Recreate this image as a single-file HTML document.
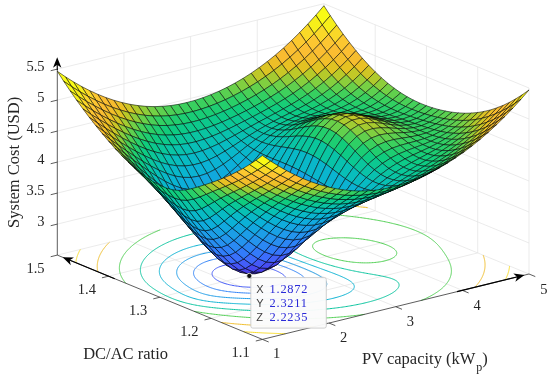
<!DOCTYPE html><html><head><meta charset="utf-8"><style>html,body{margin:0;padding:0;background:#fff}svg{display:block}</style></head><body><svg width="550" height="377" viewBox="0 0 550 377">
<rect width="550" height="377" fill="#fff"/>
<path d="M123.95,238.75L123.95,52.75M329.05,323.05L123.95,238.75M190.6,222.4L190.6,36.4M395.7,306.7L190.6,222.4M257.25,206.05L257.25,20.05M462.35,290.35L257.25,206.05M323.9,189.7L323.9,3.7M529,274L323.9,189.7M529,274L529,88M477.73,252.92L477.73,66.92M426.45,231.85L426.45,45.85M375.18,210.77L375.18,24.77M211.12,318.32L477.73,252.92M159.85,297.25L426.45,231.85M108.57,276.18L375.18,210.77M57.3,255.1L323.9,189.7M57.3,224.1L323.9,158.7L529,243M57.3,193.1L323.9,127.7L529,212M57.3,162.1L323.9,96.7L529,181M57.3,131.1L323.9,65.7L529,150M57.3,100.1L323.9,34.7L529,119M57.3,69.1L323.9,3.7L529,88" fill="none" stroke="#e4e4e4" stroke-width="0.75"/>
<path d="M230.22,264.28 230.37,264.26 231.77,264.11 233.22,263.98 233.97,263.92 234.74,263.87 236.32,263.79 236.86,263.77 237.97,263.74 239.34,263.73 239.7,263.73 241.52,263.74 241.56,263.74 243.44,263.8 243.59,263.81 245.46,263.91 245.47,263.91 247.24,264.03 247.62,264.06 248.92,264.18 249.93,264.28 250.53,264.35 252.06,264.53 252.42,264.58 253.54,264.73 254.96,264.94 255.15,264.97 256.34,265.17 257.67,265.4 258.22,265.5 258.96,265.65 260.21,265.9 261.44,266.16 261.77,266.23 262.62,266.43 263.78,266.71 264.91,266.99 266.02,267.28 266.24,267.34 267.09,267.58 268.13,267.88 269.16,268.19 270.16,268.51 271.13,268.83 272.09,269.16 273.01,269.49 273.92,269.83 274.8,270.17 275.66,270.52 276.49,270.88 277.3,271.24 278.08,271.61 278.84,271.99 279.57,272.37 280.28,272.76 280.96,273.15 281.61,273.55 282.04,273.84 282.23,273.96 282.8,274.38 283.35,274.81 283.86,275.24 284.01,275.37 284.33,275.69 284.75,276.15 285.07,276.54 285.13,276.61 285.44,277.1 285.66,277.51 285.7,277.6 285.87,278.11 285.93,278.35 285.97,278.65 285.99,279.1 285.98,279.21 285.87,279.78 285.86,279.8 285.6,280.4 285.59,280.43 285.22,280.97 285.1,281.11 284.73,281.5 284.33,281.86 284.16,282 283.51,282.46 283.05,282.73 282.78,282.89 281.99,283.29 281.15,283.68 280.59,283.9 280.24,284.03 279.28,284.37 278.28,284.68 277.22,284.98 276.12,285.26 274.98,285.51 273.79,285.76 272.56,285.98 271.29,286.19 271.2,286.2 269.98,286.38 268.63,286.55 267.23,286.71 266.6,286.77 265.8,286.84 264.32,286.97 263.19,287.04 262.8,287.07 261.23,287.16 260.28,287.2 259.62,287.22 257.96,287.27 257.67,287.28 256.25,287.3 255.28,287.3 254.49,287.3 253.05,287.29 252.67,287.28 250.94,287.24 250.79,287.24 248.95,287.17 248.84,287.17 247.05,287.08 246.81,287.06 245.24,286.96 244.69,286.92 243.5,286.83 242.47,286.73 241.83,286.67 240.22,286.51 240.12,286.5 238.68,286.33 237.58,286.18 237.19,286.13 235.75,285.92 234.81,285.77 234.37,285.7 233.03,285.47 231.74,285.22 231.65,285.2 230.51,284.97 229.31,284.7 228.16,284.42 227.63,284.28 227.05,284.13 225.99,283.83 224.96,283.52 223.97,283.2 223.02,282.87 222.11,282.54 221.24,282.19 220.4,281.84 219.6,281.47 218.83,281.1 218.1,280.72 217.41,280.33 216.75,279.93 216.26,279.61 216.13,279.52 215.54,279.1 215,278.67 214.49,278.24 214.33,278.08 214.03,277.79 213.6,277.33 213.26,276.92 213.22,276.87 212.89,276.39 212.62,275.92 212.61,275.9 212.38,275.39 212.26,275.05 212.21,274.87 212.1,274.34 212.09,274.25 212.06,273.78 212.07,273.51 212.1,273.21 212.17,272.82 212.23,272.62 212.38,272.18 212.46,272 212.68,271.57 212.81,271.36 213.06,271 213.32,270.67 213.5,270.46 214.01,269.94 214.02,269.94 214.59,269.44 214.99,269.14 215.22,268.97 215.9,268.52 216.39,268.24 216.63,268.1 217.42,267.69 218.24,267.3 218.68,267.11 219.12,266.93 220.04,266.58 221,266.25 222.01,265.93 223.06,265.64 224.16,265.36 225.31,265.1 226.5,264.86 227.74,264.64 229.03,264.44 230.22,264.28" fill="none" stroke="#445af7" stroke-width="1.0"/>
<path d="M221.08,258.11 222.17,257.98 223.57,257.82 225.01,257.69 225.14,257.68 226.5,257.57 228.03,257.47 228.34,257.45 229.61,257.39 231.09,257.34 231.25,257.33 232.94,257.3 233.54,257.3 234.7,257.3 235.79,257.31 236.53,257.32 237.89,257.35 238.43,257.37 239.86,257.43 240.42,257.46 241.73,257.53 242.5,257.58 243.5,257.66 244.69,257.75 245.21,257.8 246.85,257.96 247,257.97 248.43,258.13 249.45,258.25 249.96,258.32 251.45,258.51 252.07,258.6 252.89,258.72 254.29,258.94 254.9,259.03 255.66,259.16 257,259.39 257.98,259.57 258.32,259.63 259.6,259.88 260.86,260.13 261.38,260.24 262.09,260.39 263.3,260.65 264.49,260.92 265.23,261.1 265.66,261.2 266.81,261.48 267.95,261.76 269.07,262.04 269.75,262.22 270.17,262.33 271.25,262.63 272.33,262.93 273.38,263.23 274.43,263.53 275.46,263.84 275.48,263.85 276.47,264.15 277.48,264.47 278.47,264.79 279.45,265.11 280.42,265.43 281.37,265.76 282.32,266.09 283.25,266.42 284.17,266.75 285.08,267.09 285.82,267.37 285.98,267.43 286.87,267.77 287.74,268.12 288.6,268.47 289.46,268.82 290.3,269.18 291.12,269.53 291.59,269.74 291.94,269.9 292.74,270.26 293.53,270.63 294.3,271 295.06,271.37 295.8,271.75 296.53,272.13 297.25,272.52 297.95,272.91 298.63,273.3 298.95,273.5 299.29,273.7 299.93,274.1 300.55,274.51 301.15,274.93 301.73,275.35 301.79,275.39 302.28,275.77 302.81,276.2 303.31,276.64 303.5,276.82 303.77,277.09 304.2,277.54 304.61,278.01 304.61,278.01 304.96,278.48 305.28,278.96 305.32,279.03 305.55,279.46 305.75,279.94 305.76,279.96 305.92,280.49 305.97,280.76 306,281.03 306.02,281.51 306.02,281.59 305.94,282.17 305.93,282.2 305.75,282.77 305.72,282.84 305.43,283.41 305.41,283.44 305.01,284.01 304.94,284.09 304.54,284.54 304.24,284.83 303.99,285.05 303.39,285.53 303.24,285.63 302.72,285.98 302.01,286.42 301.75,286.56 301.24,286.83 300.44,287.23 299.58,287.61 299.33,287.71 298.69,287.97 297.77,288.32 296.8,288.65 295.8,288.97 294.77,289.28 293.71,289.57 292.62,289.85 291.5,290.12 290.35,290.38 289.17,290.62 287.97,290.85 286.74,291.08 285.48,291.29 284.2,291.49 283.54,291.59 282.89,291.68 281.55,291.86 280.19,292.03 278.8,292.19 278.79,292.19 277.39,292.34 275.95,292.48 275.01,292.56 274.48,292.6 272.99,292.72 271.7,292.81 271.48,292.82 269.93,292.92 268.7,292.98 268.36,293 266.76,293.07 265.91,293.11 265.14,293.13 263.48,293.18 263.29,293.19 261.8,293.22 260.81,293.24 260.09,293.25 258.43,293.26 258.34,293.26 256.57,293.26 256.15,293.26 254.77,293.25 253.94,293.24 252.93,293.22 251.81,293.2 251.07,293.18 249.73,293.15 249.16,293.13 247.72,293.08 247.23,293.06 245.75,293 245.25,292.98 243.83,292.91 243.24,292.88 241.96,292.81 241.18,292.77 240.13,292.7 239.07,292.63 238.34,292.58 236.91,292.47 236.6,292.45 234.89,292.3 234.68,292.28 233.23,292.15 232.37,292.06 231.61,291.99 230.03,291.81 229.97,291.8 228.5,291.63 227.42,291.49 227.01,291.43 225.56,291.23 224.69,291.09 224.16,291.01 222.8,290.78 221.66,290.58 221.48,290.54 220.21,290.29 218.98,290.04 218.06,289.83 217.8,289.77 216.65,289.49 215.54,289.2 214.47,288.9 213.44,288.59 212.77,288.38 212.44,288.28 211.47,287.95 210.54,287.62 209.64,287.28 208.76,286.93 207.91,286.58 207.09,286.22 206.29,285.86 205.52,285.49 204.77,285.11 204.6,285.02 204.04,284.73 203.33,284.34 202.65,283.95 201.98,283.55 201.34,283.15 200.72,282.74 200.56,282.63 200.11,282.32 199.53,281.91 198.97,281.48 198.44,281.05 198.38,281.01 197.92,280.62 197.43,280.18 196.96,279.73 196.89,279.67 196.52,279.28 196.1,278.82 195.82,278.5 195.7,278.36 195.34,277.89 195.02,277.44 195,277.41 194.7,276.92 194.45,276.47 194.42,276.43 194.18,275.93 194.04,275.58 193.98,275.42 193.81,274.9 193.76,274.74 193.68,274.37 193.61,273.94 193.59,273.83 193.55,273.28 193.55,273.19 193.56,272.72 193.57,272.47 193.61,272.14 193.67,271.78 193.73,271.55 193.84,271.12 193.9,270.95 194.07,270.49 194.14,270.33 194.36,269.88 194.46,269.69 194.7,269.29 194.87,269.03 195.08,268.72 195.37,268.34 195.51,268.16 195.98,267.63 195.98,267.63 196.5,267.11 196.73,266.89 197.05,266.61 197.63,266.12 197.65,266.1 198.25,265.64 198.79,265.26 198.9,265.18 199.59,264.73 200.22,264.35 200.3,264.3 201.05,263.88 201.83,263.47 202.11,263.33 202.63,263.07 203.47,262.68 204.33,262.31 204.88,262.09 205.22,261.95 206.14,261.6 207.09,261.26 208.07,260.93 209.07,260.61 210.11,260.31 211.17,260.02 212.26,259.74 213.39,259.47 214.54,259.22 215.73,258.97 216.95,258.75 218.2,258.53 219.48,258.33 220.81,258.15 221.08,258.11" fill="none" stroke="#2e81f8" stroke-width="1.0"/>
<path d="M211.98,251.93 212.57,251.84 213.89,251.66 215.25,251.49 216.64,251.33 216.75,251.32 218.07,251.19 219.53,251.06 220.36,251 221.03,250.95 222.57,250.85 223.41,250.81 224.15,250.77 225.79,250.71 226.12,250.71 227.47,250.68 228.57,250.67 229.21,250.66 230.83,250.67 231.01,250.67 232.87,250.71 232.95,250.71 234.81,250.78 234.94,250.79 236.83,250.88 236.84,250.88 238.63,251 238.96,251.03 240.36,251.14 241.19,251.21 242.02,251.29 243.54,251.45 243.62,251.46 245.17,251.64 246.05,251.75 246.67,251.83 248.13,252.04 248.72,252.12 249.55,252.25 250.94,252.47 251.61,252.58 252.29,252.7 253.62,252.93 254.76,253.15 254.92,253.18 256.19,253.42 257.44,253.68 258.24,253.85 258.67,253.94 259.88,254.2 261.07,254.47 262.14,254.72 262.24,254.74 263.4,255.02 264.54,255.3 265.67,255.59 266.62,255.83 266.78,255.87 267.88,256.17 268.97,256.46 270.05,256.76 271.12,257.05 271.93,257.28 272.18,257.36 273.22,257.66 274.26,257.97 275.29,258.27 276.32,258.58 277.33,258.89 278.34,259.21 278.51,259.26 279.34,259.52 280.34,259.84 281.32,260.16 282.31,260.48 283.28,260.8 284.25,261.12 285.22,261.45 286.18,261.77 287.13,262.1 287.52,262.24 288.08,262.43 289.02,262.76 289.96,263.09 290.89,263.42 291.82,263.75 292.74,264.09 293.66,264.42 294.57,264.76 295.48,265.1 296.39,265.44 297.29,265.78 298.18,266.12 299.07,266.46 299.95,266.81 300.83,267.15 301.71,267.5 302.57,267.85 303.44,268.2 304.29,268.55 305.14,268.9 305.99,269.25 306.82,269.61 307.65,269.97 308.48,270.33 309.29,270.69 310.1,271.05 310.9,271.41 311.69,271.78 312.48,272.15 313.25,272.52 314.01,272.89 314.77,273.27 315.51,273.65 316.24,274.03 316.31,274.07 316.95,274.42 317.66,274.8 318.35,275.2 319.02,275.59 319.68,275.99 320.33,276.39 320.56,276.55 320.95,276.8 321.55,277.21 322.14,277.63 322.7,278.05 322.96,278.26 323.23,278.48 323.74,278.92 324.23,279.36 324.49,279.62 324.68,279.81 325.1,280.27 325.48,280.74 325.5,280.76 325.82,281.21 326.12,281.7 326.15,281.76 326.37,282.2 326.55,282.65 326.57,282.71 326.7,283.24 326.74,283.46 326.77,283.79 326.78,284.2 326.77,284.35 326.68,284.89 326.67,284.93 326.48,285.54 326.48,285.54 326.18,286.15 326.16,286.18 325.8,286.72 325.69,286.86 325.35,287.26 325.04,287.58 324.83,287.78 324.26,288.27 324.15,288.36 323.63,288.74 322.96,289.2 322.93,289.22 322.24,289.63 321.49,290.05 321.18,290.21 320.69,290.45 319.86,290.84 319,291.21 318.47,291.43 318.11,291.58 317.19,291.93 316.23,292.27 315.26,292.59 314.25,292.91 313.23,293.22 312.17,293.51 311.1,293.8 310.95,293.84 310,294.08 308.88,294.35 308.75,294.38 307.74,294.61 306.58,294.86 305.4,295.1 304.2,295.34 302.98,295.57 301.74,295.78 300.48,296 299.2,296.2 298.77,296.26 297.9,296.4 296.59,296.58 295.25,296.76 293.9,296.94 293.58,296.98 292.53,297.1 291.14,297.26 289.73,297.41 289.37,297.45 288.31,297.55 286.86,297.69 285.67,297.79 285.4,297.82 283.92,297.94 282.42,298.05 282.32,298.06 280.9,298.15 279.36,298.25 279.21,298.26 277.8,298.34 276.28,298.42 276.22,298.42 274.62,298.49 273.51,298.54 273,298.56 271.36,298.61 270.85,298.63 269.7,298.66 268.3,298.69 268.02,298.7 266.32,298.73 265.84,298.73 264.6,298.75 263.45,298.76 262.86,298.76 261.13,298.77 261.1,298.77 259.32,298.76 258.87,298.76 257.51,298.75 256.66,298.74 255.69,298.73 254.49,298.71 253.85,298.7 252.37,298.67 251.98,298.67 250.27,298.63 250.1,298.62 248.21,298.57 248.2,298.57 246.29,298.51 246.18,298.51 244.35,298.44 244.18,298.44 242.4,298.37 242.2,298.36 240.43,298.29 240.24,298.28 238.44,298.2 238.31,298.19 236.43,298.1 236.4,298.1 234.51,298 234.4,298 232.65,297.9 232.34,297.88 230.82,297.79 230.25,297.75 229.01,297.67 228.13,297.61 227.24,297.55 225.96,297.45 225.5,297.41 223.79,297.27 223.74,297.27 222.13,297.12 221.45,297.05 220.5,296.95 219.06,296.8 218.92,296.78 217.39,296.6 216.52,296.48 215.9,296.4 214.45,296.19 213.8,296.09 213.06,295.98 211.71,295.75 210.75,295.57 210.4,295.51 209.15,295.25 207.93,294.99 207.09,294.79 206.76,294.72 205.63,294.43 204.54,294.14 203.49,293.84 202.47,293.53 201.49,293.21 201.25,293.12 200.54,292.88 199.62,292.54 198.73,292.2 197.87,291.85 197.03,291.49 196.21,291.13 195.42,290.77 194.85,290.49 194.65,290.4 193.9,290.02 193.16,289.64 192.44,289.25 191.74,288.87 191.05,288.47 190.38,288.08 189.72,287.68 189.59,287.6 189.07,287.28 188.43,286.87 187.81,286.47 187.2,286.05 186.61,285.65 186.6,285.64 186.01,285.22 185.43,284.8 184.87,284.38 184.38,284 184.32,283.96 183.78,283.53 183.26,283.09 182.75,282.66 182.64,282.56 182.26,282.22 181.78,281.78 181.31,281.33 181.24,281.25 180.87,280.88 180.44,280.42 180.12,280.06 180.03,279.96 179.63,279.5 179.26,279.03 179.21,278.96 178.91,278.55 178.58,278.07 178.49,277.94 178.27,277.59 177.99,277.1 177.93,276.97 177.73,276.6 177.5,276.09 177.48,276.06 177.29,275.58 177.15,275.2 177.11,275.07 176.96,274.54 176.92,274.37 176.84,274.01 176.76,273.58 176.75,273.47 176.69,272.93 176.69,272.82 176.67,272.37 176.67,272.09 176.69,271.81 176.72,271.38 176.74,271.23 176.83,270.69 176.83,270.65 176.97,270.05 176.98,270.02 177.15,269.45 177.18,269.38 177.39,268.83 177.42,268.75 177.67,268.2 177.7,268.13 178.02,267.55 178.03,267.54 178.38,266.96 178.42,266.89 178.77,266.39 178.9,266.22 179.19,265.83 179.45,265.52 179.65,265.29 180.08,264.8 180.13,264.76 180.64,264.24 180.82,264.06 181.17,263.73 181.66,263.3 181.73,263.23 182.32,262.74 182.63,262.49 182.93,262.26 183.57,261.8 183.76,261.66 184.22,261.34 184.9,260.89 185.09,260.77 185.61,260.45 186.33,260.02 186.68,259.82 187.08,259.59 187.84,259.18 188.61,258.78 188.63,258.77 189.44,258.38 190.27,257.99 191.12,257.61 191.12,257.61 191.99,257.24 192.88,256.87 193.79,256.52 194.72,256.17 194.79,256.15 195.67,255.83 196.64,255.5 197.63,255.18 198.64,254.87 199.68,254.56 200.73,254.27 201.81,253.98 202.91,253.71 204.03,253.44 205.17,253.18 206.34,252.93 207.53,252.69 208.75,252.46 210,252.24 211.27,252.04 211.98,251.93" fill="none" stroke="#1d9ce8" stroke-width="1.0"/>
<path d="M198.26,245.2 199.36,244.96 200.54,244.71 201.73,244.47 202.94,244.24 204.18,244.02 205.43,243.81 206.7,243.6 207.66,243.45 208,243.4 209.32,243.22 210.66,243.04 212.03,242.87 212.54,242.82 213.43,242.72 214.86,242.58 216.32,242.45 216.35,242.44 217.81,242.33 219.33,242.23 219.57,242.22 220.9,242.14 222.42,242.08 222.5,242.07 224.16,242.03 224.99,242.01 225.86,242 227.35,241.99 227.62,241.99 229.45,242.01 229.53,242.02 231.35,242.07 231.58,242.07 233.34,242.15 233.51,242.16 235.33,242.28 235.43,242.28 237.06,242.41 237.64,242.46 238.72,242.57 240,242.7 240.31,242.74 241.83,242.93 242.55,243.02 243.29,243.13 244.71,243.34 245.35,243.44 246.08,243.57 247.41,243.8 248.49,244.01 248.69,244.05 249.95,244.3 251.17,244.56 252.13,244.78 252.36,244.83 253.53,245.1 254.67,245.38 255.79,245.67 256.6,245.88 256.89,245.96 257.98,246.26 259.04,246.56 260.09,246.86 261.12,247.17 262.14,247.48 262.59,247.61 263.15,247.79 264.15,248.11 265.14,248.42 266.12,248.75 267.09,249.07 268.06,249.39 269.01,249.72 269.96,250.05 270.91,250.38 271.85,250.71 272.1,250.79 272.78,251.04 273.72,251.37 274.64,251.7 275.57,252.04 276.49,252.37 277.41,252.71 278.33,253.04 279.24,253.38 280.16,253.71 281.07,254.05 281.98,254.39 282.89,254.73 283.8,255.06 284.71,255.4 285.62,255.74 286.53,256.08 287.44,256.42 288.35,256.75 288.65,256.87 289.25,257.09 290.16,257.43 291.07,257.77 291.98,258.11 292.89,258.44 293.8,258.78 294.71,259.12 295.62,259.46 296.53,259.79 297.45,260.13 298.36,260.47 299.27,260.8 300.19,261.14 301.1,261.48 302.02,261.81 302.93,262.15 303.85,262.49 304.77,262.82 305.69,263.16 306,263.27 306.61,263.49 307.53,263.83 308.45,264.16 309.37,264.5 310.3,264.83 311.22,265.17 312.14,265.5 313.07,265.83 313.99,266.17 314.92,266.5 315.84,266.84 316.77,267.17 317.69,267.5 318.61,267.84 319.54,268.17 320.46,268.51 320.89,268.66 321.39,268.84 322.31,269.18 323.23,269.51 324.16,269.84 325.08,270.18 325.99,270.52 326.91,270.85 327.83,271.19 328.74,271.52 329.65,271.86 330.56,272.2 331.46,272.54 332.36,272.88 333.26,273.22 334.15,273.56 335.04,273.91 335.92,274.25 336.8,274.6 337.67,274.94 338.53,275.29 339.38,275.64 340.23,276 341.06,276.35 341.89,276.71 342.7,277.07 343.5,277.44 344.29,277.81 345.06,278.18 345.82,278.55 346.56,278.93 347.28,279.32 347.98,279.71 348.51,280.01 348.66,280.1 349.31,280.5 349.94,280.91 350.54,281.32 351.1,281.74 351.27,281.88 351.64,282.17 352.13,282.61 352.59,283.06 352.72,283.2 353,283.52 353.37,283.99 353.56,284.28 353.69,284.48 353.94,284.97 354.04,285.2 354.14,285.49 354.26,286.02 354.26,286.02 354.31,286.57 354.3,286.77 354.26,287.14 354.2,287.46 354.12,287.73 353.99,288.1 353.87,288.36 353.68,288.7 353.48,289.01 353.29,289.27 352.93,289.71 352.84,289.81 352.33,290.33 352.2,290.45 351.76,290.83 351.22,291.25 351.15,291.3 350.49,291.76 349.92,292.13 349.79,292.21 349.06,292.63 348.3,293.05 348.16,293.12 347.5,293.45 346.68,293.84 345.83,294.22 345.66,294.3 344.96,294.59 344.06,294.95 343.13,295.3 342.19,295.64 341.52,295.87 341.22,295.97 340.24,296.3 339.23,296.61 338.21,296.92 337.17,297.22 336.11,297.52 335.03,297.8 333.94,298.08 332.83,298.36 331.7,298.62 330.56,298.88 329.41,299.14 328.24,299.39 327.05,299.63 325.85,299.86 324.64,300.09 323.41,300.32 323.41,300.32 322.16,300.53 320.91,300.75 319.64,300.95 318.35,301.16 317.06,301.35 316.68,301.41 315.74,301.54 314.42,301.73 313.08,301.91 311.73,302.08 311.57,302.1 310.37,302.25 308.99,302.41 307.6,302.57 307.2,302.61 306.19,302.72 304.77,302.87 303.34,303.01 303.27,303.01 301.9,303.14 300.44,303.27 299.67,303.33 298.97,303.39 297.48,303.51 296.3,303.6 295.98,303.62 294.46,303.73 293.12,303.82 292.93,303.83 291.39,303.93 290.1,304 289.83,304.01 288.26,304.1 287.21,304.15 286.67,304.17 285.07,304.24 284.43,304.27 283.45,304.31 281.82,304.37 281.74,304.37 280.17,304.42 279.14,304.44 278.5,304.46 276.82,304.5 276.62,304.5 275.12,304.53 274.16,304.54 273.41,304.55 271.77,304.57 271.67,304.57 269.92,304.58 269.43,304.58 268.16,304.58 267.15,304.58 266.37,304.58 264.91,304.57 264.57,304.57 262.75,304.55 262.71,304.55 260.92,304.52 260.55,304.52 259.07,304.49 258.42,304.48 257.2,304.45 256.33,304.43 255.31,304.41 254.26,304.38 253.41,304.35 252.22,304.32 251.49,304.3 250.2,304.25 249.56,304.23 248.2,304.18 247.62,304.16 246.22,304.11 245.66,304.09 244.26,304.03 243.69,304 242.31,303.94 241.71,303.92 240.37,303.86 239.71,303.83 238.45,303.77 237.71,303.73 236.55,303.67 235.69,303.63 234.66,303.58 233.65,303.53 232.78,303.48 231.61,303.41 230.92,303.37 229.54,303.29 229.08,303.26 227.45,303.16 227.25,303.15 225.45,303.03 225.34,303.03 223.67,302.91 223.2,302.88 221.91,302.78 221.03,302.71 220.18,302.64 218.81,302.53 218.48,302.5 216.82,302.35 216.53,302.32 215.18,302.19 214.17,302.08 213.58,302.02 212.02,301.84 211.73,301.81 210.49,301.65 209.17,301.48 209,301.46 207.55,301.25 206.43,301.09 206.14,301.04 204.76,300.82 203.46,300.59 203.42,300.59 202.11,300.34 200.84,300.09 200.1,299.94 199.61,299.84 198.41,299.57 197.24,299.3 196.1,299.01 196.01,298.99 195,298.72 193.93,298.43 192.88,298.12 191.87,297.81 190.88,297.49 189.91,297.17 189.15,296.9 188.97,296.84 188.06,296.5 187.17,296.16 186.3,295.81 185.45,295.46 184.62,295.1 183.8,294.74 183.04,294.39 183.01,294.37 182.23,294 181.47,293.63 180.72,293.25 179.99,292.87 179.27,292.49 178.56,292.1 177.86,291.71 177.17,291.32 176.77,291.08 176.5,290.92 175.83,290.52 175.18,290.12 174.53,289.72 173.89,289.32 173.26,288.91 173.26,288.91 172.64,288.5 172.03,288.09 171.43,287.68 170.84,287.26 170.59,287.08 170.26,286.84 169.69,286.42 169.12,286 168.57,285.58 168.44,285.47 168.03,285.15 167.5,284.72 166.98,284.28 166.67,284.01 166.48,283.85 165.98,283.41 165.5,282.96 165.22,282.69 165.04,282.52 164.59,282.07 164.15,281.61 164.01,281.46 163.73,281.16 163.32,280.69 163.01,280.32 162.93,280.23 162.56,279.76 162.2,279.29 162.18,279.25 161.86,278.81 161.55,278.32 161.49,278.24 161.24,277.84 160.96,277.35 160.93,277.28 160.7,276.85 160.47,276.36 160.46,276.35 160.24,275.84 160.1,275.48 160.05,275.33 159.87,274.81 159.82,274.64 159.72,274.29 159.6,273.82 159.59,273.76 159.49,273.22 159.46,273.03 159.41,272.68 159.37,272.26 159.36,272.13 159.33,271.58 159.33,271.52 159.33,271.01 159.34,270.79 159.36,270.45 159.4,270.09 159.43,269.87 159.5,269.4 159.52,269.29 159.64,268.73 159.64,268.7 159.8,268.1 159.81,268.07 160,267.49 160.02,267.43 160.23,266.87 160.26,266.8 160.5,266.24 160.53,266.18 160.81,265.6 160.83,265.57 161.15,264.98 161.17,264.96 161.51,264.39 161.57,264.3 161.88,263.82 162.02,263.62 162.29,263.26 162.53,262.94 162.71,262.7 163.09,262.24 163.16,262.16 163.63,261.62 163.71,261.53 164.12,261.09 164.4,260.8 164.63,260.57 165.16,260.06 165.17,260.05 165.7,259.56 166.02,259.28 166.27,259.06 166.85,258.57 166.96,258.49 167.46,258.09 168.01,257.67 168.08,257.62 168.71,257.15 169.17,256.82 169.36,256.69 170.03,256.23 170.48,255.94 170.72,255.79 171.42,255.34 171.96,255.02 172.14,254.91 172.87,254.48 173.62,254.06 173.65,254.04 174.38,253.64 175.15,253.23 175.62,253 175.95,252.83 176.75,252.43 177.57,252.04 177.96,251.86 178.41,251.66 179.26,251.28 180.12,250.9 180.87,250.59 181,250.53 181.89,250.17 182.8,249.81 183.72,249.46 184.66,249.12 184.87,249.05 185.61,248.78 186.57,248.45 187.55,248.12 188.55,247.8 189.56,247.49 190.58,247.18 191.63,246.88 192.68,246.59 193.43,246.39 193.75,246.3 194.84,246.02 195.95,245.74 197.07,245.47 198.21,245.21 198.26,245.2" fill="none" stroke="#0bb3d3" stroke-width="1.0"/>
<path d="M203.91,231.47 205.06,231.26 206.29,231.04 207.53,230.82 208.79,230.6 210.06,230.4 211.34,230.19 211.54,230.16 212.63,230 213.94,229.81 215.27,229.62 216.6,229.44 216.95,229.4 217.96,229.27 219.33,229.1 220.71,228.94 221.4,228.87 222.11,228.79 223.53,228.64 224.96,228.5 225.28,228.48 226.42,228.37 227.9,228.25 228.76,228.18 229.39,228.14 230.91,228.03 231.94,227.96 232.45,227.93 234.01,227.85 234.88,227.8 235.6,227.77 237.22,227.71 237.62,227.69 238.87,227.66 240.18,227.62 240.54,227.62 242.26,227.59 242.6,227.59 244.02,227.59 244.89,227.59 245.83,227.6 247.05,227.62 247.69,227.64 249.1,227.68 249.61,227.7 251.05,227.76 251.62,227.79 252.9,227.87 253.72,227.93 254.66,228 255.95,228.12 256.33,228.15 257.91,228.32 258.37,228.38 259.4,228.52 260.82,228.73 261.12,228.78 262.16,228.96 263.41,229.22 264.59,229.49 264.63,229.5 265.7,229.78 266.74,230.08 267.7,230.41 268.59,230.75 269.42,231.11 270.18,231.48 270.89,231.87 271.54,232.27 271.75,232.43 272.14,232.69 272.69,233.11 273.2,233.55 273.58,233.9 273.67,233.99 274.12,234.44 274.54,234.9 274.7,235.09 274.94,235.36 275.32,235.83 275.6,236.19 275.69,236.3 276.06,236.77 276.41,237.25 276.42,237.26 276.78,237.72 277.14,238.19 277.23,238.32 277.5,238.66 277.88,239.13 278.09,239.4 278.26,239.6 278.65,240.06 279.05,240.53 279.05,240.53 279.47,240.98 279.89,241.44 280.14,241.7 280.33,241.89 280.79,242.34 281.25,242.79 281.43,242.97 281.73,243.23 282.23,243.67 282.73,244.11 283.01,244.34 283.25,244.54 283.79,244.97 284.34,245.4 284.9,245.82 284.98,245.88 285.48,246.24 286.07,246.66 286.67,247.07 287.28,247.48 287.58,247.68 287.91,247.89 288.54,248.29 289.19,248.69 289.86,249.09 290.53,249.49 291.21,249.88 291.31,249.94 291.9,250.27 292.61,250.66 293.32,251.05 294.05,251.43 294.78,251.81 295.52,252.19 296.28,252.57 297.04,252.94 297.81,253.31 298.27,253.53 298.59,253.68 299.38,254.05 300.18,254.41 300.98,254.78 301.8,255.14 302.62,255.5 303.45,255.85 304.29,256.21 305.13,256.56 305.99,256.91 306.85,257.26 307.72,257.61 308.6,257.96 309.48,258.3 310.38,258.64 311.27,258.98 312.18,259.32 313.1,259.66 313.77,259.9 314.02,259.99 314.95,260.32 315.89,260.66 316.83,260.98 317.78,261.31 318.74,261.64 319.71,261.96 320.69,262.28 321.67,262.6 322.66,262.92 323.65,263.24 323.67,263.24 324.66,263.55 325.68,263.86 326.7,264.17 327.73,264.48 328.76,264.79 329.81,265.09 330.27,265.23 330.86,265.39 331.93,265.69 333,265.99 334.08,266.29 335.17,266.58 335.68,266.72 336.26,266.87 337.37,267.16 338.49,267.45 339.61,267.73 340.4,267.93 340.75,268.02 341.9,268.3 343.05,268.57 344.21,268.85 344.67,268.96 345.39,269.12 346.58,269.39 347.77,269.66 348.61,269.85 348.97,269.93 350.19,270.19 351.42,270.45 352.3,270.64 352.65,270.71 353.9,270.96 355.15,271.21 355.8,271.34 356.42,271.46 357.7,271.71 358.98,271.96 359.15,271.99 360.28,272.2 361.58,272.44 362.38,272.59 362.89,272.68 364.21,272.92 365.53,273.16 365.53,273.16 366.87,273.39 368.2,273.62 368.62,273.7 369.54,273.86 370.88,274.09 371.7,274.23 372.22,274.32 373.56,274.55 374.77,274.77 374.89,274.79 376.22,275.02 377.53,275.26 377.92,275.33 378.84,275.5 380.13,275.74 381.21,275.96 381.4,275.99 382.66,276.25 383.89,276.51 384.84,276.72 385.08,276.77 386.26,277.05 387.39,277.33 388.49,277.62 389.53,277.92 389.55,277.92 390.56,278.23 391.53,278.56 392.45,278.89 393.32,279.24 394.13,279.6 394.89,279.98 395.59,280.36 395.81,280.5 396.24,280.77 396.82,281.18 397.35,281.62 397.77,282.03 397.8,282.07 398.2,282.53 398.52,283.01 398.56,283.09 398.78,283.51 398.94,283.97 398.96,284.03 399.07,284.56 399.09,284.76 399.11,285.11 399.08,285.49 399.06,285.68 398.95,286.17 398.93,286.28 398.74,286.81 398.7,286.89 398.45,287.42 398.39,287.53 398.09,288 397.96,288.2 397.69,288.56 397.43,288.89 397.24,289.11 396.77,289.61 396.75,289.63 396.21,290.14 395.97,290.37 395.65,290.64 395.06,291.13 395.01,291.17 394.43,291.6 393.86,292.01 393.78,292.06 393.11,292.51 392.49,292.9 392.41,292.95 391.69,293.39 390.95,293.81 390.84,293.87 390.18,294.23 389.4,294.63 388.83,294.92 388.61,295.04 387.79,295.43 386.95,295.81 386.32,296.1 386.11,296.19 385.24,296.57 384.36,296.93 383.46,297.3 383,297.48 382.55,297.65 381.63,298 380.69,298.34 379.73,298.68 378.77,299.01 378.06,299.25 377.79,299.34 376.8,299.66 375.79,299.98 374.78,300.29 373.75,300.59 372.71,300.9 371.66,301.19 370.59,301.48 369.52,301.77 368.43,302.05 367.34,302.33 366.23,302.61 365.11,302.87 363.98,303.14 362.84,303.4 361.69,303.66 360.52,303.91 359.35,304.15 358.17,304.4 356.98,304.64 355.77,304.87 354.56,305.1 353.33,305.33 353.14,305.36 352.1,305.55 350.86,305.77 349.6,305.98 348.34,306.19 347.07,306.4 345.88,306.58 345.78,306.6 344.49,306.79 343.19,306.99 341.87,307.18 340.55,307.36 340.24,307.4 339.22,307.54 337.87,307.72 336.52,307.89 335.38,308.04 335.16,308.06 333.79,308.23 332.4,308.39 331.02,308.55 331.01,308.55 329.61,308.7 328.2,308.85 327,308.97 326.78,308.99 325.34,309.13 323.9,309.27 323.25,309.33 322.45,309.4 320.99,309.53 319.71,309.64 319.51,309.65 318.03,309.77 316.54,309.89 316.34,309.9 315.04,310 313.52,310.11 313.11,310.13 312,310.21 310.46,310.31 310.01,310.33 308.92,310.4 307.36,310.49 307.01,310.51 305.79,310.57 304.21,310.65 304.11,310.66 302.62,310.73 301.3,310.79 301.02,310.8 299.4,310.87 298.57,310.9 297.78,310.93 296.14,310.98 295.9,310.99 294.49,311.03 293.3,311.07 292.83,311.08 291.16,311.12 290.76,311.13 289.47,311.16 288.27,311.18 287.77,311.19 286.06,311.21 285.84,311.21 284.33,311.23 283.45,311.24 282.59,311.25 281.11,311.25 280.84,311.25 279.07,311.26 278.81,311.26 277.29,311.25 276.55,311.25 275.49,311.24 274.33,311.23 273.68,311.23 272.14,311.21 271.85,311.21 270.01,311.18 269.99,311.18 268.15,311.14 267.87,311.14 266.28,311.1 265.77,311.09 264.38,311.05 263.71,311.03 262.48,311 261.68,310.97 260.55,310.94 259.67,310.9 258.61,310.87 257.68,310.83 256.65,310.79 255.72,310.75 254.67,310.71 253.78,310.67 252.68,310.62 251.85,310.58 250.67,310.52 249.95,310.48 248.64,310.42 248.07,310.38 246.6,310.3 246.2,310.28 244.54,310.19 244.35,310.18 242.51,310.06 242.46,310.06 240.69,309.95 240.37,309.93 238.88,309.83 238.26,309.79 237.08,309.71 236.13,309.65 235.3,309.59 233.99,309.5 233.53,309.46 231.83,309.34 231.77,309.33 230.03,309.2 229.66,309.17 228.29,309.07 227.46,309 226.57,308.93 225.24,308.82 224.87,308.78 223.17,308.64 223,308.62 221.5,308.49 220.73,308.42 219.84,308.34 218.42,308.2 218.19,308.18 216.56,308.02 216.08,307.97 214.96,307.85 213.69,307.71 213.37,307.68 211.8,307.5 211.25,307.44 210.25,307.32 208.74,307.14 208.73,307.13 207.22,306.94 206.14,306.8 205.74,306.74 204.29,306.54 203.44,306.42 202.85,306.33 201.45,306.12 200.61,305.98 200.06,305.9 198.7,305.67 197.6,305.48 197.36,305.43 196.05,305.2 194.76,304.95 194.35,304.87 193.5,304.7 192.26,304.44 191.04,304.18 190.74,304.11 189.85,303.91 188.67,303.64 187.52,303.36 186.53,303.11 186.39,303.08 185.29,302.79 184.2,302.49 183.13,302.2 182.08,301.89 181.06,301.58 180.96,301.55 180.05,301.27 179.06,300.95 178.08,300.63 177.12,300.3 176.18,299.97 175.26,299.64 174.35,299.3 173.46,298.96 172.58,298.62 171.71,298.27 170.86,297.91 170.02,297.56 169.19,297.2 168.38,296.84 167.57,296.48 166.78,296.11 166,295.74 165.23,295.37 164.47,295 163.71,294.62 162.97,294.24 162.24,293.86 162.24,293.86 161.52,293.48 160.8,293.09 160.1,292.7 159.4,292.31 158.72,291.92 158.04,291.52 157.39,291.14 157.38,291.13 156.72,290.73 156.07,290.33 155.43,289.92 154.8,289.51 154.18,289.11 154.11,289.06 153.57,288.69 152.97,288.28 152.38,287.86 151.81,287.44 151.62,287.31 151.24,287.02 150.69,286.6 150.14,286.17 149.64,285.76 149.61,285.74 149.09,285.31 148.59,284.87 148.09,284.43 148.03,284.37 147.61,283.99 147.14,283.54 146.69,283.09 146.69,283.09 146.25,282.64 145.82,282.18 145.57,281.9 145.41,281.72 145.01,281.26 144.62,280.79 144.61,280.78 144.25,280.32 143.9,279.85 143.81,279.72 143.56,279.37 143.24,278.89 143.12,278.71 142.93,278.4 142.64,277.92 142.54,277.74 142.36,277.42 142.1,276.92 142.05,276.81 141.86,276.42 141.64,275.92 141.63,275.91 141.43,275.41 141.29,275.04 141.24,274.89 141.06,274.37 141.01,274.2 140.91,273.85 140.79,273.38 140.78,273.32 140.66,272.79 140.62,272.58 140.56,272.25 140.5,271.8 140.48,271.71 140.43,271.17 140.42,271.04 140.39,270.61 140.38,270.29 140.37,270.06 140.38,269.56 140.38,269.49 140.41,268.93 140.41,268.85 140.46,268.35 140.48,268.15 140.53,267.77 140.58,267.46 140.63,267.19 140.71,266.78 140.75,266.6 140.87,266.12 140.9,266 141.05,265.46 141.07,265.4 141.26,264.82 141.27,264.79 141.49,264.19 141.5,264.17 141.75,263.56 141.75,263.55 142.03,262.95 142.04,262.92 142.32,262.34 142.36,262.28 142.64,261.74 142.71,261.63 142.98,261.15 143.09,260.98 143.34,260.57 143.5,260.31 143.71,260 143.96,259.64 144.11,259.43 144.45,258.96 144.52,258.87 144.94,258.31 144.98,258.27 145.38,257.77 145.55,257.57 145.84,257.23 146.17,256.86 146.32,256.69 146.8,256.16 146.83,256.13 147.31,255.64 147.55,255.4 147.82,255.12 148.32,254.65 148.35,254.61 148.9,254.11 149.15,253.88 149.45,253.61 150.02,253.11 150.03,253.1 150.61,252.62 150.99,252.31 151.2,252.14 151.81,251.66 152.03,251.49 152.43,251.18 153.06,250.72 153.14,250.66 153.7,250.25 154.34,249.8 154.36,249.79 155.02,249.34 155.65,248.92 155.7,248.88 156.39,248.44 157.06,248.01 157.09,248 157.8,247.56 158.52,247.13 158.62,247.07 159.25,246.7 160,246.27 160.32,246.09 160.75,245.86 161.51,245.44 162.21,245.07 162.29,245.03 163.07,244.62 163.86,244.22 164.33,243.99 164.67,243.82 165.48,243.43 166.31,243.04 166.73,242.84 167.14,242.65 167.98,242.27 168.84,241.89 169.52,241.59 169.7,241.51 170.57,241.14 171.46,240.78 172.35,240.42 172.88,240.21 173.25,240.06 174.17,239.7 175.09,239.36 176.02,239.01 176.96,238.67 177.17,238.6 177.92,238.33 178.88,238 179.85,237.67 180.83,237.34 181.82,237.02 182.82,236.7 183.68,236.44 183.84,236.39 184.86,236.08 185.89,235.77 186.93,235.47 187.98,235.18 189.05,234.88 190.12,234.6 191.2,234.31 192.3,234.03 193.4,233.76 194.52,233.49 195.64,233.22 196.78,232.96 197.93,232.7 199.09,232.45 200.26,232.2 201.44,231.96 202.64,231.72 203.84,231.49 203.91,231.47" fill="none" stroke="#0ac59f" stroke-width="1.0"/>
<path d="M364.54,314.34 363.28,314.52 361.93,314.69 360.58,314.87 359.63,314.99 359.23,315.04 357.86,315.21 356.48,315.37 355.16,315.52 355.1,315.53 353.71,315.69 352.31,315.84 351.03,315.98 350.9,315.99 349.48,316.14 348.05,316.28 347.16,316.36 346.61,316.42 345.17,316.55 343.72,316.68 343.48,316.7 342.26,316.81 340.78,316.94 339.98,317 339.31,317.06 337.82,317.18 336.62,317.27 336.32,317.29 334.81,317.4 333.39,317.5 333.3,317.51 331.77,317.61 330.26,317.71 330.24,317.71 328.7,317.8 327.23,317.89 327.15,317.89 325.59,317.98 324.28,318.05 324.02,318.06 322.44,318.14 321.41,318.19 320.85,318.22 319.25,318.29 318.61,318.32 317.64,318.36 316.02,318.42 315.87,318.43 314.39,318.48 313.2,318.53 312.76,318.54 311.11,318.59 310.58,318.61 309.45,318.64 308,318.68 307.78,318.68 306.11,318.72 305.48,318.74 304.42,318.76 303,318.78 302.72,318.79 301.01,318.82 300.56,318.82 299.29,318.84 298.16,318.85 297.56,318.86 295.82,318.87 295.79,318.87 294.06,318.88 293.47,318.88 292.3,318.88 291.18,318.88 290.52,318.88 288.91,318.87 288.73,318.87 286.93,318.86 286.68,318.86 285.12,318.85 284.48,318.84 283.29,318.82 282.31,318.81 281.46,318.8 280.16,318.78 279.6,318.77 278.04,318.74 277.74,318.73 275.95,318.69 275.86,318.69 273.97,318.64 273.88,318.64 272.06,318.58 271.83,318.58 270.14,318.52 269.81,318.51 268.21,318.46 267.81,318.44 266.26,318.38 265.83,318.37 264.29,318.3 263.87,318.29 262.31,318.22 261.93,318.2 260.31,318.13 260.01,318.11 258.29,318.03 258.11,318.02 256.25,317.92 256.23,317.92 254.37,317.81 254.2,317.8 252.52,317.71 252.13,317.68 250.69,317.59 250.04,317.55 248.88,317.48 247.93,317.41 247.08,317.36 245.8,317.27 245.3,317.23 243.65,317.11 243.54,317.1 241.79,316.97 241.48,316.95 240.05,316.84 239.29,316.78 238.33,316.7 237.07,316.59 236.63,316.56 234.93,316.41 234.83,316.4 233.25,316.26 232.56,316.2 231.58,316.11 230.27,315.99 229.93,315.96 228.29,315.8 227.96,315.77 226.66,315.64 225.62,315.53 225.04,315.47 223.43,315.31 223.24,315.29 221.84,315.14 220.84,315.03 220.26,314.96 218.69,314.79 218.41,314.76 217.13,314.61 215.93,314.47 215.58,314.43 214.05,314.24 213.42,314.17 212.53,314.05 211.02,313.86 210.87,313.84 209.52,313.67 208.26,313.5 208.04,313.47 206.57,313.27 205.6,313.14 205.11,313.07 203.67,312.86 202.88,312.75 202.24,312.65 200.82,312.44 200.08,312.33 199.42,312.22 198.03,312 197.19,311.87 196.65,311.78 195.29,311.55 194.19,311.36M214.63,216.5 215.12,216.44 216.45,216.25 217.79,216.08 219.13,215.9 219.64,215.84 220.49,215.73 221.86,215.56 223.24,215.4 224.13,215.3 224.62,215.24 226.02,215.09 227.42,214.93 228.25,214.85 228.84,214.79 230.26,214.64 231.69,214.5 232.1,214.46 233.14,214.37 234.59,214.23 235.73,214.13 236.05,214.11 237.53,213.98 239.01,213.86 239.17,213.85 240.5,213.75 242,213.64 242.46,213.6 243.52,213.53 245.04,213.43 245.63,213.39 246.58,213.33 248.12,213.23 248.68,213.2 249.68,213.14 251.24,213.06 251.63,213.04 252.82,212.98 254.4,212.9 254.49,212.9 256,212.83 257.28,212.77 257.61,212.76 259.23,212.7 259.99,212.67 260.87,212.64 262.51,212.59 262.64,212.58 264.16,212.54 265.22,212.51 265.83,212.49 267.51,212.45 267.75,212.45 269.2,212.42 270.23,212.4 270.9,212.39 272.61,212.36 272.67,212.36 274.34,212.35 275.06,212.34 276.08,212.33 277.4,212.32 277.83,212.32 279.6,212.32 279.71,212.32 281.37,212.32 281.98,212.32 283.17,212.33 284.22,212.33 284.97,212.34 286.43,212.35 286.79,212.36 288.6,212.38 288.62,212.38 290.46,212.41 290.75,212.42 292.33,212.45 292.86,212.46 294.2,212.49 294.95,212.51 296.09,212.54 297.01,212.56 297.99,212.59 299.05,212.62 299.91,212.65 301.07,212.69 301.85,212.72 303.06,212.76 303.8,212.79 305.03,212.84 305.77,212.87 306.98,212.92 307.75,212.96 308.91,213.01 309.75,213.05 310.82,213.1 311.77,213.15 312.71,213.2 313.81,213.26 314.58,213.3 315.86,213.37 316.44,213.41 317.94,213.5 318.27,213.52 320.03,213.63 320.09,213.63 321.89,213.75 322.14,213.77 323.68,213.87 324.28,213.92 325.45,214 326.44,214.07 327.2,214.13 328.61,214.24 328.94,214.26 330.67,214.4 330.81,214.41 332.38,214.54 333.04,214.6 334.07,214.69 335.29,214.8 335.75,214.84 337.42,214.99 337.57,215 339.07,215.14 339.87,215.22 340.71,215.3 342.21,215.45 342.34,215.46 343.95,215.63 344.57,215.7 345.55,215.8 346.97,215.95 347.14,215.97 348.71,216.15 349.41,216.23 350.27,216.32 351.82,216.5 351.88,216.51 353.35,216.69 354.4,216.82 354.87,216.88 356.38,217.07 356.96,217.14 357.88,217.26 359.37,217.46 359.57,217.49 360.83,217.66 362.24,217.85 362.3,217.86 363.74,218.07 364.97,218.25 365.18,218.28 366.59,218.49 367.77,218.67 368.01,218.7 369.4,218.92 370.65,219.12 370.79,219.14 372.15,219.37 373.52,219.6 373.61,219.61 374.86,219.83 376.19,220.06 376.7,220.15 377.51,220.3 378.82,220.54 379.9,220.74 380.12,220.78 381.4,221.03 382.67,221.28 383.28,221.4 383.93,221.53 385.17,221.78 386.41,222.04 386.85,222.14 387.63,222.3 388.83,222.57 390.03,222.84 390.71,222.99 391.21,223.11 392.37,223.38 393.53,223.66 394.68,223.94 394.96,224.01 395.8,224.22 396.92,224.51 398.02,224.8 399.11,225.09 399.89,225.31 400.19,225.39 401.25,225.69 402.3,226 403.34,226.3 404.36,226.61 405.38,226.92 406.31,227.22 406.38,227.24 407.36,227.56 408.33,227.88 409.29,228.21 410.23,228.54 411.16,228.87 412.08,229.21 412.98,229.54 413.88,229.89 414.75,230.23 415.62,230.58 416.47,230.93 417.31,231.29 418.13,231.65 418.94,232.01 419.74,232.37 420.52,232.74 421.3,233.11 422.05,233.49 422.8,233.87 423.53,234.25 423.93,234.46 424.25,234.63 424.95,235.02 425.64,235.41 426.32,235.81 426.99,236.21 427.64,236.61 428.14,236.92 428.28,237.01 428.9,237.42 429.52,237.83 430.12,238.24 430.71,238.66 430.87,238.77 431.28,239.08 431.85,239.5 432.4,239.93 432.95,240.35 432.95,240.35 433.47,240.79 433.98,241.22 434.5,241.65 434.64,241.78 434.99,242.1 435.47,242.54 435.95,242.98 436.07,243.1 436.41,243.43 436.86,243.88 437.32,244.33 437.33,244.34 437.75,244.78 438.18,245.24 438.45,245.53 438.6,245.7 439,246.16 439.41,246.62 439.47,246.68 439.81,247.08 440.2,247.55 440.4,247.79 440.58,248.01 440.95,248.48 441.27,248.88 441.33,248.95 441.69,249.43 442.06,249.9 442.09,249.95 442.41,250.37 442.76,250.85 442.87,250.99 443.1,251.32 443.44,251.8 443.6,252.02 443.78,252.28 444.11,252.76 444.31,253.04 444.44,253.24 444.76,253.72 444.98,254.05 445.08,254.2 445.39,254.69 445.63,255.04 445.71,255.17 446.01,255.66 446.24,256.02 446.31,256.14 446.6,256.63 446.82,256.99 446.9,257.12 447.18,257.61 447.37,257.95 447.46,258.11 447.73,258.6 447.89,258.89 448,259.1 448.26,259.59 448.37,259.81 448.51,260.09 448.75,260.59 448.82,260.73 448.99,261.1 449.22,261.6 449.23,261.63 449.43,262.11 449.6,262.51 449.65,262.62 449.85,263.13 449.94,263.38 450.04,263.64 450.22,264.16 450.24,264.23 450.39,264.68 450.51,265.07 450.55,265.2 450.69,265.73 450.74,265.89 450.83,266.25 450.93,266.7 450.95,266.78 451.06,267.32 451.09,267.5 451.15,267.86 451.22,268.28 451.24,268.4 451.3,268.94 451.31,269.04 451.35,269.49 451.37,269.8 451.39,270.04 451.41,270.54 451.41,270.6 451.41,271.16 451.41,271.27 451.39,271.72 451.38,271.99 451.36,272.29 451.32,272.69 451.31,272.87 451.24,273.39 451.24,273.45 451.14,274.03 451.13,274.08 451.03,274.62 451,274.75 450.89,275.21 450.84,275.41 450.73,275.81 450.66,276.07 450.55,276.42 450.45,276.71 450.34,277.03 450.23,277.35 450.11,277.65 449.98,277.97 449.85,278.27 449.71,278.59 449.56,278.9 449.42,279.2 449.25,279.54 449.11,279.8 448.9,280.19 448.78,280.4 448.52,280.84 448.43,280.98 448.1,281.51 448.07,281.56 447.68,282.13 447.65,282.18 447.28,282.7 447.17,282.86 446.86,283.26 446.64,283.55 446.43,283.81 446.07,284.25 445.98,284.35 445.51,284.89 445.45,284.96 445.03,285.42 444.79,285.68 444.54,285.94 444.07,286.42 444.03,286.46 443.5,286.98 443.3,287.17 442.96,287.48 442.47,287.94 442.41,287.99 441.84,288.48 441.57,288.72 441.26,288.97 440.67,289.46 440.6,289.51 440.07,289.94 439.56,290.33 439.45,290.41 438.82,290.88 438.42,291.17 438.17,291.35 437.52,291.81 437.19,292.03 436.85,292.26 436.17,292.71 435.85,292.92 435.48,293.16 434.78,293.6 434.39,293.84 434.07,294.04 433.35,294.47 432.78,294.8 432.61,294.9 431.86,295.32 431.11,295.74 431,295.8 430.34,296.15 429.56,296.56 429.01,296.85 428.78,296.96 427.98,297.37 427.17,297.76 426.76,297.96 426.35,298.15 425.52,298.54 424.68,298.93 424.18,299.15 423.83,299.31 422.97,299.68 422.11,300.06 421.23,300.42 421.15,300.46M326.53,238.9 325.28,239.11 324.07,239.35 322.9,239.59 321.78,239.86 320.7,240.15 319.68,240.46 318.7,240.79 317.9,241.09 317.78,241.14 316.92,241.51 316.11,241.91 315.53,242.23 315.36,242.33 314.69,242.78 314.29,243.1 314.09,243.26 313.57,243.78 313.51,243.85 313.15,244.33 313.04,244.53 312.83,244.93 312.75,245.16 312.63,245.58 312.61,245.75 312.58,246.29 312.59,246.32 312.67,246.86 312.72,247.08 312.83,247.38 313.06,247.89 313.09,247.96 313.35,248.38 313.69,248.85 313.78,248.97 314.09,249.32 314.53,249.77 314.97,250.19 315,250.22 315.53,250.65 316.08,251.07 316.66,251.49 317.11,251.8 317.27,251.9 317.92,252.3 318.6,252.7 319.3,253.09 320.02,253.47 320.77,253.85 321.55,254.22 322.34,254.58 323.16,254.94 324,255.3 324.87,255.65 325.76,255.99 326.67,256.33 327.6,256.66 328.55,256.99 329.53,257.31 330.52,257.63 331.54,257.94 332.58,258.24 333.28,258.44 333.64,258.54 334.73,258.84 335.84,259.12 336.98,259.41 338,259.65 338.13,259.68 339.33,259.95 340.55,260.21 341.74,260.46 341.79,260.47 343.07,260.72 344.38,260.96 344.98,261.06 345.72,261.19 347.11,261.41 347.88,261.53 348.53,261.62 350,261.82 350.55,261.9 351.51,262.01 353.03,262.19 353.07,262.19 354.71,262.35 355.35,262.41 356.4,262.5 357.54,262.58 358.17,262.62 359.63,262.71 360.02,262.73 361.62,262.8 361.98,262.81 363.52,262.85 364.07,262.86 365.34,262.87 366.32,262.87 367.09,262.86 368.76,262.83 368.78,262.83 370.41,262.77 371.54,262.71 371.98,262.68 373.5,262.58 374.8,262.47 374.97,262.45 376.39,262.31 377.77,262.15 379.1,261.96 379.21,261.95 380.39,261.77 381.64,261.55 382.84,261.32 384.01,261.07 385.14,260.8 386.22,260.52 387.27,260.22 388.27,259.9 389.24,259.57 389.87,259.33 390.16,259.22 391.04,258.85 391.87,258.47 392.56,258.11 392.66,258.06 393.39,257.63 394.07,257.18 394.08,257.18 394.69,256.71 395.08,256.37 395.25,256.21 395.74,255.68 395.78,255.64 396.15,255.12 396.25,254.96 396.47,254.52 396.55,254.33 396.68,253.88 396.71,253.73 396.76,253.18 396.76,253.16 396.72,252.61 396.68,252.42 396.59,252.08 396.39,251.57 396.38,251.57 396.12,251.07 395.79,250.6 395.78,250.59 395.4,250.12 394.97,249.67 394.69,249.42 394.48,249.23 393.96,248.79 393.39,248.37 392.79,247.96 392.53,247.8 392.14,247.56 391.47,247.16 390.76,246.77 390.02,246.4 389.24,246.02 388.44,245.66 387.61,245.3 386.75,244.95 385.86,244.61 384.95,244.27 384.01,243.94 383.04,243.62 382.04,243.3 381.02,242.99 380.39,242.81 379.98,242.69 378.91,242.39 377.81,242.1 376.69,241.81 375.53,241.54 375.5,241.53 374.36,241.26 373.15,241 371.92,240.74 371.7,240.7 370.66,240.49 369.37,240.24 368.41,240.07 368.04,240.01 366.69,239.78 365.43,239.58 365.3,239.56 363.88,239.35 362.69,239.18 362.42,239.14 360.93,238.95 360.12,238.85 359.39,238.77 357.8,238.59 357.69,238.58 356.17,238.43 355.38,238.36 354.48,238.29 353.18,238.19 352.74,238.15 351.06,238.05 350.93,238.04 349.04,237.94 349.02,237.94 347.07,237.86 347.06,237.86 345.17,237.81 345,237.81 343.34,237.79 342.81,237.79 341.56,237.79 340.46,237.8 339.84,237.81 338.18,237.85 337.92,237.86 336.56,237.92 335.08,238 334.99,238 333.47,238.11 331.99,238.23 331.76,238.25 330.56,238.37 329.18,238.53 327.83,238.71 327.3,238.79 326.53,238.9M126.03,283.35 125.85,283.15 125.44,282.69 125.05,282.23 125.03,282.21 124.66,281.76 124.29,281.29 124.16,281.12 123.93,280.82 123.59,280.34 123.41,280.08 123.26,279.87 122.94,279.38 122.74,279.08 122.63,278.9 122.33,278.41 122.16,278.12 122.05,277.92 121.78,277.42 121.66,277.18 121.53,276.92 121.29,276.42 121.22,276.27 121.06,275.92 120.85,275.41 120.84,275.38 120.65,274.9 120.51,274.52 120.46,274.38 120.29,273.86 120.23,273.67 120.13,273.34 120,272.85 119.99,272.81 119.86,272.29 119.81,272.04 119.74,271.75 119.65,271.25 119.65,271.22 119.56,270.68 119.54,270.47 119.49,270.13 119.45,269.71 119.44,269.58 119.41,269.03 119.4,268.96 119.39,268.48 119.38,268.22 119.38,267.92 119.39,267.5 119.39,267.35 119.42,266.78 119.42,266.78 119.47,266.21 119.48,266.08 119.53,265.63 119.57,265.38 119.62,265.05 119.67,264.7 119.72,264.47 119.8,264.02 119.83,263.88 119.95,263.35 119.97,263.28 120.12,262.69 120.13,262.68 120.3,262.08 120.31,262.04 120.5,261.47 120.52,261.4 120.71,260.86 120.75,260.76 120.95,260.24 120.99,260.14 121.21,259.61 121.25,259.51 121.49,258.98 121.53,258.9 121.8,258.35 121.82,258.29 122.12,257.71 122.13,257.69 122.46,257.09 122.47,257.06 122.79,256.5 122.85,256.41 123.15,255.92 123.25,255.75 123.51,255.34 123.68,255.08 123.89,254.77 124.14,254.41 124.28,254.2 124.62,253.73 124.69,253.64 125.11,253.08 125.13,253.04 125.54,252.53 125.68,252.35 125.98,251.98 126.26,251.65 126.43,251.44 126.87,250.94 126.9,250.9 127.37,250.36 127.51,250.22 127.86,249.84 128.19,249.49 128.36,249.31 128.87,248.79 128.91,248.75 129.39,248.28 129.68,248 129.92,247.77 130.46,247.26 130.48,247.24 131.01,246.76 131.33,246.47 131.58,246.26 132.15,245.76 132.23,245.69 132.73,245.27 133.19,244.9 133.32,244.79 133.92,244.31 134.2,244.09 134.53,243.83 135.15,243.35 135.27,243.26 135.78,242.88 136.41,242.42 136.42,242.42 137.07,241.95 137.62,241.57 137.72,241.49 138.39,241.04 138.91,240.69 139.06,240.59 139.75,240.14 140.3,239.79 140.44,239.7 141.14,239.25 141.78,238.86 141.85,238.82 142.57,238.38 143.3,237.95 143.37,237.91 144.04,237.53 144.78,237.1 145.1,236.93 145.53,236.69 146.3,236.27 146.98,235.91 147.07,235.86 147.85,235.45 148.63,235.04 149.04,234.84 149.43,234.64 150.24,234.24 151.05,233.85 151.32,233.72 151.87,233.46 152.7,233.07 153.54,232.68 153.88,232.53 154.38,232.3 155.24,231.93 156.1,231.55 156.8,231.25 156.97,231.18 157.85,230.81 158.74,230.45 159.64,230.09 160.25,229.85" fill="none" stroke="#51d054" stroke-width="1.0"/>
<path d="M314.71,326.57 314.56,326.57 312.85,326.6 312.25,326.61 311.14,326.63 309.83,326.64 309.42,326.65 307.69,326.67 307.44,326.67 305.95,326.68 305.08,326.69 304.2,326.69 302.76,326.7 302.44,326.7 300.67,326.7 300.46,326.7 298.89,326.69 298.2,326.69 297.1,326.69 295.96,326.68 295.3,326.68 293.74,326.66 293.49,326.66 291.67,326.64 291.55,326.64 289.84,326.62 289.39,326.61 287.99,326.59 287.24,326.57 286.13,326.55 285.12,326.53 284.27,326.52 283.03,326.49 282.39,326.47 280.95,326.44 280.5,326.42 278.89,326.38 278.6,326.37 276.86,326.32 276.68,326.31 274.84,326.25 274.75,326.25 272.84,326.18 272.81,326.18 270.86,326.11 270.86,326.11 268.9,326.03 268.89,326.03 266.95,325.94 266.91,325.94 265.02,325.86 264.91,325.85 263.11,325.76 262.9,325.75 261.22,325.67 260.88,325.65 259.34,325.57 258.84,325.54 257.47,325.46 256.78,325.42 255.62,325.36 254.71,325.3 253.79,325.25 252.62,325.17 251.97,325.13 250.51,325.04 250.17,325.01 248.39,324.89 248.38,324.89 246.6,324.77 246.25,324.74 244.84,324.64 244.08,324.58 243.09,324.51 241.9,324.41 241.36,324.37 239.7,324.24 239.63,324.23 237.92,324.09 237.48,324.05 236.23,323.95 235.23,323.86 234.54,323.8 232.96,323.66 232.87,323.65 231.21,323.49 230.67,323.44 229.57,323.34 228.35,323.22 227.93,323.18 226.31,323.01 226.01,322.98 224.7,322.85 223.63,322.74 223.1,322.68 221.51,322.51 221.23,322.48M483.18,255.17 483.3,255.48 483.49,256 483.5,256.03 483.66,256.52 483.78,256.87 483.83,257.04 483.98,257.56 484.03,257.7 484.13,258.08 484.24,258.52 484.27,258.61 484.39,259.14 484.43,259.33 484.5,259.68 484.59,260.12 484.61,260.21 484.7,260.75 484.73,260.91 484.78,261.29 484.84,261.68 484.86,261.83 484.92,262.38 484.92,262.44 484.96,262.93 484.98,263.2 485,263.48 485.02,263.94 485.03,264.03 485.04,264.59 485.04,264.68 485.04,265.15 485.04,265.41 485.03,265.72 485.02,266.13 485.01,266.28 484.98,266.84 484.98,266.85 484.93,267.42 484.92,267.55 484.87,268 484.84,268.24 484.79,268.58 484.74,268.93 484.7,269.16 484.62,269.61 484.6,269.75 484.49,270.29 484.48,270.34 484.35,270.93 484.35,270.96 484.21,271.53 484.18,271.62 484.04,272.13 484,272.27 483.87,272.73 483.81,272.92 483.67,273.34 483.6,273.57 483.46,273.95 483.37,274.2 483.24,274.57 483.13,274.83 482.99,275.19 482.88,275.46 482.73,275.82 482.61,276.08 482.45,276.45 482.33,276.69 482.15,277.08 482.04,277.3 481.83,277.72 481.73,277.9 481.48,278.36 481.41,278.5 481.12,279.01 481.08,279.09 480.74,279.67 480.73,279.68 480.37,280.26 480.33,280.33 480,280.84 479.9,281 479.62,281.41 479.44,281.67 479.23,281.98 478.96,282.35 478.82,282.54 478.45,283.04 478.4,283.1 477.98,283.65 477.91,283.73 477.53,284.2 477.35,284.43 477.08,284.74 476.75,285.14 476.62,285.28 476.15,285.82 476.12,285.85 475.67,286.35 475.45,286.57 475.17,286.87 474.75,287.31M270.03,202.92 270.88,202.9 272.47,202.88 272.59,202.88 274.31,202.86 274.87,202.85 276.05,202.84 277.23,202.83 277.79,202.83 279.54,202.82 279.57,202.82 281.31,202.81 281.87,202.81 283.08,202.81 284.15,202.82 284.87,202.82 286.4,202.83 286.66,202.83 288.47,202.84 288.62,202.84 290.29,202.86 290.81,202.87 292.11,202.88 292.98,202.89 293.95,202.91 295.12,202.93 295.8,202.94 297.25,202.97 297.67,202.98 299.35,203.01 299.54,203.02 301.43,203.06 301.43,203.06 303.33,203.12 303.49,203.12 305.24,203.17 305.53,203.18 307.16,203.23 307.55,203.25 309.1,203.3 309.55,203.32 311.05,203.37 311.53,203.39 313.01,203.45 313.49,203.47 314.98,203.53 315.44,203.55 316.97,203.62 317.37,203.64 318.98,203.72 319.29,203.73 321,203.82 321.19,203.83 323.03,203.92 323.07,203.93 324.93,204.03 325.08,204.04 326.79,204.14 327.15,204.16 328.62,204.25 329.23,204.28 330.44,204.36 331.33,204.42 332.25,204.48 333.44,204.56 334.05,204.6 335.57,204.7 335.83,204.72 337.59,204.85 337.72,204.86 339.35,204.98 339.9,205.02 341.09,205.12 342.09,205.19 342.81,205.25 344.3,205.37 344.53,205.39 346.23,205.54 346.53,205.56 347.92,205.68 348.78,205.76 349.59,205.83 351.06,205.97 351.26,205.98 352.91,206.14 353.36,206.18 354.55,206.3 355.69,206.41 356.18,206.46 357.8,206.62 358.04,206.65 359.4,206.79 360.43,206.9 361,206.96 362.58,207.13 362.84,207.16 364.15,207.31 365.29,207.44 365.71,207.49 367.26,207.67 367.77,207.73M97.85,271.76 97.79,271.53 97.68,271 97.67,270.97 97.58,270.46 97.53,270.18 97.49,269.92 97.42,269.4 97.42,269.38 97.36,268.83 97.34,268.64 97.31,268.28 97.28,267.89 97.27,267.73 97.25,267.18 97.24,267.14 97.24,266.62 97.23,266.41 97.24,266.06 97.25,265.69 97.25,265.49 97.28,264.97 97.28,264.92 97.33,264.35 97.33,264.26 97.38,263.78 97.41,263.56 97.45,263.2 97.5,262.87 97.54,262.62 97.61,262.19 97.64,262.03 97.74,261.51 97.75,261.44 97.88,260.85 97.89,260.85 98.03,260.25 98.05,260.18 98.19,259.65 98.23,259.53 98.37,259.05 98.42,258.88 98.56,258.44 98.63,258.23 98.77,257.83 98.85,257.6 99,257.21 99.09,256.97 99.24,256.59 99.34,256.34 99.5,255.96 99.61,255.72 99.78,255.34 99.89,255.11 100.08,254.7 100.18,254.5 100.4,254.06 100.48,253.89 100.74,253.42 100.8,253.3 101.09,252.77 101.13,252.7 101.47,252.12 101.47,252.11 101.82,251.53 101.87,251.46 102.19,250.95 102.29,250.79 102.56,250.37 102.73,250.12 102.95,249.8 103.2,249.45 103.35,249.24 103.69,248.77 103.76,248.68 104.18,248.12 104.21,248.08 104.6,247.57 104.75,247.39 105.04,247.02 105.32,246.69 105.49,246.47 105.92,245.98 105.95,245.93 106.42,245.4 106.54,245.26 106.9,244.87 107.2,244.54 107.39,244.34 107.89,243.81 107.89,243.81 108.4,243.29 108.62,243.07 108.92,242.78 109.38,242.32" fill="none" stroke="#f1be2a" stroke-width="1.0"/>
<path d="M285.56,333.72 283.96,333.68 283.48,333.67 282.06,333.63 281.42,333.61 280.16,333.57 279.38,333.55 278.24,333.52 277.36,333.49 276.31,333.45 275.35,333.42 274.37,333.38 273.36,333.35 272.41,333.31 271.39,333.27 270.45,333.23 269.43,333.19 268.47,333.15 267.49,333.1 266.49,333.06 265.56,333.02 264.48,332.97 263.64,332.93 262.47,332.87 261.74,332.83 260.45,332.76 259.85,332.73 258.41,332.65 257.98,332.63 256.35,332.54 256.12,332.53 254.29,332.42 254.27,332.42 252.44,332.31 252.2,332.29 250.62,332.19 250.11,332.16 248.81,332.08 248,332.02 247.02,331.96 245.87,331.88 245.24,331.83 243.73,331.72M509.52,265.99 509.48,266.45 509.46,266.7 509.43,267.02 509.38,267.4 509.36,267.6 509.3,268.09 509.28,268.18 509.19,268.76 509.19,268.77 509.09,269.35 509.07,269.45 508.98,269.94 508.94,270.13 508.85,270.53 508.79,270.8 508.71,271.13 508.62,271.46 508.55,271.72 508.45,272.11 508.39,272.33 508.26,272.77 508.21,272.93 508.05,273.41 508.01,273.54 507.84,274.05 507.8,274.15 507.61,274.69 507.58,274.77 507.37,275.32 507.34,275.39 507.12,275.94 507.09,276.01 506.85,276.56 506.82,276.64 506.58,277.18 506.53,277.27 506.29,277.79 506.23,277.9 505.99,278.39 505.92,278.54 505.68,279 505.58,279.18 505.36,279.59 505.23,279.83M300.37,195.47 300.71,195.48 302.45,195.52 302.6,195.53 304.5,195.58 304.51,195.58 306.42,195.64 306.54,195.64 308.34,195.7 308.56,195.71 310.28,195.77 310.56,195.78 312.23,195.84 312.55,195.85 314.19,195.91 314.52,195.93 316.16,196 316.47,196.01 318.14,196.08 318.42,196.09 320.13,196.17 320.34,196.18 322.14,196.27 322.25,196.27 324.15,196.37 324.16,196.37 326.04,196.47 326.19,196.48 327.91,196.57 328.24,196.59 329.77,196.67 330.3,196.71 331.61,196.78 332.37,196.83 333.44,196.89 334.46,196.96 335.26,197.01 336.57,197.09 337.07,197.13 338.68,197.23 338.86,197.25 340.65,197.37 340.82,197.38 342.42,197.5 342.97,197.54M75.79,262.7 75.83,262.33 75.87,262 75.91,261.75 75.97,261.32 76,261.17 76.09,260.63 76.1,260.59 76.21,260 76.22,259.96 76.34,259.4 76.36,259.29 76.48,258.81 76.52,258.63 76.63,258.21 76.7,257.97 76.8,257.61 76.88,257.32 76.98,257 77.08,256.67 77.18,256.39 77.3,256.03 77.38,255.78 77.52,255.39 77.61,255.17 77.76,254.76 77.85,254.55 78.01,254.13 78.1,253.92 78.27,253.51 78.37,253.3 78.55,252.9 78.65,252.67 78.83,252.28 78.95,252.03 79.13,251.68 79.27,251.39 79.44,251.07 79.61,250.75 79.75,250.48 79.96,250.1 80.08,249.88 80.33,249.45" fill="none" stroke="#f9dc25" stroke-width="1.0"/>
<path d="M57.3,255.1L262.4,339.4L529,274M57.3,255.1L57.3,69.1M57.3,224.1l-6.6,1.62M57.3,193.1l-6.6,1.62M57.3,162.1l-6.6,1.62M57.3,131.1l-6.6,1.62M57.3,100.1l-6.6,1.62M57.3,69.1l-6.6,1.62M262.4,339.4l-6.6,1.62M211.12,318.32l-6.6,1.62M159.85,297.25l-6.6,1.62M108.57,276.18l-6.6,1.62M57.3,255.1l-6.6,1.62M262.4,339.4l6.29,2.59M329.05,323.05l6.29,2.59M395.7,306.7l6.29,2.59M462.35,290.35l6.29,2.59M529,274l6.29,2.59" fill="none" stroke="#333" stroke-width="0.8"/>
<g stroke="#000" stroke-width="0.6" stroke-opacity="0.9" stroke-linejoin="round">
<path fill="#f9fb15" d="M322.23,24.92L330.31,15.65L323.9,5.74L315.82,15.14Z"/>
<path fill="#f6ef1a" d="M314.15,33.72L322.23,24.92L315.82,15.14L307.74,24.07Z"/>
<path fill="#f6ef1a" d="M328.64,34.24L336.72,25.09L330.31,15.65L322.23,24.92Z"/>
<path fill="#f9da27" d="M306.07,42.04L314.15,33.72L307.74,24.07L299.66,32.52Z"/>
<path fill="#fad828" d="M320.56,42.91L328.64,34.24L322.23,24.92L314.15,33.72Z"/>
<path fill="#fcc92f" d="M297.99,49.87L306.07,42.04L299.66,32.52L291.58,40.48Z"/>
<path fill="#f9d828" d="M335.05,43.09L343.13,34.08L336.72,25.09L328.64,34.24Z"/>
<path fill="#fcc631" d="M312.48,51.08L320.56,42.91L314.15,33.72L306.07,42.04Z"/>
<path fill="#fcc631" d="M326.97,51.61L335.05,43.09L328.64,34.24L320.56,42.91Z"/>
<path fill="#fbbf32" d="M289.92,57.21L297.99,49.87L291.58,40.48L283.51,47.97Z"/>
<path fill="#fbbe32" d="M304.4,58.75L312.48,51.08L306.07,42.04L297.99,49.87Z"/>
<path fill="#fcc730" d="M341.46,51.47L349.54,42.59L343.13,34.08L335.05,43.09Z"/>
<path fill="#fbbe31" d="M318.89,59.62L326.97,51.61L320.56,42.91L312.48,51.08Z"/>
<path fill="#f9bc30" d="M281.84,64.07L289.92,57.21L283.51,47.97L275.43,54.97Z"/>
<path fill="#fbbe31" d="M333.38,59.82L341.46,51.47L335.05,43.09L326.97,51.61Z"/>
<path fill="#f5bd2d" d="M296.32,65.93L304.4,58.75L297.99,49.87L289.92,57.21Z"/>
<path fill="#f3be2b" d="M310.81,67.11L318.89,59.62L312.48,51.08L304.4,58.75Z"/>
<path fill="#fbbf32" d="M347.87,59.36L355.95,50.64L349.54,42.59L341.46,51.47Z"/>
<path fill="#edbf27" d="M273.76,70.46L281.84,64.07L275.43,54.97L267.35,61.5Z"/>
<path fill="#f2be2a" d="M325.3,67.64L333.38,59.82L326.97,51.61L318.89,59.62Z"/>
<path fill="#e8c123" d="M288.25,72.61L296.32,65.93L289.92,57.21L281.84,64.07Z"/>
<path fill="#e3c222" d="M302.73,74.08L310.81,67.11L304.4,58.75L296.32,65.93Z"/>
<path fill="#f3be2b" d="M339.79,67.52L347.87,59.36L341.46,51.47L333.38,59.82Z"/>
<path fill="#dbc423" d="M265.68,76.38L273.76,70.46L267.35,61.5L259.27,67.56Z"/>
<path fill="#dfc322" d="M317.22,74.9L325.3,67.64L318.89,59.62L310.81,67.11Z"/>
<path fill="#f6bd2e" d="M354.28,66.75L362.36,58.2L355.95,50.64L347.87,59.36Z"/>
<path fill="#c9c726" d="M280.17,78.82L288.25,72.61L281.84,64.07L273.76,70.46Z"/>
<path fill="#e0c322" d="M331.71,75.1L339.79,67.52L333.38,59.82L325.3,67.64Z"/>
<path fill="#bdc928" d="M294.66,80.54L302.73,74.08L296.32,65.93L288.25,72.61Z"/>
<path fill="#bec828" d="M257.6,81.86L265.68,76.38L259.27,67.56L251.19,73.17Z"/>
<path fill="#b6ca29" d="M309.14,81.61L317.22,74.9L310.81,67.11L302.73,74.08Z"/>
<path fill="#e6c221" d="M346.2,74.68L354.28,66.75L347.87,59.36L339.79,67.52Z"/>
<path fill="#a5cb31" d="M272.09,84.57L280.17,78.82L273.76,70.46L265.68,76.38Z"/>
<path fill="#b5ca2a" d="M323.63,82.08L331.71,75.1L325.3,67.64L317.22,74.9Z"/>
<path fill="#92cd39" d="M286.58,86.52L294.66,80.54L288.25,72.61L280.17,78.82Z"/>
<path fill="#e9c124" d="M360.69,73.61L368.77,65.27L362.36,58.2L354.28,66.75Z"/>
<path fill="#b9c929" d="M338.12,81.97L346.2,74.68L339.79,67.52L331.71,75.1Z"/>
<path fill="#86cf3d" d="M301.06,87.78L309.14,81.61L302.73,74.08L294.66,80.54Z"/>
<path fill="#9ecc33" d="M249.52,86.92L257.6,81.86L251.19,73.17L243.11,78.33Z"/>
<path fill="#80cf40" d="M264.01,89.9L272.09,84.57L265.68,76.38L257.6,81.86Z"/>
<path fill="#82cf3f" d="M315.55,88.45L323.63,82.08L317.22,74.9L309.14,81.61Z"/>
<path fill="#c2c827" d="M352.61,81.27L360.69,73.61L354.28,66.75L346.2,74.68Z"/>
<path fill="#6cd049" d="M278.5,92.05L286.58,86.52L280.17,78.82L272.09,84.57Z"/>
<path fill="#84cf3e" d="M330.04,88.59L338.12,81.97L331.71,75.1L323.63,82.08Z"/>
<path fill="#60d04e" d="M292.99,93.46L301.06,87.78L294.66,80.54L286.58,86.52Z"/>
<path fill="#cfc525" d="M367.1,79.94L375.18,71.83L368.77,65.27L360.69,73.61Z"/>
<path fill="#81cf40" d="M241.44,91.58L249.52,86.92L243.11,78.33L235.03,83.05Z"/>
<path fill="#8cce3b" d="M344.53,88.21L352.61,81.27L346.2,74.68L338.12,81.97Z"/>
<path fill="#62d04d" d="M255.93,94.84L264.01,89.9L257.6,81.86L249.52,86.92Z"/>
<path fill="#5ad050" d="M307.47,94.25L315.55,88.45L309.14,81.61L301.06,87.78Z"/>
<path fill="#4cd056" d="M270.42,97.18L278.5,92.05L272.09,84.57L264.01,89.9Z"/>
<path fill="#5ad050" d="M321.96,94.54L330.04,88.59L323.63,82.08L315.55,88.45Z"/>
<path fill="#9bcc35" d="M359.02,87.28L367.1,79.94L360.69,73.61L352.61,81.27Z"/>
<path fill="#3ed05c" d="M284.91,98.7L292.99,93.46L286.58,86.52L278.5,92.05Z"/>
<path fill="#6bd049" d="M233.36,95.85L241.44,91.58L235.03,83.05L226.95,87.36Z"/>
<path fill="#5fd04e" d="M336.45,94.38L344.53,88.21L338.12,81.97L330.04,88.59Z"/>
<path fill="#37d05f" d="M299.4,99.54L307.47,94.25L301.06,87.78L292.99,93.46Z"/>
<path fill="#49d057" d="M247.85,99.42L255.93,94.84L249.52,86.92L241.44,91.58Z"/>
<path fill="#b0ca2c" d="M373.51,85.72L381.58,77.88L375.18,71.83L367.1,79.94Z"/>
<path fill="#32d062" d="M262.34,101.96L270.42,97.18L264.01,89.9L255.93,94.84Z"/>
<path fill="#68d04a" d="M350.94,93.79L359.02,87.28L352.61,81.27L344.53,88.21Z"/>
<path fill="#36d060" d="M313.88,99.87L321.96,94.54L315.55,88.45L307.47,94.25Z"/>
<path fill="#2acf68" d="M276.83,103.57L284.91,98.7L278.5,92.05L270.42,97.18Z"/>
<path fill="#39d05e" d="M328.37,99.82L336.45,94.38L330.04,88.59L321.96,94.54Z"/>
<path fill="#77d044" d="M365.43,92.69L373.51,85.72L367.1,79.94L359.02,87.28Z"/>
<path fill="#59d051" d="M225.29,99.75L233.36,95.85L226.95,87.36L218.88,91.25Z"/>
<path fill="#26ce6b" d="M291.32,104.41L299.4,99.54L292.99,93.46L284.91,98.7Z"/>
<path fill="#34d061" d="M239.77,103.67L247.85,99.42L241.44,91.58L233.36,95.85Z"/>
<path fill="#41d05b" d="M342.86,99.44L350.94,93.79L344.53,88.21L336.45,94.38Z"/>
<path fill="#26ce6b" d="M254.26,106.45L262.34,101.96L255.93,94.84L247.85,99.42Z"/>
<path fill="#25ce6c" d="M305.8,104.67L313.88,99.87L307.47,94.25L299.4,99.54Z"/>
<path fill="#8ece3a" d="M379.91,90.93L387.99,83.39L381.58,77.88L373.51,85.72Z"/>
<path fill="#1dcd72" d="M268.75,108.16L276.83,103.57L270.42,97.18L262.34,101.96Z"/>
<path fill="#4dd056" d="M357.35,98.71L365.43,92.69L359.02,87.28L350.94,93.79Z"/>
<path fill="#27ce6b" d="M320.29,104.56L328.37,99.82L321.96,94.54L313.88,99.87Z"/>
<path fill="#18cd76" d="M283.24,108.95L291.32,104.41L284.91,98.7L276.83,103.57Z"/>
<path fill="#4bd057" d="M217.21,103.28L225.29,99.75L218.88,91.25L210.8,94.72Z"/>
<path fill="#2acf68" d="M231.69,107.61L239.77,103.67L233.36,95.85L225.29,99.75Z"/>
<path fill="#2acf68" d="M334.78,104.25L342.86,99.44L336.45,94.38L328.37,99.82Z"/>
<path fill="#5dd04f" d="M371.84,97.49L379.91,90.93L373.51,85.72L365.43,92.69Z"/>
<path fill="#1bcd74" d="M246.18,110.7L254.26,106.45L247.85,99.42L239.77,103.67Z"/>
<path fill="#18cd76" d="M297.73,109.05L305.8,104.67L299.4,99.54L291.32,104.41Z"/>
<path fill="#11cc7c" d="M260.67,112.56L268.75,108.16L262.34,101.96L254.26,106.45Z"/>
<path fill="#2fcf64" d="M349.27,103.75L357.35,98.71L350.94,93.79L342.86,99.44Z"/>
<path fill="#19cd75" d="M312.21,108.75L320.29,104.56L313.88,99.87L305.8,104.67Z"/>
<path fill="#74d045" d="M386.32,95.6L394.4,88.37L387.99,83.39L379.91,90.93Z"/>
<path fill="#0fcc7f" d="M275.16,113.3L283.24,108.95L276.83,103.57L268.75,108.16Z"/>
<path fill="#41d05b" d="M209.13,106.44L217.21,103.28L210.8,94.72L202.72,97.78Z"/>
<path fill="#23ce6d" d="M223.62,111.24L231.69,107.61L225.29,99.75L217.21,103.28Z"/>
<path fill="#37d05f" d="M363.76,102.98L371.84,97.49L365.43,92.69L357.35,98.71Z"/>
<path fill="#1dcd72" d="M326.7,108.29L334.78,104.25L328.37,99.82L320.29,104.56Z"/>
<path fill="#0fcb80" d="M289.65,113.18L297.73,109.05L291.32,104.41L283.24,108.95Z"/>
<path fill="#12cc7b" d="M238.1,114.72L246.18,110.7L239.77,103.67L231.69,107.61Z"/>
<path fill="#0ecb84" d="M252.59,116.81L260.67,112.56L254.26,106.45L246.18,110.7Z"/>
<path fill="#21ce6f" d="M341.19,107.83L349.27,103.75L342.86,99.44L334.78,104.25Z"/>
<path fill="#49d058" d="M378.25,101.72L386.32,95.6L379.91,90.93L371.84,97.49Z"/>
<path fill="#0fcc7e" d="M304.14,112.54L312.21,108.75L305.8,104.67L297.73,109.05Z"/>
<path fill="#0dca88" d="M267.08,117.58L275.16,113.3L268.75,108.16L260.67,112.56Z"/>
<path fill="#27cf6a" d="M355.68,107.34L363.76,102.98L357.35,98.71L349.27,103.75Z"/>
<path fill="#3bd05e" d="M201.05,109.2L209.13,106.44L202.72,97.78L194.64,100.41Z"/>
<path fill="#13cc7a" d="M318.62,111.75L326.7,108.29L320.29,104.56L312.21,108.75Z"/>
<path fill="#1ece72" d="M215.54,114.56L223.62,111.24L217.21,103.28L209.13,106.44Z"/>
<path fill="#61d04d" d="M392.73,99.72L400.81,92.81L394.4,88.37L386.32,95.6Z"/>
<path fill="#0dca89" d="M281.57,117.25L289.65,113.18L283.24,108.95L275.16,113.3Z"/>
<path fill="#0fcb81" d="M230.03,118.53L238.1,114.72L231.69,107.61L223.62,111.24Z"/>
<path fill="#2dcf65" d="M370.17,106.64L378.25,101.72L371.84,97.49L363.76,102.98Z"/>
<path fill="#0dc98b" d="M244.51,120.98L252.59,116.81L246.18,110.7L238.1,114.72Z"/>
<path fill="#18cd76" d="M333.11,111.08L341.19,107.83L334.78,104.25L326.7,108.29Z"/>
<path fill="#0eca86" d="M296.06,116.18L304.14,112.54L297.73,109.05L289.65,113.18Z"/>
<path fill="#0cc891" d="M259,121.89L267.08,117.58L260.67,112.56L252.59,116.81Z"/>
<path fill="#3ad05e" d="M384.65,105.42L392.73,99.72L386.32,95.6L378.25,101.72Z"/>
<path fill="#1dcd72" d="M347.6,110.63L355.68,107.34L349.27,103.75L341.19,107.83Z"/>
<path fill="#0fcb81" d="M310.54,114.86L318.62,111.75L312.21,108.75L304.14,112.54Z"/>
<path fill="#39d05f" d="M192.97,111.54L201.05,109.2L194.64,100.41L186.56,102.6Z"/>
<path fill="#1acd75" d="M207.46,117.52L215.54,114.56L209.13,106.44L201.05,109.2Z"/>
<path fill="#0cc891" d="M273.49,121.4L281.57,117.25L275.16,113.3L267.08,117.58Z"/>
<path fill="#0eca86" d="M221.95,122.1L230.03,118.53L223.62,111.24L215.54,114.56Z"/>
<path fill="#22ce6e" d="M362.09,110.29L370.17,106.64L363.76,102.98L355.68,107.34Z"/>
<path fill="#0bc892" d="M236.43,125.05L244.51,120.98L238.1,114.72L230.03,118.53Z"/>
<path fill="#53d053" d="M399.14,103.36L407.22,96.75L400.81,92.81L392.73,99.72Z"/>
<path fill="#11cc7c" d="M325.03,113.7L333.11,111.08L326.7,108.29L318.62,111.75Z"/>
<path fill="#0cc98d" d="M287.98,119.9L296.06,116.18L289.65,113.18L281.57,117.25Z"/>
<path fill="#0ac799" d="M250.92,126.27L259,121.89L252.59,116.81L244.51,120.98Z"/>
<path fill="#29cf69" d="M376.58,109.76L384.65,105.42L378.25,101.72L370.17,106.64Z"/>
<path fill="#17cd77" d="M339.52,113L347.6,110.63L341.19,107.83L333.11,111.08Z"/>
<path fill="#0dca87" d="M302.47,117.91L310.54,114.86L304.14,112.54L296.06,116.18Z"/>
<path fill="#0ac79a" d="M265.41,125.8L273.49,121.4L267.08,117.58L259,121.89Z"/>
<path fill="#18cd76" d="M199.38,120.1L207.46,117.52L201.05,109.2L192.97,111.54Z"/>
<path fill="#3bd05e" d="M184.89,113.43L192.97,111.54L186.56,102.6L178.48,104.34Z"/>
<path fill="#0dca89" d="M213.87,125.38L221.95,122.1L215.54,114.56L207.46,117.52Z"/>
<path fill="#31d062" d="M391.06,108.64L399.14,103.36L392.73,99.72L384.65,105.42Z"/>
<path fill="#1ccd73" d="M354.01,112.75L362.09,110.29L355.68,107.34L347.6,110.63Z"/>
<path fill="#0ac798" d="M228.36,129L236.43,125.05L230.03,118.53L221.95,122.1Z"/>
<path fill="#0fcb80" d="M316.95,116.03L325.03,113.7L318.62,111.75L310.54,114.86Z"/>
<path fill="#0bc895" d="M279.9,123.94L287.98,119.9L281.57,117.25L273.49,121.4Z"/>
<path fill="#0ac5a0" d="M242.84,130.74L250.92,126.27L244.51,120.98L236.43,125.05Z"/>
<path fill="#21ce6f" d="M368.5,112.72L376.58,109.76L370.17,106.64L362.09,110.29Z"/>
<path fill="#49d057" d="M405.55,106.54L413.63,100.19L407.22,96.75L399.14,103.36Z"/>
<path fill="#14cd79" d="M331.44,114.72L339.52,113L333.11,111.08L325.03,113.7Z"/>
<path fill="#0ac5a2" d="M257.33,130.5L265.41,125.8L259,121.89L250.92,126.27Z"/>
<path fill="#0cc98e" d="M294.39,121.25L302.47,117.91L296.06,116.18L287.98,119.9Z"/>
<path fill="#19cd76" d="M191.3,122.23L199.38,120.1L192.97,111.54L184.89,113.43Z"/>
<path fill="#26ce6b" d="M382.99,112.47L391.06,108.64L384.65,105.42L376.58,109.76Z"/>
<path fill="#0dc98c" d="M205.79,128.3L213.87,125.38L207.46,117.52L199.38,120.1Z"/>
<path fill="#42d05b" d="M176.81,114.84L184.89,113.43L178.48,104.34L170.4,105.59Z"/>
<path fill="#0ac69c" d="M220.28,132.75L228.36,129L221.95,122.1L213.87,125.38Z"/>
<path fill="#1acd74" d="M345.93,114.21L354.01,112.75L347.6,110.63L339.52,113Z"/>
<path fill="#0ac69e" d="M271.82,128.48L279.9,123.94L273.49,121.4L265.41,125.8Z"/>
<path fill="#0ecb84" d="M308.88,118.45L316.95,116.03L310.54,114.86L302.47,117.91Z"/>
<path fill="#09c3a6" d="M234.77,135.23L242.84,130.74L236.43,125.05L228.36,129Z"/>
<path fill="#2fcf64" d="M397.47,111.47L405.55,106.54L399.14,103.36L391.06,108.64Z"/>
<path fill="#1fce71" d="M360.42,114.38L368.5,112.72L362.09,110.29L354.01,112.75Z"/>
<path fill="#09c2aa" d="M249.25,135.51L257.33,130.5L250.92,126.27L242.84,130.74Z"/>
<path fill="#0bc895" d="M286.31,125.18L294.39,121.25L287.98,119.9L279.9,123.94Z"/>
<path fill="#12cc7a" d="M323.36,116.21L331.44,114.72L325.03,113.7L316.95,116.03Z"/>
<path fill="#22ce6e" d="M374.91,114.79L382.99,112.47L376.58,109.76L368.5,112.72Z"/>
<path fill="#44d05a" d="M411.96,109.32L420.04,103.17L413.63,100.19L405.55,106.54Z"/>
<path fill="#0dc98c" d="M197.71,130.8L205.79,128.3L199.38,120.1L191.3,122.23Z"/>
<path fill="#1bcd73" d="M183.22,123.87L191.3,122.23L184.89,113.43L176.81,114.84Z"/>
<path fill="#0ac59f" d="M212.2,136.19L220.28,132.75L213.87,125.38L205.79,128.3Z"/>
<path fill="#4dd056" d="M168.73,115.74L176.81,114.84L170.4,105.59L162.32,106.35Z"/>
<path fill="#09c3a7" d="M263.74,133.62L271.82,128.48L265.41,125.8L257.33,130.5Z"/>
<path fill="#1ccd73" d="M337.85,115.02L345.93,114.21L339.52,113L331.44,114.72Z"/>
<path fill="#09c2ac" d="M226.69,139.63L234.77,135.23L228.36,129L220.28,132.75Z"/>
<path fill="#0dca89" d="M300.8,121.37L308.88,118.45L302.47,117.91L294.39,121.25Z"/>
<path fill="#26ce6b" d="M389.39,114.86L397.47,111.47L391.06,108.64L382.99,112.47Z"/>
<path fill="#09c0b2" d="M241.17,140.74L249.25,135.51L242.84,130.74L234.77,135.23Z"/>
<path fill="#21ce6f" d="M352.34,114.96L360.42,114.38L354.01,112.75L345.93,114.21Z"/>
<path fill="#0ac69e" d="M278.23,129.93L286.31,125.18L279.9,123.94L271.82,128.48Z"/>
<path fill="#2ecf65" d="M403.88,114L411.96,109.32L405.55,106.54L397.47,111.47Z"/>
<path fill="#10cc7c" d="M315.28,117.95L323.36,116.21L316.95,116.03L308.88,118.45Z"/>
<path fill="#23ce6d" d="M366.83,115.72L374.91,114.79L368.5,112.72L360.42,114.38Z"/>
<path fill="#09c0b1" d="M255.66,139.35L263.74,133.62L257.33,130.5L249.25,135.51Z"/>
<path fill="#0dc98b" d="M189.63,132.79L197.71,130.8L191.3,122.23L183.22,123.87Z"/>
<path fill="#0ac5a1" d="M204.12,139.21L212.2,136.19L205.79,128.3L197.71,130.8Z"/>
<path fill="#20ce6f" d="M175.14,124.98L183.22,123.87L176.81,114.84L168.73,115.74Z"/>
<path fill="#09c0b1" d="M218.61,143.79L226.69,139.63L220.28,132.75L212.2,136.19Z"/>
<path fill="#5dd04f" d="M160.65,116.12L168.73,115.74L162.32,106.35L154.25,106.61Z"/>
<path fill="#0cc990" d="M292.72,125.2L300.8,121.37L294.39,121.25L286.31,125.18Z"/>
<path fill="#1ece71" d="M329.77,115.66L337.85,115.02L331.44,114.72L323.36,116.21Z"/>
<path fill="#24ce6c" d="M381.32,116.67L389.39,114.86L382.99,112.47L374.91,114.79Z"/>
<path fill="#43d05a" d="M418.37,111.76L426.45,105.73L420.04,103.17L411.96,109.32Z"/>
<path fill="#08beba" d="M233.1,146.03L241.17,140.74L234.77,135.23L226.69,139.63Z"/>
<path fill="#09c3a9" d="M270.15,135.63L278.23,129.93L271.82,128.48L263.74,133.62Z"/>
<path fill="#27ce6b" d="M344.26,114.89L352.34,114.96L345.93,114.21L337.85,115.02Z"/>
<path fill="#27cf6a" d="M395.8,117.08L403.88,114L397.47,111.47L389.39,114.86Z"/>
<path fill="#08bebc" d="M247.58,145.54L255.66,139.35L249.25,135.51L241.17,140.74Z"/>
<path fill="#0fcc80" d="M307.21,120.47L315.28,117.95L308.88,118.45L300.8,121.37Z"/>
<path fill="#0ac5a1" d="M196.04,141.68L204.12,139.21L197.71,130.8L189.63,132.79Z"/>
<path fill="#2acf68" d="M358.75,115.52L366.83,115.72L360.42,114.38L352.34,114.96Z"/>
<path fill="#0dca88" d="M181.55,134.2L189.63,132.79L183.22,123.87L175.14,124.98Z"/>
<path fill="#08c0b5" d="M210.53,147.53L218.61,143.79L212.2,136.19L204.12,139.21Z"/>
<path fill="#0ac79a" d="M284.64,130.24L292.72,125.2L286.31,125.18L278.23,129.93Z"/>
<path fill="#2ecf65" d="M410.29,116.31L418.37,111.76L411.96,109.32L403.88,114Z"/>
<path fill="#28cf6a" d="M167.06,125.53L175.14,124.98L168.73,115.74L160.65,116.12Z"/>
<path fill="#08bcc1" d="M225.02,151.15L233.1,146.03L226.69,139.63L218.61,143.79Z"/>
<path fill="#08bfb5" d="M262.07,142.27L270.15,135.63L263.74,133.62L255.66,139.35Z"/>
<path fill="#72d046" d="M152.58,115.96L160.65,116.12L154.25,106.61L146.17,106.36Z"/>
<path fill="#1fce71" d="M321.69,116.74L329.77,115.66L323.36,116.21L315.28,117.95Z"/>
<path fill="#29cf68" d="M373.24,117.01L381.32,116.67L374.91,114.79L366.83,115.72Z"/>
<path fill="#08bac4" d="M239.51,151.97L247.58,145.54L241.17,140.74L233.1,146.03Z"/>
<path fill="#28cf6a" d="M387.73,118.53L395.8,117.08L389.39,114.86L381.32,116.67Z"/>
<path fill="#45d059" d="M424.78,113.9L432.86,107.89L426.45,105.73L418.37,111.76Z"/>
<path fill="#0eca86" d="M299.13,124.24L307.21,120.47L300.8,121.37L292.72,125.2Z"/>
<path fill="#2dcf66" d="M336.18,114.74L344.26,114.89L337.85,115.02L329.77,115.66Z"/>
<path fill="#09c3a6" d="M276.56,136.64L284.64,130.24L278.23,129.93L270.15,135.63Z"/>
<path fill="#08bfb6" d="M202.45,150.67L210.53,147.53L204.12,139.21L196.04,141.68Z"/>
<path fill="#08bcc1" d="M253.99,149.66L262.07,142.27L255.66,139.35L247.58,145.54Z"/>
<path fill="#0ac59f" d="M187.96,143.51L196.04,141.68L189.63,132.79L181.55,134.2Z"/>
<path fill="#29cf69" d="M402.21,119.23L410.29,116.31L403.88,114L395.8,117.08Z"/>
<path fill="#08bac4" d="M216.94,155.84L225.02,151.15L218.61,143.79L210.53,147.53Z"/>
<path fill="#0ecb82" d="M173.47,134.98L181.55,134.2L175.14,124.98L167.06,125.53Z"/>
<path fill="#34d060" d="M350.67,114.69L358.75,115.52L352.34,114.96L344.26,114.89Z"/>
<path fill="#32d062" d="M158.99,125.49L167.06,125.53L160.65,116.12L152.58,115.96Z"/>
<path fill="#09b8ca" d="M231.43,158.31L239.51,151.97L233.1,146.03L225.02,151.15Z"/>
<path fill="#1dcd73" d="M313.62,118.87L321.69,116.74L315.28,117.95L307.21,120.47Z"/>
<path fill="#34d060" d="M365.16,116.21L373.24,117.01L366.83,115.72L358.75,115.52Z"/>
<path fill="#8ece3a" d="M144.5,115.26L152.58,115.96L146.17,106.36L138.09,105.59Z"/>
<path fill="#30cf63" d="M416.7,118.44L424.78,113.9L418.37,111.76L410.29,116.31Z"/>
<path fill="#0cc892" d="M291.05,129.64L299.13,124.24L292.72,125.2L284.64,130.24Z"/>
<path fill="#08bfb6" d="M268.48,144.36L276.56,136.64L270.15,135.63L262.07,142.27Z"/>
<path fill="#30cf64" d="M379.65,118.49L387.73,118.53L381.32,116.67L373.24,117.01Z"/>
<path fill="#09b7ca" d="M245.91,157.48L253.99,149.66L247.58,145.54L239.51,151.97Z"/>
<path fill="#31d062" d="M328.1,115.2L336.18,114.74L329.77,115.66L321.69,116.74Z"/>
<path fill="#08bfb6" d="M194.37,153.05L202.45,150.67L196.04,141.68L187.96,143.51Z"/>
<path fill="#09b9c6" d="M208.86,159.85L216.94,155.84L210.53,147.53L202.45,150.67Z"/>
<path fill="#2ccf67" d="M394.13,120.52L402.21,119.23L395.8,117.08L387.73,118.53Z"/>
<path fill="#49d057" d="M431.19,115.76L439.27,109.69L432.86,107.89L424.78,113.9Z"/>
<path fill="#0ac69b" d="M179.88,144.61L187.96,143.51L181.55,134.2L173.47,134.98Z"/>
<path fill="#0ab5cf" d="M223.35,164.21L231.43,158.31L225.02,151.15L216.94,155.84Z"/>
<path fill="#12cc7b" d="M165.39,135.1L173.47,134.98L167.06,125.53L158.99,125.49Z"/>
<path fill="#14cd79" d="M305.54,122.63L313.62,118.87L307.21,120.47L299.13,124.24Z"/>
<path fill="#48d058" d="M342.59,113.86L350.67,114.69L344.26,114.89L336.18,114.74Z"/>
<path fill="#08bac4" d="M260.4,153.17L268.48,144.36L262.07,142.27L253.99,149.66Z"/>
<path fill="#0ac5a1" d="M282.97,136.85L291.05,129.64L284.64,130.24L276.56,136.64Z"/>
<path fill="#2bcf67" d="M408.62,121.38L416.7,118.44L410.29,116.31L402.21,119.23Z"/>
<path fill="#4ad057" d="M150.91,124.87L158.99,125.49L152.58,115.96L144.5,115.26Z"/>
<path fill="#0bb3d2" d="M237.84,165.32L245.91,157.48L239.51,151.97L231.43,158.31Z"/>
<path fill="#4fd055" d="M357.08,114.79L365.16,116.21L358.75,115.52L350.67,114.69Z"/>
<path fill="#b1ca2b" d="M136.42,114.03L144.5,115.26L138.09,105.59L130.01,104.31Z"/>
<path fill="#32d062" d="M423.11,120.42L431.19,115.76L424.78,113.9L416.7,118.44Z"/>
<path fill="#46d059" d="M371.57,117.3L379.65,118.49L373.24,117.01L365.16,116.21Z"/>
<path fill="#30d063" d="M320.02,117.01L328.1,115.2L321.69,116.74L313.62,118.87Z"/>
<path fill="#09b9c7" d="M200.78,162.97L208.86,159.85L202.45,150.67L194.37,153.05Z"/>
<path fill="#0ab5cf" d="M252.32,162.63L260.4,153.17L253.99,149.66L245.91,157.48Z"/>
<path fill="#0bb3d3" d="M215.27,169.33L223.35,164.21L216.94,155.84L208.86,159.85Z"/>
<path fill="#08c0b3" d="M186.29,154.58L194.37,153.05L187.96,143.51L179.88,144.61Z"/>
<path fill="#08c0b4" d="M274.89,145.81L282.97,136.85L276.56,136.64L268.48,144.36Z"/>
<path fill="#37d05f" d="M386.06,120.33L394.13,120.52L387.73,118.53L379.65,118.49Z"/>
<path fill="#0eca86" d="M297.46,128.47L305.54,122.63L299.13,124.24L291.05,129.64Z"/>
<path fill="#0bc895" d="M171.8,144.94L179.88,144.61L173.47,134.98L165.39,135.1Z"/>
<path fill="#0cafd9" d="M229.76,172.69L237.84,165.32L231.43,158.31L223.35,164.21Z"/>
<path fill="#1ece71" d="M157.32,134.57L165.39,135.1L158.99,125.49L150.91,124.87Z"/>
<path fill="#2fcf64" d="M400.54,122.73L408.62,121.38L402.21,119.23L394.13,120.52Z"/>
<path fill="#56d052" d="M334.51,113.83L342.59,113.86L336.18,114.74L328.1,115.2Z"/>
<path fill="#50d054" d="M437.6,117.36L445.68,111.12L439.27,109.69L431.19,115.76Z"/>
<path fill="#68d04a" d="M142.83,123.67L150.91,124.87L144.5,115.26L136.42,114.03Z"/>
<path fill="#0dafda" d="M244.24,172.2L252.32,162.63L245.91,157.48L237.84,165.32Z"/>
<path fill="#09b9c6" d="M266.81,156.19L274.89,145.81L268.48,144.36L260.4,153.17Z"/>
<path fill="#2ecf65" d="M415.03,123.56L423.11,120.42L416.7,118.44L408.62,121.38Z"/>
<path fill="#69d04a" d="M349,113.46L357.08,114.79L350.67,114.69L342.59,113.86Z"/>
<path fill="#d1c525" d="M128.34,112.27L136.42,114.03L130.01,104.31L121.93,102.53Z"/>
<path fill="#0bb2d5" d="M207.19,173.36L215.27,169.33L208.86,159.85L200.78,162.97Z"/>
<path fill="#28cf6a" d="M311.95,120.83L320.02,117.01L313.62,118.87L305.54,122.63Z"/>
<path fill="#0ac799" d="M289.38,136.57L297.46,128.47L291.05,129.64L282.97,136.85Z"/>
<path fill="#09b9c6" d="M192.7,165.04L200.78,162.97L194.37,153.05L186.29,154.58Z"/>
<path fill="#0facdc" d="M221.68,179.13L229.76,172.69L223.35,164.21L215.27,169.33Z"/>
<path fill="#66d04b" d="M363.49,115.53L371.57,117.3L365.16,116.21L357.08,114.79Z"/>
<path fill="#09c2ad" d="M178.21,155.18L186.29,154.58L179.88,144.61L171.8,144.94Z"/>
<path fill="#0bb2d4" d="M258.73,167.48L266.81,156.19L260.4,153.17L252.32,162.63Z"/>
<path fill="#12a9df" d="M236.17,181.27L244.24,172.2L237.84,165.32L229.76,172.69Z"/>
<path fill="#37d05f" d="M429.52,122.26L437.6,117.36L431.19,115.76L423.11,120.42Z"/>
<path fill="#0dc98b" d="M163.73,144.5L171.8,144.94L165.39,135.1L157.32,134.57Z"/>
<path fill="#55d052" d="M377.98,119.02L386.06,120.33L379.65,118.49L371.57,117.3Z"/>
<path fill="#3fd05c" d="M392.47,122.64L400.54,122.73L394.13,120.52L386.06,120.33Z"/>
<path fill="#58d051" d="M326.43,115.41L334.51,113.83L328.1,115.2L320.02,117.01Z"/>
<path fill="#09c1b0" d="M281.3,146.84L289.38,136.57L282.97,136.85L274.89,145.81Z"/>
<path fill="#2dcf66" d="M149.24,133.39L157.32,134.57L150.91,124.87L142.83,123.67Z"/>
<path fill="#16cd78" d="M303.87,127.14L311.95,120.83L305.54,122.63L297.46,128.47Z"/>
<path fill="#11aade" d="M250.65,178.96L258.73,167.48L252.32,162.63L244.24,172.2Z"/>
<path fill="#31d063" d="M406.95,125.17L415.03,123.56L408.62,121.38L400.54,122.73Z"/>
<path fill="#11a9de" d="M213.6,184.25L221.68,179.13L215.27,169.33L207.19,173.36Z"/>
<path fill="#8ece3a" d="M134.75,121.92L142.83,123.67L136.42,114.03L128.34,112.27Z"/>
<path fill="#0bb2d5" d="M199.11,176.1L207.19,173.36L200.78,162.97L192.7,165.04Z"/>
<path fill="#5ad050" d="M444.01,118.67L452.09,112.2L445.68,111.12L437.6,117.36Z"/>
<path fill="#17a4e3" d="M228.09,189.23L236.17,181.27L229.76,172.69L221.68,179.13Z"/>
<path fill="#7cd042" d="M340.92,113.1L349,113.46L342.59,113.86L334.51,113.83Z"/>
<path fill="#08bbc3" d="M184.62,165.98L192.7,165.04L186.29,154.58L178.21,155.18Z"/>
<path fill="#09b9c7" d="M273.22,158.91L281.3,146.84L274.89,145.81L266.81,156.19Z"/>
<path fill="#eac025" d="M120.26,110.01L128.34,112.27L121.93,102.53L113.85,100.26Z"/>
<path fill="#30cf63" d="M421.44,125.73L429.52,122.26L423.11,120.42L415.03,123.56Z"/>
<path fill="#09c4a5" d="M170.13,154.86L178.21,155.18L171.8,144.94L163.73,144.5Z"/>
<path fill="#87cf3d" d="M355.41,113.94L363.49,115.53L357.08,114.79L349,113.46Z"/>
<path fill="#18a2e5" d="M242.58,189.88L250.65,178.96L244.24,172.2L236.17,181.27Z"/>
<path fill="#0cc98e" d="M295.79,136.16L303.87,127.14L297.46,128.47L289.38,136.57Z"/>
<path fill="#0fcb80" d="M155.65,143.33L163.73,144.5L157.32,134.57L149.24,133.39Z"/>
<path fill="#47d059" d="M318.36,119.33L326.43,115.41L320.02,117.01L311.95,120.83Z"/>
<path fill="#78d043" d="M369.9,117.17L377.98,119.02L371.57,117.3L363.49,115.53Z"/>
<path fill="#0bb0d8" d="M265.14,172.1L273.22,158.91L266.81,156.19L258.73,167.48Z"/>
<path fill="#5dd04f" d="M384.39,121.48L392.47,122.64L386.06,120.33L377.98,119.02Z"/>
<path fill="#3fd05c" d="M435.93,123.91L444.01,118.67L437.6,117.36L429.52,122.26Z"/>
<path fill="#1aa0e6" d="M220.01,195.59L228.09,189.23L221.68,179.13L213.6,184.25Z"/>
<path fill="#12a9df" d="M205.52,187.79L213.6,184.25L207.19,173.36L199.11,176.1Z"/>
<path fill="#49d057" d="M141.16,131.6L149.24,133.39L142.83,123.67L134.75,121.92Z"/>
<path fill="#42d05b" d="M398.87,125.42L406.95,125.17L400.54,122.73L392.47,122.64Z"/>
<path fill="#0bb3d3" d="M191.03,177.44L199.11,176.1L192.7,165.04L184.62,165.98Z"/>
<path fill="#1e9be9" d="M234.5,199.5L242.58,189.88L236.17,181.27L228.09,189.23Z"/>
<path fill="#15a5e2" d="M257.06,185.57L265.14,172.1L258.73,167.48L250.65,178.96Z"/>
<path fill="#09c2ab" d="M287.71,147.77L295.79,136.16L289.38,136.57L281.3,146.84Z"/>
<path fill="#bac928" d="M126.67,119.64L134.75,121.92L128.34,112.27L120.26,110.01Z"/>
<path fill="#80cf40" d="M332.84,114.56L340.92,113.1L334.51,113.83L326.43,115.41Z"/>
<path fill="#08bdbf" d="M176.54,165.79L184.62,165.98L178.21,155.18L170.13,154.86Z"/>
<path fill="#32d062" d="M413.36,127.79L421.44,125.73L415.03,123.56L406.95,125.17Z"/>
<path fill="#29cf69" d="M310.28,126.14L318.36,119.33L311.95,120.83L303.87,127.14Z"/>
<path fill="#67d04b" d="M450.42,119.66L458.5,112.9L452.09,112.2L444.01,118.67Z"/>
<path fill="#1e9be9" d="M248.98,198.4L257.06,185.57L250.65,178.96L242.58,189.88Z"/>
<path fill="#f7bc2e" d="M112.18,107.27L120.26,110.01L113.85,100.26L105.77,97.5Z"/>
<path fill="#0ac69b" d="M162.06,153.66L170.13,154.86L163.73,144.5L155.65,143.33Z"/>
<path fill="#09b9c7" d="M279.63,161.49L287.71,147.77L281.3,146.84L273.22,158.91Z"/>
<path fill="#a0cc33" d="M347.33,113.43L355.41,113.94L349,113.46L340.92,113.1Z"/>
<path fill="#1c9ee7" d="M211.93,200.01L220.01,195.59L213.6,184.25L205.52,187.79Z"/>
<path fill="#32d062" d="M427.85,127.84L435.93,123.91L429.52,122.26L421.44,125.73Z"/>
<path fill="#2296ed" d="M226.42,207.19L234.5,199.5L228.09,189.23L220.01,195.59Z"/>
<path fill="#1dcd72" d="M147.57,141.46L155.65,143.33L149.24,133.39L141.16,131.6Z"/>
<path fill="#12a9de" d="M197.44,189.59L205.52,187.79L199.11,176.1L191.03,177.44Z"/>
<path fill="#9ecc34" d="M361.82,115.57L369.9,117.17L363.49,115.53L355.41,113.94Z"/>
<path fill="#0daedb" d="M271.55,176.55L279.63,161.49L273.22,158.91L265.14,172.1Z"/>
<path fill="#2692ef" d="M240.91,209.7L248.98,198.4L242.58,189.88L234.5,199.5Z"/>
<path fill="#82cf3f" d="M376.31,119.83L384.39,121.48L377.98,119.02L369.9,117.17Z"/>
<path fill="#0ab5cf" d="M182.95,177.39L191.03,177.44L184.62,165.98L176.54,165.79Z"/>
<path fill="#0ecb83" d="M302.2,136.05L310.28,126.14L303.87,127.14L295.79,136.16Z"/>
<path fill="#71d046" d="M133.08,129.25L141.16,131.6L134.75,121.92L126.67,119.64Z"/>
<path fill="#5fd04e" d="M390.8,124.67L398.87,125.42L392.47,122.64L384.39,121.48Z"/>
<path fill="#6dd048" d="M324.76,118.66L332.84,114.56L326.43,115.41L318.36,119.33Z"/>
<path fill="#48d058" d="M442.34,125.3L450.42,119.66L444.01,118.67L435.93,123.91Z"/>
<path fill="#19a1e5" d="M263.47,191.95L271.55,176.55L265.14,172.1L257.06,185.57Z"/>
<path fill="#40d05b" d="M405.28,128.59L413.36,127.79L406.95,125.17L398.87,125.42Z"/>
<path fill="#08c0b4" d="M168.47,164.53L176.54,165.79L170.13,154.86L162.06,153.66Z"/>
<path fill="#e0c322" d="M118.59,116.85L126.67,119.64L120.26,110.01L112.18,107.27Z"/>
<path fill="#2593ee" d="M218.34,212.55L226.42,207.19L220.01,195.59L211.93,200.01Z"/>
<path fill="#2494ee" d="M255.39,206.61L263.47,191.95L257.06,185.57L248.98,198.4Z"/>
<path fill="#2a8af3" d="M232.83,218.75L240.91,209.7L234.5,199.5L226.42,207.19Z"/>
<path fill="#09c4a5" d="M294.12,148.9L302.2,136.05L295.79,136.16L287.71,147.77Z"/>
<path fill="#1b9ee7" d="M203.85,202.32L211.93,200.01L205.52,187.79L197.44,189.59Z"/>
<path fill="#32d062" d="M419.77,130.48L427.85,127.84L421.44,125.73L413.36,127.79Z"/>
<path fill="#a5cb30" d="M339.25,114.91L347.33,113.43L340.92,113.1L332.84,114.56Z"/>
<path fill="#0cc98d" d="M153.98,151.66L162.06,153.66L155.65,143.33L147.57,141.46Z"/>
<path fill="#fbbf32" d="M104.1,104.05L112.18,107.27L105.77,97.5L97.69,94.28Z"/>
<path fill="#76d044" d="M456.83,120.28L464.91,113.21L458.5,112.9L450.42,119.66Z"/>
<path fill="#0facdc" d="M189.36,189.67L197.44,189.59L191.03,177.44L182.95,177.39Z"/>
<path fill="#2b87f5" d="M247.32,219.52L255.39,206.61L248.98,198.4L240.91,209.7Z"/>
<path fill="#09b9c7" d="M286.04,164.14L294.12,148.9L287.71,147.77L279.63,161.49Z"/>
<path fill="#40d05b" d="M316.69,125.94L324.76,118.66L318.36,119.33L310.28,126.14Z"/>
<path fill="#b8c929" d="M353.74,115.12L361.82,115.57L355.41,113.94L347.33,113.43Z"/>
<path fill="#32d062" d="M139.49,138.97L147.57,141.46L141.16,131.6L133.08,129.25Z"/>
<path fill="#36d060" d="M434.26,129.77L442.34,125.3L435.93,123.91L427.85,127.84Z"/>
<path fill="#0facdc" d="M277.96,180.87L286.04,164.14L279.63,161.49L271.55,176.55Z"/>
<path fill="#a9cb2f" d="M368.23,118.47L376.31,119.83L369.9,117.17L361.82,115.57Z"/>
<path fill="#09b8c9" d="M174.87,176.03L182.95,177.39L176.54,165.79L168.47,164.53Z"/>
<path fill="#2d85f6" d="M224.75,225.04L232.83,218.75L226.42,207.19L218.34,212.55Z"/>
<path fill="#82cf3f" d="M382.72,123.49L390.8,124.67L384.39,121.48L376.31,119.83Z"/>
<path fill="#a3cc31" d="M125,126.37L133.08,129.25L126.67,119.64L118.59,116.85Z"/>
<path fill="#2593ef" d="M210.26,215.38L218.34,212.55L211.93,200.01L203.85,202.32Z"/>
<path fill="#1d9ce8" d="M269.88,197.98L277.96,180.87L271.55,176.55L263.47,191.95Z"/>
<path fill="#5ad050" d="M397.21,128.48L405.28,128.59L398.87,125.42L390.8,124.67Z"/>
<path fill="#317cfa" d="M239.24,229.83L247.32,219.52L240.91,209.7L232.83,218.75Z"/>
<path fill="#14cd79" d="M308.61,136.62L316.69,125.94L310.28,126.14L302.2,136.05Z"/>
<path fill="#09c3a7" d="M160.39,162.32L168.47,164.53L162.06,153.66L153.98,151.66Z"/>
<path fill="#3bd05d" d="M411.69,131.99L419.77,130.48L413.36,127.79L405.28,128.59Z"/>
<path fill="#54d053" d="M448.75,126.36L456.83,120.28L450.42,119.66L442.34,125.3Z"/>
<path fill="#298df2" d="M261.8,214.26L269.88,197.98L263.47,191.95L255.39,206.61Z"/>
<path fill="#8fce3a" d="M331.17,119.22L339.25,114.91L332.84,114.56L324.76,118.66Z"/>
<path fill="#1aa1e6" d="M195.77,202.53L203.85,202.32L197.44,189.59L189.36,189.67Z"/>
<path fill="#f2be2a" d="M110.51,113.6L118.59,116.85L112.18,107.27L104.1,104.05Z"/>
<path fill="#317cfa" d="M253.72,228.55L261.8,214.26L255.39,206.61L247.32,219.52Z"/>
<path fill="#10cc7c" d="M145.9,148.95L153.98,151.66L147.57,141.46L139.49,138.97Z"/>
<path fill="#31d062" d="M426.18,133.09L434.26,129.77L427.85,127.84L419.77,130.48Z"/>
<path fill="#0ac5a0" d="M300.53,150.51L308.61,136.62L302.2,136.05L294.12,148.9Z"/>
<path fill="#0cafd9" d="M181.28,188.17L189.36,189.67L182.95,177.39L174.87,176.03Z"/>
<path fill="#3774fb" d="M231.16,236.98L239.24,229.83L232.83,218.75L224.75,225.04Z"/>
<path fill="#fcc730" d="M96.02,100.37L104.1,104.05L97.69,94.28L89.62,90.58Z"/>
<path fill="#bcc928" d="M345.66,116.75L353.74,115.12L347.33,113.43L339.25,114.91Z"/>
<path fill="#2d83f7" d="M216.67,228.36L224.75,225.04L218.34,212.55L210.26,215.38Z"/>
<path fill="#5ed04f" d="M131.41,135.93L139.49,138.97L133.08,129.25L125,126.37Z"/>
<path fill="#09b9c7" d="M292.45,166.99L300.53,150.51L294.12,148.9L286.04,164.14Z"/>
<path fill="#8bce3b" d="M463.24,120.48L471.32,113.09L464.91,113.21L456.83,120.28Z"/>
<path fill="#3c6dfc" d="M245.65,239.94L253.72,228.55L247.32,219.52L239.24,229.83Z"/>
<path fill="#c0c827" d="M360.15,118.29L368.23,118.47L361.82,115.57L353.74,115.12Z"/>
<path fill="#2395ed" d="M202.18,215.71L210.26,215.38L203.85,202.32L195.77,202.53Z"/>
<path fill="#5bd050" d="M323.1,126.9L331.17,119.22L324.76,118.66L316.69,125.94Z"/>
<path fill="#3cd05d" d="M440.67,131.4L448.75,126.36L442.34,125.3L434.26,129.77Z"/>
<path fill="#08bcc1" d="M166.8,173.53L174.87,176.03L168.47,164.53L160.39,162.32Z"/>
<path fill="#11aade" d="M284.37,185.07L292.45,166.99L286.04,164.14L277.96,180.87Z"/>
<path fill="#a6cb30" d="M374.64,122.6L382.72,123.49L376.31,119.83L368.23,118.47Z"/>
<path fill="#77d044" d="M389.13,127.96L397.21,128.48L390.8,124.67L382.72,123.49Z"/>
<path fill="#2098eb" d="M276.29,203.52L284.37,185.07L277.96,180.87L269.88,197.98Z"/>
<path fill="#d2c524" d="M116.92,123.02L125,126.37L118.59,116.85L110.51,113.6Z"/>
<path fill="#4fd055" d="M403.61,132.66L411.69,131.99L405.28,128.59L397.21,128.48Z"/>
<path fill="#2c85f6" d="M268.21,221.04L276.29,203.52L269.88,197.98L261.8,214.26Z"/>
<path fill="#16a5e2" d="M187.69,200.84L195.77,202.53L189.36,189.67L181.28,188.17Z"/>
<path fill="#0bc797" d="M152.31,159.3L160.39,162.32L153.98,151.66L145.9,148.95Z"/>
<path fill="#3972fb" d="M223.08,240.74L231.16,236.98L224.75,225.04L216.67,228.36Z"/>
<path fill="#34d060" d="M418.1,135.39L426.18,133.09L419.77,130.48L411.69,131.99Z"/>
<path fill="#4262fa" d="M237.57,247.8L245.65,239.94L239.24,229.83L231.16,236.98Z"/>
<path fill="#3a70fb" d="M260.13,236.38L268.21,221.04L261.8,214.26L253.72,228.55Z"/>
<path fill="#1ece71" d="M315.02,138.18L323.1,126.9L316.69,125.94L308.61,136.62Z"/>
<path fill="#fbbe31" d="M102.43,109.9L110.51,113.6L104.1,104.05L96.02,100.37Z"/>
<path fill="#a5cb31" d="M337.58,121.28L345.66,116.75L339.25,114.91L331.17,119.22Z"/>
<path fill="#62d04d" d="M455.16,127.01L463.24,120.48L456.83,120.28L448.75,126.36Z"/>
<path fill="#2c86f5" d="M208.59,228.77L216.67,228.36L210.26,215.38L202.18,215.71Z"/>
<path fill="#28cf6a" d="M137.82,145.65L145.9,148.95L139.49,138.97L131.41,135.93Z"/>
<path fill="#0ab4d1" d="M173.21,185.3L181.28,188.17L174.87,176.03L166.8,173.53Z"/>
<path fill="#31d062" d="M432.59,135.43L440.67,131.4L434.26,129.77L426.18,133.09Z"/>
<path fill="#435cf8" d="M252.06,248.55L260.13,236.38L253.72,228.55L245.65,239.94Z"/>
<path fill="#0ac69d" d="M306.94,152.81L315.02,138.18L308.61,136.62L300.53,150.51Z"/>
<path fill="#f9d828" d="M87.95,96.25L96.02,100.37L89.62,90.58L81.54,86.43Z"/>
<path fill="#c3c827" d="M352.07,120.18L360.15,118.29L353.74,115.12L345.66,116.75Z"/>
<path fill="#2099eb" d="M194.1,213.76L202.18,215.71L195.77,202.53L187.69,200.84Z"/>
<path fill="#92cd38" d="M123.33,132.4L131.41,135.93L125,126.37L116.92,123.02Z"/>
<path fill="#bcc928" d="M366.56,122.85L374.64,122.6L368.23,118.47L360.15,118.29Z"/>
<path fill="#09b9c7" d="M298.86,170.14L306.94,152.81L300.53,150.51L292.45,166.99Z"/>
<path fill="#09c0b1" d="M158.72,170.09L166.8,173.53L160.39,162.32L152.31,159.3Z"/>
<path fill="#96cd37" d="M381.05,127.73L389.13,127.96L382.72,123.49L374.64,122.6Z"/>
<path fill="#435ef9" d="M229.49,251.89L237.57,247.8L231.16,236.98L223.08,240.74Z"/>
<path fill="#13a8df" d="M290.78,189.1L298.86,170.14L292.45,166.99L284.37,185.07Z"/>
<path fill="#66d04b" d="M395.54,132.97L403.61,132.66L397.21,128.48L389.13,127.96Z"/>
<path fill="#6ad049" d="M329.5,129.27L337.58,121.28L331.17,119.22L323.1,126.9Z"/>
<path fill="#2395ed" d="M282.7,208.4L290.78,189.1L284.37,185.07L276.29,203.52Z"/>
<path fill="#a5cb31" d="M469.65,120.23L477.73,112.51L471.32,113.09L463.24,120.48Z"/>
<path fill="#46d059" d="M447.08,132.62L455.16,127.01L448.75,126.36L440.67,131.4Z"/>
<path fill="#474ef3" d="M243.98,256.91L252.06,248.55L245.65,239.94L237.57,247.8Z"/>
<path fill="#307ff9" d="M274.62,226.67L282.7,208.4L276.29,203.52L268.21,221.04Z"/>
<path fill="#3775fb" d="M215,241.18L223.08,240.74L216.67,228.36L208.59,228.77Z"/>
<path fill="#eebf28" d="M108.84,119.23L116.92,123.02L110.51,113.6L102.43,109.9Z"/>
<path fill="#40d05b" d="M410.02,136.94L418.1,135.39L411.69,131.99L403.61,132.66Z"/>
<path fill="#11aade" d="M179.61,197.51L187.69,200.84L181.28,188.17L173.21,185.3Z"/>
<path fill="#4067fc" d="M266.54,242.62L274.62,226.67L268.21,221.04L260.13,236.38Z"/>
<path fill="#0ecb84" d="M144.23,155.63L152.31,159.3L145.9,148.95L137.82,145.65Z"/>
<path fill="#30cf63" d="M424.51,138.56L432.59,135.43L426.18,133.09L418.1,135.39Z"/>
<path fill="#298cf2" d="M200.51,226.53L208.59,228.77L202.18,215.71L194.1,213.76Z"/>
<path fill="#fcc532" d="M94.36,105.76L102.43,109.9L96.02,100.37L87.95,96.25Z"/>
<path fill="#abcb2e" d="M343.99,124.94L352.07,120.18L345.66,116.75L337.58,121.28Z"/>
<path fill="#474ef3" d="M258.46,255.22L266.54,242.62L260.13,236.38L252.06,248.55Z"/>
<path fill="#23ce6d" d="M321.43,140.9L329.5,129.27L323.1,126.9L315.02,138.18Z"/>
<path fill="#50d054" d="M129.74,141.85L137.82,145.65L131.41,135.93L123.33,132.4Z"/>
<path fill="#75d045" d="M461.57,127.17L469.65,120.23L463.24,120.48L455.16,127.01Z"/>
<path fill="#09b9c7" d="M165.13,181.33L173.21,185.3L166.8,173.53L158.72,170.09Z"/>
<path fill="#4849f2" d="M235.9,261.2L243.98,256.91L237.57,247.8L229.49,251.89Z"/>
<path fill="#bcc928" d="M358.48,125.09L366.56,122.85L360.15,118.29L352.07,120.18Z"/>
<path fill="#33d061" d="M439,137.34L447.08,132.62L440.67,131.4L432.59,135.43Z"/>
<path fill="#4261fa" d="M221.41,252.31L229.49,251.89L223.08,240.74L215,241.18Z"/>
<path fill="#0ac69c" d="M313.35,155.91L321.43,140.9L315.02,138.18L306.94,152.81Z"/>
<path fill="#f6ef1a" d="M79.87,91.69L87.95,96.25L81.54,86.43L73.46,81.83Z"/>
<path fill="#1b9fe7" d="M186.02,209.9L194.1,213.76L187.69,200.84L179.61,197.51Z"/>
<path fill="#a8cb2f" d="M372.97,128.55L381.05,127.73L374.64,122.6L366.56,122.85Z"/>
<path fill="#4a41ec" d="M250.39,263.81L258.46,255.22L252.06,248.55L243.98,256.91Z"/>
<path fill="#cac626" d="M115.25,128.45L123.33,132.4L116.92,123.02L108.84,119.23Z"/>
<path fill="#7bd042" d="M387.46,133.52L395.54,132.97L389.13,127.96L381.05,127.73Z"/>
<path fill="#09b8c8" d="M305.27,173.6L313.35,155.91L306.94,152.81L298.86,170.14Z"/>
<path fill="#50d054" d="M401.95,138.16L410.02,136.94L403.61,132.66L395.54,132.97Z"/>
<path fill="#0ac69e" d="M150.64,165.92L158.72,170.09L152.31,159.3L144.23,155.63Z"/>
<path fill="#14a6e1" d="M297.19,192.9L305.27,173.6L298.86,170.14L290.78,189.1Z"/>
<path fill="#2593ef" d="M289.11,212.47L297.19,192.9L290.78,189.1L282.7,208.4Z"/>
<path fill="#317cfa" d="M206.92,238.63L215,241.18L208.59,228.77L200.51,226.53Z"/>
<path fill="#337afa" d="M281.03,230.93L289.11,212.47L282.7,208.4L274.62,226.67Z"/>
<path fill="#6dd048" d="M335.91,133.09L343.99,124.94L337.58,121.28L329.5,129.27Z"/>
<path fill="#32d062" d="M416.43,141.02L424.51,138.56L418.1,135.39L410.02,136.94Z"/>
<path fill="#435ef9" d="M272.95,246.97L281.03,230.93L274.62,226.67L266.54,242.62Z"/>
<path fill="#53d053" d="M453.49,133.31L461.57,127.17L455.16,127.01L447.08,132.62Z"/>
<path fill="#fabd31" d="M100.76,115.03L108.84,119.23L102.43,109.9L94.36,105.76Z"/>
<path fill="#c1c827" d="M476.06,119.47L484.13,111.45L477.73,112.51L469.65,120.23Z"/>
<path fill="#0bb1d7" d="M171.54,192.9L179.61,197.51L173.21,185.3L165.13,181.33Z"/>
<path fill="#22ce6e" d="M136.15,151.43L144.23,155.63L137.82,145.65L129.74,141.85Z"/>
<path fill="#4a44f0" d="M264.87,259.59L272.95,246.97L266.54,242.62L258.46,255.22Z"/>
<path fill="#2dcf65" d="M430.92,141.27L439,137.34L432.59,135.43L424.51,138.56Z"/>
<path fill="#2494ee" d="M192.43,222.11L200.51,226.53L194.1,213.76L186.02,209.9Z"/>
<path fill="#a0cc33" d="M350.4,130.06L358.48,125.09L352.07,120.18L343.99,124.94Z"/>
<path fill="#474df3" d="M227.82,261.55L235.9,261.2L229.49,251.89L221.41,252.31Z"/>
<path fill="#493de8" d="M242.31,268.14L250.39,263.81L243.98,256.91L235.9,261.2Z"/>
<path fill="#23ce6e" d="M327.84,144.8L335.91,133.09L329.5,129.27L321.43,140.9Z"/>
<path fill="#fad629" d="M86.28,101.21L94.36,105.76L87.95,96.25L79.87,91.69Z"/>
<path fill="#8ace3c" d="M121.66,137.62L129.74,141.85L123.33,132.4L115.25,128.45Z"/>
<path fill="#a5cb30" d="M364.89,131.2L372.97,128.55L366.56,122.85L358.48,125.09Z"/>
<path fill="#3e6bfc" d="M213.33,249.45L221.41,252.31L215,241.18L206.92,238.63Z"/>
<path fill="#08bfb8" d="M157.05,176.53L165.13,181.33L158.72,170.09L150.64,165.92Z"/>
<path fill="#87ce3d" d="M379.38,134.99L387.46,133.52L381.05,127.73L372.97,128.55Z"/>
<path fill="#8fce3a" d="M467.98,126.79L476.06,119.47L469.65,120.23L461.57,127.17Z"/>
<path fill="#0ac69d" d="M319.76,159.78L327.84,144.8L321.43,140.9L313.35,155.91Z"/>
<path fill="#493be5" d="M256.8,268.12L264.87,259.59L258.46,255.22L250.39,263.81Z"/>
<path fill="#5dd04f" d="M393.87,139.55L401.95,138.16L395.54,132.97L387.46,133.52Z"/>
<path fill="#39d05e" d="M445.41,138.68L453.49,133.31L447.08,132.62L439,137.34Z"/>
<path fill="#f9fb15" d="M71.79,86.69L79.87,91.69L73.46,81.83L65.38,76.77Z"/>
<path fill="#14a7e0" d="M177.95,204.57L186.02,209.9L179.61,197.51L171.54,192.9Z"/>
<path fill="#09b7ca" d="M311.68,177.33L319.76,159.78L313.35,155.91L305.27,173.6Z"/>
<path fill="#38d05f" d="M408.35,143.15L416.43,141.02L410.02,136.94L401.95,138.16Z"/>
<path fill="#edbf27" d="M107.17,124.1L115.25,128.45L108.84,119.23L100.76,115.03Z"/>
<path fill="#15a5e2" d="M303.6,196.37L311.68,177.33L305.27,173.6L297.19,192.9Z"/>
<path fill="#2791f0" d="M295.52,215.6L303.6,196.37L297.19,192.9L289.11,212.47Z"/>
<path fill="#62d04d" d="M342.32,138.23L350.4,130.06L343.99,124.94L335.91,133.09Z"/>
<path fill="#0dca88" d="M142.56,161.21L150.64,165.92L144.23,155.63L136.15,151.43Z"/>
<path fill="#3577fb" d="M287.44,233.66L295.52,215.6L289.11,212.47L281.03,230.93Z"/>
<path fill="#2c86f5" d="M198.84,233.62L206.92,238.63L200.51,226.53L192.43,222.11Z"/>
<path fill="#2bcf67" d="M422.84,144.6L430.92,141.27L424.51,138.56L416.43,141.02Z"/>
<path fill="#445af7" d="M279.36,249.29L287.44,233.66L281.03,230.93L272.95,246.97Z"/>
<path fill="#4940eb" d="M234.23,268.38L242.31,268.14L235.9,261.2L227.82,261.55Z"/>
<path fill="#fcc432" d="M92.69,110.43L100.76,115.03L94.36,105.76L86.28,101.21Z"/>
<path fill="#09b7ca" d="M163.46,187.36L171.54,192.9L165.13,181.33L157.05,176.53Z"/>
<path fill="#65d04b" d="M459.9,133.42L467.98,126.79L461.57,127.17L453.49,133.31Z"/>
<path fill="#86cf3e" d="M356.81,136.33L364.89,131.2L358.48,125.09L350.4,130.06Z"/>
<path fill="#4459f7" d="M219.74,258.41L227.82,261.55L221.41,252.31L213.33,249.45Z"/>
<path fill="#4bd057" d="M128.07,146.83L136.15,151.43L129.74,141.85L121.66,137.62Z"/>
<path fill="#4837e1" d="M248.72,272.34L256.8,268.12L250.39,263.81L242.31,268.14Z"/>
<path fill="#4a41ed" d="M271.28,261.51L279.36,249.29L272.95,246.97L264.87,259.59Z"/>
<path fill="#dcc323" d="M482.46,118.18L490.54,109.9L484.13,111.45L476.06,119.47Z"/>
<path fill="#1dcd72" d="M334.24,149.72L342.32,138.23L335.91,133.09L327.84,144.8Z"/>
<path fill="#2dcf66" d="M437.33,143.36L445.41,138.68L439,137.34L430.92,141.27Z"/>
<path fill="#1d9ce8" d="M184.35,216.01L192.43,222.11L186.02,209.9L177.95,204.57Z"/>
<path fill="#80cf40" d="M371.3,138.06L379.38,134.99L372.97,128.55L364.89,131.2Z"/>
<path fill="#f6ee1a" d="M78.2,96.24L86.28,101.21L79.87,91.69L71.79,86.69Z"/>
<path fill="#62d04d" d="M385.79,141.69L393.87,139.55L387.46,133.52L379.38,134.99Z"/>
<path fill="#c8c726" d="M113.58,133.04L121.66,137.62L115.25,128.45L107.17,124.1Z"/>
<path fill="#3478fb" d="M205.25,243.91L213.33,249.45L206.92,238.63L198.84,233.62Z"/>
<path fill="#3ed05c" d="M400.28,145.37L408.35,143.15L401.95,138.16L393.87,139.55Z"/>
<path fill="#0ac5a1" d="M326.17,164.27L334.24,149.72L327.84,144.8L319.76,159.78Z"/>
<path fill="#0ac5a1" d="M148.97,171.17L157.05,176.53L150.64,165.92L142.56,161.21Z"/>
<path fill="#4938e2" d="M263.2,269.7L271.28,261.51L264.87,259.59L256.8,268.12Z"/>
<path fill="#2bcf68" d="M414.76,147.6L422.84,144.6L416.43,141.02L408.35,143.15Z"/>
<path fill="#0ab6cc" d="M318.09,181.17L326.17,164.27L319.76,159.78L311.68,177.33Z"/>
<path fill="#4ad057" d="M348.73,144.35L356.81,136.33L350.4,130.06L342.32,138.23Z"/>
<path fill="#45d059" d="M451.82,139.36L459.9,133.42L453.49,133.31L445.41,138.68Z"/>
<path fill="#afca2c" d="M474.39,125.85L482.46,118.18L476.06,119.47L467.98,126.79Z"/>
<path fill="#f9fb15" d="M63.71,81.26L71.79,86.69L65.38,76.77L57.3,71.26Z"/>
<path fill="#16a4e3" d="M310.01,199.39L318.09,181.17L311.68,177.33L303.6,196.37Z"/>
<path fill="#0cafd9" d="M169.87,198.21L177.95,204.57L171.54,192.9L163.46,187.36Z"/>
<path fill="#fabd31" d="M99.1,119.39L107.17,124.1L100.76,115.03L92.69,110.43Z"/>
<path fill="#2790f0" d="M301.93,217.71L310.01,199.39L303.6,196.37L295.52,215.6Z"/>
<path fill="#3577fb" d="M293.85,234.84L301.93,217.71L295.52,215.6L287.44,233.66Z"/>
<path fill="#20ce70" d="M134.48,156.1L142.56,161.21L136.15,151.43L128.07,146.83Z"/>
<path fill="#493ae4" d="M240.64,272.43L248.72,272.34L242.31,268.14L234.23,268.38Z"/>
<path fill="#2692ef" d="M190.76,226.78L198.84,233.62L192.43,222.11L184.35,216.01Z"/>
<path fill="#27cf6b" d="M429.25,147.48L437.33,143.36L430.92,141.27L422.84,144.6Z"/>
<path fill="#4849f2" d="M226.15,265.01L234.23,268.38L227.82,261.55L219.74,258.41Z"/>
<path fill="#62d04d" d="M363.22,143.29L371.3,138.06L364.89,131.2L356.81,136.33Z"/>
<path fill="#445bf8" d="M285.77,249.58L293.85,234.84L287.44,233.66L279.36,249.29Z"/>
<path fill="#fad629" d="M84.61,105.44L92.69,110.43L86.28,101.21L78.2,96.24Z"/>
<path fill="#12cc7b" d="M340.65,155.38L348.73,144.35L342.32,138.23L334.24,149.72Z"/>
<path fill="#58d051" d="M377.71,145.17L385.79,141.69L379.38,134.99L371.3,138.06Z"/>
<path fill="#4835df" d="M255.13,273.66L263.2,269.7L256.8,268.12L248.72,272.34Z"/>
<path fill="#3e6afc" d="M211.66,252.45L219.74,258.41L213.33,249.45L205.25,243.91Z"/>
<path fill="#08beba" d="M155.38,181.23L163.46,187.36L157.05,176.53L148.97,171.17Z"/>
<path fill="#8ace3c" d="M119.99,141.91L128.07,146.83L121.66,137.62L113.58,133.04Z"/>
<path fill="#3cd05d" d="M392.2,148.18L400.28,145.37L393.87,139.55L385.79,141.69Z"/>
<path fill="#7dd041" d="M466.31,132.89L474.39,125.85L467.98,126.79L459.9,133.42Z"/>
<path fill="#4a42ee" d="M277.69,261.04L285.77,249.58L279.36,249.29L271.28,261.51Z"/>
<path fill="#30cf64" d="M443.74,144.68L451.82,139.36L445.41,138.68L437.33,143.36Z"/>
<path fill="#29cf68" d="M406.69,150.62L414.76,147.6L408.35,143.15L400.28,145.37Z"/>
<path fill="#15a6e1" d="M176.28,208.79L184.35,216.01L177.95,204.57L169.87,198.21Z"/>
<path fill="#edc027" d="M488.87,116.36L496.95,107.84L490.54,109.9L482.46,118.18Z"/>
<path fill="#09c3a7" d="M332.58,169.13L340.65,155.38L334.24,149.72L326.17,164.27Z"/>
<path fill="#f9fb15" d="M70.12,90.86L78.2,96.24L71.79,86.69L63.71,81.26Z"/>
<path fill="#eebf27" d="M105.5,128.14L113.58,133.04L107.17,124.1L99.1,119.39Z"/>
<path fill="#2ecf65" d="M355.14,151.05L363.22,143.29L356.81,136.33L348.73,144.35Z"/>
<path fill="#0dca88" d="M140.89,165.44L148.97,171.17L142.56,161.21L134.48,156.1Z"/>
<path fill="#2c86f5" d="M197.17,236.41L205.25,243.91L198.84,233.62L190.76,226.78Z"/>
<path fill="#0ab5ce" d="M324.5,184.95L332.58,169.13L326.17,164.27L318.09,181.17Z"/>
<path fill="#22ce6e" d="M421.17,151.26L429.25,147.48L422.84,144.6L414.76,147.6Z"/>
<path fill="#493ae4" d="M269.61,268.64L277.69,261.04L271.28,261.51L263.2,269.7Z"/>
<path fill="#17a4e3" d="M316.42,201.89L324.5,184.95L318.09,181.17L310.01,199.39Z"/>
<path fill="#3ad05e" d="M369.63,150.45L377.71,145.17L371.3,138.06L363.22,143.29Z"/>
<path fill="#2791f0" d="M308.34,218.81L316.42,201.89L310.01,199.39L301.93,217.71Z"/>
<path fill="#fcc532" d="M91.02,114.33L99.1,119.39L92.69,110.43L84.61,105.44Z"/>
<path fill="#58d051" d="M458.23,139.32L466.31,132.89L459.9,133.42L451.82,139.36Z"/>
<path fill="#4a41ed" d="M232.56,268.93L240.64,272.43L234.23,268.38L226.15,265.01Z"/>
<path fill="#09b7ca" d="M161.79,191.22L169.87,198.21L163.46,187.36L155.38,181.23Z"/>
<path fill="#cec625" d="M480.8,124.31L488.87,116.36L482.46,118.18L474.39,125.85Z"/>
<path fill="#4938e2" d="M247.05,273.58L255.13,273.66L248.72,272.34L240.64,272.43Z"/>
<path fill="#4ed055" d="M126.4,150.73L134.48,156.1L128.07,146.83L119.99,141.91Z"/>
<path fill="#3379fa" d="M300.26,234.55L308.34,218.81L301.93,217.71L293.85,234.84Z"/>
<path fill="#31d063" d="M384.12,152.03L392.2,148.18L385.79,141.69L377.71,145.17Z"/>
<path fill="#26ce6b" d="M435.66,149.49L443.74,144.68L437.33,143.36L429.25,147.48Z"/>
<path fill="#0eca86" d="M347.06,161.39L355.14,151.05L348.73,144.35L340.65,155.38Z"/>
<path fill="#435df8" d="M218.07,258.8L226.15,265.01L219.74,258.41L211.66,252.45Z"/>
<path fill="#1d9de8" d="M182.69,218.72L190.76,226.78L184.35,216.01L176.28,208.79Z"/>
<path fill="#26ce6b" d="M398.61,154.02L406.69,150.62L400.28,145.37L392.2,148.18Z"/>
<path fill="#4260fa" d="M292.18,248.02L300.26,234.55L293.85,234.84L285.77,249.58Z"/>
<path fill="#f6ef1a" d="M76.53,100.07L84.61,105.44L78.2,96.24L70.12,90.86Z"/>
<path fill="#cdc625" d="M111.91,136.72L119.99,141.91L113.58,133.04L105.5,128.14Z"/>
<path fill="#4837e1" d="M261.54,272.21L269.61,268.64L263.2,269.7L255.13,273.66Z"/>
<path fill="#0ac5a0" d="M147.3,174.76L155.38,181.23L148.97,171.17L140.89,165.44Z"/>
<path fill="#09c1af" d="M338.98,174.06L347.06,161.39L340.65,155.38L332.58,169.13Z"/>
<path fill="#327bfa" d="M203.58,244.47L211.66,252.45L205.25,243.91L197.17,236.41Z"/>
<path fill="#1dcd72" d="M413.09,154.97L421.17,151.26L414.76,147.6L406.69,150.62Z"/>
<path fill="#1bcd74" d="M361.55,157.83L369.63,150.45L363.22,143.29L355.14,151.05Z"/>
<path fill="#39d05f" d="M450.15,145.18L458.23,139.32L451.82,139.36L443.74,144.68Z"/>
<path fill="#9fcc33" d="M472.72,131.7L480.8,124.31L474.39,125.85L466.31,132.89Z"/>
<path fill="#4849f2" d="M284.1,258.42L292.18,248.02L285.77,249.58L277.69,261.04Z"/>
<path fill="#0ab4d0" d="M330.91,188.47L338.98,174.06L332.58,169.13L324.5,184.95Z"/>
<path fill="#0bb0d8" d="M168.2,200.91L176.28,208.79L169.87,198.21L161.79,191.22Z"/>
<path fill="#fbbd31" d="M97.43,122.93L105.5,128.14L99.1,119.39L91.02,114.33Z"/>
<path fill="#21ce6f" d="M376.04,157.3L384.12,152.03L377.71,145.17L369.63,150.45Z"/>
<path fill="#f9bc30" d="M495.28,113.99L503.36,105.26L496.95,107.84L488.87,116.36Z"/>
<path fill="#1dcd72" d="M427.58,153.94L435.66,149.49L429.25,147.48L421.17,151.26Z"/>
<path fill="#23ce6d" d="M132.81,159.5L140.89,165.44L134.48,156.1L126.4,150.73Z"/>
<path fill="#17a4e3" d="M322.83,203.77L330.91,188.47L324.5,184.95L316.42,201.89Z"/>
<path fill="#2494ee" d="M189.09,227.64L197.17,236.41L190.76,226.78L182.69,218.72Z"/>
<path fill="#1dcd72" d="M390.53,158.19L398.61,154.02L392.2,148.18L384.12,152.03Z"/>
<path fill="#0bc892" d="M353.47,167.34L361.55,157.83L355.14,151.05L347.06,161.39Z"/>
<path fill="#493feb" d="M238.97,270.04L247.05,273.58L240.64,272.43L232.56,268.93Z"/>
<path fill="#2593ef" d="M314.75,218.95L322.83,203.77L316.42,201.89L308.34,218.81Z"/>
<path fill="#4654f5" d="M224.48,262.65L232.56,268.93L226.15,265.01L218.07,258.8Z"/>
<path fill="#f9d927" d="M82.94,108.91L91.02,114.33L84.61,105.44L76.53,100.07Z"/>
<path fill="#493fea" d="M276.02,265.24L284.1,258.42L277.69,261.04L269.61,268.64Z"/>
<path fill="#71d046" d="M464.64,138.53L472.72,131.7L466.31,132.89L458.23,139.32Z"/>
<path fill="#08bfb6" d="M153.71,183.94L161.79,191.22L155.38,181.23L147.3,174.76Z"/>
<path fill="#94cd38" d="M118.32,145.16L126.4,150.73L119.99,141.91L111.91,136.72Z"/>
<path fill="#17cd77" d="M405.02,158.9L413.09,154.97L406.69,150.62L398.61,154.02Z"/>
<path fill="#29cf69" d="M442.07,150.56L450.15,145.18L443.74,144.68L435.66,149.49Z"/>
<path fill="#493ae4" d="M253.46,271.96L261.54,272.21L255.13,273.66L247.05,273.58Z"/>
<path fill="#307ef9" d="M306.67,232.98L314.75,218.95L308.34,218.81L300.26,234.55Z"/>
<path fill="#e9c124" d="M487.2,122.19L495.28,113.99L488.87,116.36L480.8,124.31Z"/>
<path fill="#3971fb" d="M209.99,250.6L218.07,258.8L211.66,252.45L203.58,244.47Z"/>
<path fill="#0ecb83" d="M367.96,164.23L376.04,157.3L369.63,150.45L361.55,157.83Z"/>
<path fill="#08bfb7" d="M345.39,178.75L353.47,167.34L347.06,161.39L338.98,174.06Z"/>
<path fill="#13a8df" d="M174.61,210L182.69,218.72L176.28,208.79L168.2,200.91Z"/>
<path fill="#15cd78" d="M419.5,158.25L427.58,153.94L421.17,151.26L413.09,154.97Z"/>
<path fill="#3f6afc" d="M298.59,244.92L306.67,232.98L300.26,234.55L292.18,248.02Z"/>
<path fill="#f0be29" d="M103.84,131.3L111.91,136.72L105.5,128.14L97.43,122.93Z"/>
<path fill="#0ecb84" d="M139.22,168.16L147.3,174.76L140.89,165.44L132.81,159.5Z"/>
<path fill="#0fcc7e" d="M382.45,163.42L390.53,158.19L384.12,152.03L376.04,157.3Z"/>
<path fill="#0ab3d2" d="M337.32,191.55L345.39,178.75L338.98,174.06L330.91,188.47Z"/>
<path fill="#493de8" d="M267.94,268.34L276.02,265.24L269.61,268.64L261.54,272.21Z"/>
<path fill="#298cf2" d="M195.5,235.23L203.58,244.47L197.17,236.41L189.09,227.64Z"/>
<path fill="#4dd056" d="M456.56,144.84L464.64,138.53L458.23,139.32L450.15,145.18Z"/>
<path fill="#c4c727" d="M479.13,129.87L487.2,122.19L480.8,124.31L472.72,131.7Z"/>
<path fill="#fcc830" d="M89.35,117.43L97.43,122.93L91.02,114.33L82.94,108.91Z"/>
<path fill="#1dcd72" d="M433.99,155.57L442.07,150.56L435.66,149.49L427.58,153.94Z"/>
<path fill="#4556f6" d="M290.51,254.06L298.59,244.92L292.18,248.02L284.1,258.42Z"/>
<path fill="#0ac69e" d="M359.88,172.84L367.96,164.23L361.55,157.83L353.47,167.34Z"/>
<path fill="#0fcc7f" d="M396.94,163.33L405.02,158.9L398.61,154.02L390.53,158.19Z"/>
<path fill="#09b9c7" d="M160.12,192.78L168.2,200.91L161.79,191.22L153.71,183.94Z"/>
<path fill="#16a5e2" d="M329.24,205L337.32,191.55L330.91,188.47L322.83,203.77Z"/>
<path fill="#5bd050" d="M124.73,153.44L132.81,159.5L126.4,150.73L118.32,145.16Z"/>
<path fill="#fbbf32" d="M501.69,111.09L509.77,102.18L503.36,105.26L495.28,113.99Z"/>
<path fill="#4651f4" d="M230.89,263.89L238.97,270.04L232.56,268.93L224.48,262.65Z"/>
<path fill="#0fcc80" d="M411.43,162.61L419.5,158.25L413.09,154.97L405.02,158.9Z"/>
<path fill="#4a42ed" d="M245.38,268.46L253.46,271.96L247.05,273.58L238.97,270.04Z"/>
<path fill="#2396ed" d="M321.16,218.24L329.24,205L322.83,203.77L314.75,218.95Z"/>
<path fill="#19a1e5" d="M181.02,218.21L189.09,227.64L182.69,218.72L174.61,210Z"/>
<path fill="#3e6bfc" d="M216.4,254.54L224.48,262.65L218.07,258.8L209.99,250.6Z"/>
<path fill="#0cc891" d="M374.37,169.88L382.45,163.42L376.04,157.3L367.96,164.23Z"/>
<path fill="#d8c423" d="M110.24,139.42L118.32,145.16L111.91,136.72L103.84,131.3Z"/>
<path fill="#08bdbd" d="M351.8,182.93L359.88,172.84L353.47,167.34L345.39,178.75Z"/>
<path fill="#30cf63" d="M448.48,150.67L456.56,144.84L450.15,145.18L442.07,150.56Z"/>
<path fill="#0ac79a" d="M145.63,176.6L153.71,183.94L147.3,174.76L139.22,168.16Z"/>
<path fill="#94cd38" d="M471.05,137.02L479.13,129.87L472.72,131.7L464.64,138.53Z"/>
<path fill="#484af2" d="M282.43,259.98L290.51,254.06L284.1,258.42L276.02,265.24Z"/>
<path fill="#2d85f6" d="M313.08,230.4L321.16,218.24L314.75,218.95L306.67,232.98Z"/>
<path fill="#4a40eb" d="M259.87,267.92L267.94,268.34L261.54,272.21L253.46,271.96Z"/>
<path fill="#12cc7b" d="M425.91,160.35L433.99,155.57L427.58,153.94L419.5,158.25Z"/>
<path fill="#0dc98b" d="M388.86,168.48L396.94,163.33L390.53,158.19L382.45,163.42Z"/>
<path fill="#f5bd2d" d="M493.61,119.5L501.69,111.09L495.28,113.99L487.2,122.19Z"/>
<path fill="#2d84f6" d="M201.91,241.24L209.99,250.6L203.58,244.47L195.5,235.23Z"/>
<path fill="#fbbf32" d="M95.76,125.63L103.84,131.3L97.43,122.93L89.35,117.43Z"/>
<path fill="#0bb3d3" d="M166.53,201.06L174.61,210L168.2,200.91L160.12,192.78Z"/>
<path fill="#0bb3d3" d="M343.72,194.04L351.8,182.93L345.39,178.75L337.32,191.55Z"/>
<path fill="#2ccf66" d="M131.14,161.53L139.22,168.16L132.81,159.5L124.73,153.44Z"/>
<path fill="#3774fb" d="M305,240.67L313.08,230.4L306.67,232.98L298.59,244.92Z"/>
<path fill="#09c3a8" d="M366.29,177.58L374.37,169.88L367.96,164.23L359.88,172.84Z"/>
<path fill="#0dca89" d="M403.35,167.25L411.43,162.61L405.02,158.9L396.94,163.33Z"/>
<path fill="#68d04a" d="M462.97,143.68L471.05,137.02L464.64,138.53L456.56,144.84Z"/>
<path fill="#22ce6e" d="M440.4,156.13L448.48,150.67L442.07,150.56L433.99,155.57Z"/>
<path fill="#1f9aea" d="M187.43,225.35L195.5,235.23L189.09,227.64L181.02,218.21Z"/>
<path fill="#14a6e1" d="M335.65,205.59L343.72,194.04L337.32,191.55L329.24,205Z"/>
<path fill="#4948f1" d="M274.35,262.56L282.43,259.98L276.02,265.24L267.94,268.34Z"/>
<path fill="#e6c222" d="M485.54,127.41L493.61,119.5L487.2,122.19L479.13,129.87Z"/>
<path fill="#a9cb2f" d="M116.65,147.32L124.73,153.44L118.32,145.16L110.24,139.42Z"/>
<path fill="#09c2ad" d="M152.04,184.67L160.12,192.78L153.71,183.94L145.63,176.6Z"/>
<path fill="#0ac69b" d="M380.78,174.49L388.86,168.48L382.45,163.42L374.37,169.88Z"/>
<path fill="#0ecb83" d="M417.83,165.07L425.91,160.35L419.5,158.25L411.43,162.61Z"/>
<path fill="#4067fc" d="M296.92,248.47L305,240.67L298.59,244.92L290.51,254.06Z"/>
<path fill="#4554f5" d="M237.3,262.57L245.38,268.46L238.97,270.04L230.89,263.89Z"/>
<path fill="#08bcc1" d="M358.21,186.36L366.29,177.58L359.88,172.84L351.8,182.93Z"/>
<path fill="#3f69fc" d="M222.81,256.12L230.89,263.89L224.48,262.65L216.4,254.54Z"/>
<path fill="#2099ea" d="M327.57,216.84L335.65,205.59L329.24,205L321.16,218.24Z"/>
<path fill="#fcc830" d="M508.1,107.67L516.18,98.59L509.77,102.18L501.69,111.09Z"/>
<path fill="#f6bd2d" d="M102.17,133.53L110.24,139.42L103.84,131.3L95.76,125.63Z"/>
<path fill="#484af2" d="M251.79,264.53L259.87,267.92L253.46,271.96L245.38,268.46Z"/>
<path fill="#0eaddb" d="M172.94,208.58L181.02,218.21L174.61,210L166.53,201.06Z"/>
<path fill="#2f7ff9" d="M208.32,245.45L216.4,254.54L209.99,250.6L201.91,241.24Z"/>
<path fill="#0bc894" d="M395.27,172.31L403.35,167.25L396.94,163.33L388.86,168.48Z"/>
<path fill="#13cc7a" d="M137.55,169.34L145.63,176.6L139.22,168.16L131.14,161.53Z"/>
<path fill="#44d059" d="M454.89,149.88L462.97,143.68L456.56,144.84L448.48,150.67Z"/>
<path fill="#bec828" d="M477.46,134.83L485.54,127.41L479.13,129.87L471.05,137.02Z"/>
<path fill="#15cd79" d="M432.32,161.3L440.4,156.13L433.99,155.57L425.91,160.35Z"/>
<path fill="#298df2" d="M319.49,227.09L327.57,216.84L321.16,218.24L313.08,230.4Z"/>
<path fill="#0bb3d3" d="M350.13,195.84L358.21,186.36L351.8,182.93L343.72,194.04Z"/>
<path fill="#09c1af" d="M372.7,181.34L380.78,174.49L374.37,169.88L366.29,177.58Z"/>
<path fill="#435df9" d="M288.84,253.44L296.92,248.47L290.51,254.06L282.43,259.98Z"/>
<path fill="#fbbe32" d="M500.02,116.26L508.1,107.67L501.69,111.09L493.61,119.5Z"/>
<path fill="#2395ed" d="M193.83,231.3L201.91,241.24L195.5,235.23L187.43,225.35Z"/>
<path fill="#0cc98d" d="M409.76,169.86L417.83,165.07L411.43,162.61L403.35,167.25Z"/>
<path fill="#474df3" d="M266.28,262L274.35,262.56L267.94,268.34L259.87,267.92Z"/>
<path fill="#72d046" d="M123.06,154.94L131.14,161.53L124.73,153.44L116.65,147.32Z"/>
<path fill="#08bdbf" d="M158.45,192.2L166.53,201.06L160.12,192.78L152.04,184.67Z"/>
<path fill="#2f80f8" d="M311.41,235.69L319.49,227.09L313.08,230.4L305,240.67Z"/>
<path fill="#12a9df" d="M342.06,205.55L350.13,195.84L343.72,194.04L335.65,205.59Z"/>
<path fill="#0ac4a2" d="M387.19,177.9L395.27,172.31L388.86,168.48L380.78,174.49Z"/>
<path fill="#2bcf67" d="M446.81,155.68L454.89,149.88L448.48,150.67L440.4,156.13Z"/>
<path fill="#8ece3a" d="M469.38,141.76L477.46,134.83L471.05,137.02L462.97,143.68Z"/>
<path fill="#e7c123" d="M108.57,141.12L116.65,147.32L110.24,139.42L102.17,133.53Z"/>
<path fill="#08bbc3" d="M364.62,188.91L372.7,181.34L366.29,177.58L358.21,186.36Z"/>
<path fill="#0ecb83" d="M424.24,166.28L432.32,161.3L425.91,160.35L417.83,165.07Z"/>
<path fill="#13a8e0" d="M179.35,215.28L187.43,225.35L181.02,218.21L172.94,208.58Z"/>
<path fill="#0cc98d" d="M143.96,176.75L152.04,184.67L145.63,176.6L137.55,169.34Z"/>
<path fill="#f4bd2c" d="M491.94,124.37L500.02,116.26L493.61,119.5L485.54,127.41Z"/>
<path fill="#3e6bfc" d="M229.22,255.27L237.3,262.57L230.89,263.89L222.81,256.12Z"/>
<path fill="#435cf8" d="M280.76,255.5L288.84,253.44L282.43,259.98L274.35,262.56Z"/>
<path fill="#317dfa" d="M214.73,247.6L222.81,256.12L216.4,254.54L208.32,245.45Z"/>
<path fill="#0ac799" d="M401.68,174.84L409.76,169.86L403.35,167.25L395.27,172.31Z"/>
<path fill="#1c9ee7" d="M333.98,214.91L342.06,205.55L335.65,205.59L327.57,216.84Z"/>
<path fill="#435ef9" d="M243.71,258.96L251.79,264.53L245.38,268.46L237.3,262.57Z"/>
<path fill="#3676fb" d="M303.33,242.15L311.41,235.69L305,240.67L296.92,248.47Z"/>
<path fill="#f9d927" d="M514.51,103.74L522.59,94.51L516.18,98.59L508.1,107.67Z"/>
<path fill="#43d05a" d="M129.47,162.23L137.55,169.34L131.14,161.53L123.06,154.94Z"/>
<path fill="#09c0b2" d="M379.11,184.01L387.19,177.9L380.78,174.49L372.7,181.34Z"/>
<path fill="#09b8c9" d="M164.86,199.08L172.94,208.58L166.53,201.06L158.45,192.2Z"/>
<path fill="#64d04c" d="M461.3,148.24L469.38,141.76L462.97,143.68L454.89,149.88Z"/>
<path fill="#0ab4d1" d="M356.54,196.9L364.62,188.91L358.21,186.36L350.13,195.84Z"/>
<path fill="#1dcd73" d="M438.73,161.14L446.81,155.68L440.4,156.13L432.32,161.3Z"/>
<path fill="#2691f0" d="M200.24,235.89L208.32,245.45L201.91,241.24L193.83,231.3Z"/>
<path fill="#445af8" d="M258.2,258.77L266.28,262L259.87,267.92L251.79,264.53Z"/>
<path fill="#e5c221" d="M483.87,131.99L491.94,124.37L485.54,127.41L477.46,134.83Z"/>
<path fill="#0cc98d" d="M416.17,171.19L424.24,166.28L417.83,165.07L409.76,169.86Z"/>
<path fill="#2495ee" d="M325.9,223.35L333.98,214.91L327.57,216.84L319.49,227.09Z"/>
<path fill="#c4c727" d="M114.98,148.38L123.06,154.94L116.65,147.32L108.57,141.12Z"/>
<path fill="#fcc730" d="M506.43,112.49L514.51,103.74L508.1,107.67L500.02,116.26Z"/>
<path fill="#09c4a5" d="M393.6,180.07L401.68,174.84L395.27,172.31L387.19,177.9Z"/>
<path fill="#0ac69e" d="M150.37,183.63L158.45,192.2L152.04,184.67L143.96,176.75Z"/>
<path fill="#17a3e4" d="M185.76,221.12L193.83,231.3L187.43,225.35L179.35,215.28Z"/>
<path fill="#3a71fb" d="M295.25,246.19L303.33,242.15L296.92,248.47L288.84,253.44Z"/>
<path fill="#0facdc" d="M348.46,204.94L356.54,196.9L350.13,195.84L342.06,205.55Z"/>
<path fill="#08bbc3" d="M371.03,190.51L379.11,184.01L372.7,181.34L364.62,188.91Z"/>
<path fill="#4262fa" d="M272.68,254.82L280.76,255.5L274.35,262.56L266.28,262Z"/>
<path fill="#41d05b" d="M453.22,154.3L461.3,148.24L454.89,149.88L446.81,155.68Z"/>
<path fill="#0fcc7e" d="M430.65,166.33L438.73,161.14L432.32,161.3L424.24,166.28Z"/>
<path fill="#bdc928" d="M475.79,139.14L483.87,131.99L477.46,134.83L469.38,141.76Z"/>
<path fill="#298cf3" d="M317.82,230.37L325.9,223.35L319.49,227.09L311.41,235.69Z"/>
<path fill="#25ce6c" d="M135.88,169.09L143.96,176.75L137.55,169.34L129.47,162.23Z"/>
<path fill="#0ac798" d="M408.09,176.1L416.17,171.19L409.76,169.86L401.68,174.84Z"/>
<path fill="#0ab4d1" d="M171.27,205.27L179.35,215.28L172.94,208.58L164.86,199.08Z"/>
<path fill="#307dfa" d="M221.14,247.43L229.22,255.27L222.81,256.12L214.73,247.6Z"/>
<path fill="#fbbe32" d="M498.35,120.76L506.43,112.49L500.02,116.26L491.94,124.37Z"/>
<path fill="#3971fb" d="M235.63,252.15L243.71,258.96L237.3,262.57L229.22,255.27Z"/>
<path fill="#17a3e3" d="M340.39,212.59L348.46,204.94L342.06,205.55L333.98,214.91Z"/>
<path fill="#09c0b2" d="M385.52,185.55L393.6,180.07L387.19,177.9L379.11,184.01Z"/>
<path fill="#288ef1" d="M206.65,238.74L214.73,247.6L208.32,245.45L200.24,235.89Z"/>
<path fill="#0ab5ce" d="M362.95,197.21L371.03,190.51L364.62,188.91L356.54,196.9Z"/>
<path fill="#96cd37" d="M121.39,155.26L129.47,162.23L123.06,154.94L114.98,148.38Z"/>
<path fill="#3d6cfc" d="M250.12,253.57L258.2,258.77L251.79,264.53L243.71,258.96Z"/>
<path fill="#3a71fb" d="M287.17,247.76L295.25,246.19L288.84,253.44L280.76,255.5Z"/>
<path fill="#2acf68" d="M445.14,159.98L453.22,154.3L446.81,155.68L438.73,161.14Z"/>
<path fill="#8fce3a" d="M467.71,145.84L475.79,139.14L469.38,141.76L461.3,148.24Z"/>
<path fill="#09c2ac" d="M156.78,189.91L164.86,199.08L158.45,192.2L150.37,183.63Z"/>
<path fill="#2d85f6" d="M309.74,235.58L317.82,230.37L311.41,235.69L303.33,242.15Z"/>
<path fill="#f6f01a" d="M520.92,99.3L529,89.93L522.59,94.51L514.51,103.74Z"/>
<path fill="#0dca88" d="M422.57,171.33L430.65,166.33L424.24,166.28L416.17,171.19Z"/>
<path fill="#1b9fe6" d="M192.17,225.98L200.24,235.89L193.83,231.3L185.76,221.12Z"/>
<path fill="#f4bd2c" d="M490.28,128.56L498.35,120.76L491.94,124.37L483.87,131.99Z"/>
<path fill="#0ac4a3" d="M400.01,181.04L408.09,176.1L401.68,174.84L393.6,180.07Z"/>
<path fill="#1d9ce9" d="M332.31,219.41L340.39,212.59L333.98,214.91L325.9,223.35Z"/>
<path fill="#3c6dfc" d="M264.61,251.8L272.68,254.82L266.28,262L258.2,258.77Z"/>
<path fill="#11cc7b" d="M142.29,175.44L150.37,183.63L143.96,176.75L135.88,169.09Z"/>
<path fill="#08bcc1" d="M377.44,191.18L385.52,185.55L379.11,184.01L371.03,190.51Z"/>
<path fill="#0cafd9" d="M354.87,203.82L362.95,197.21L356.54,196.9L348.46,204.94Z"/>
<path fill="#0bb1d8" d="M177.68,210.83L185.76,221.12L179.35,215.28L171.27,205.27Z"/>
<path fill="#f9d927" d="M512.84,108.2L520.92,99.3L514.51,103.74L506.43,112.49Z"/>
<path fill="#66d04b" d="M459.63,152.1L467.71,145.84L461.3,148.24L453.22,154.3Z"/>
<path fill="#1bcd74" d="M437.06,165.34L445.14,159.98L438.73,161.14L430.65,166.33Z"/>
<path fill="#2e82f8" d="M301.66,238.77L309.74,235.58L303.33,242.15L295.25,246.19Z"/>
<path fill="#0bc893" d="M414.5,176.18L422.57,171.33L416.17,171.19L408.09,176.1Z"/>
<path fill="#e6c222" d="M482.2,135.88L490.28,128.56L483.87,131.99L475.79,139.14Z"/>
<path fill="#6bd049" d="M127.8,161.7L135.88,169.09L129.47,162.23L121.39,155.26Z"/>
<path fill="#3675fb" d="M279.09,247.01L287.17,247.76L280.76,255.5L272.68,254.82Z"/>
<path fill="#2296ed" d="M324.23,225.02L332.31,219.41L325.9,223.35L317.82,230.37Z"/>
<path fill="#2e82f8" d="M227.55,244.9L235.63,252.15L229.22,255.27L221.14,247.43Z"/>
<path fill="#288ef1" d="M213.06,239.36L221.14,247.43L214.73,247.6L206.65,238.74Z"/>
<path fill="#09c1af" d="M391.93,186.02L400.01,181.04L393.6,180.07L385.52,185.55Z"/>
<path fill="#08beb9" d="M163.19,195.57L171.27,205.27L164.86,199.08L156.78,189.91Z"/>
<path fill="#12a9df" d="M346.79,210.01L354.87,203.82L348.46,204.94L340.39,212.59Z"/>
<path fill="#fcc730" d="M504.76,116.62L512.84,108.2L506.43,112.49L498.35,120.76Z"/>
<path fill="#09b8ca" d="M369.36,196.82L377.44,191.18L371.03,190.51L362.95,197.21Z"/>
<path fill="#327bfa" d="M242.04,247.21L250.12,253.57L243.71,258.96L235.63,252.15Z"/>
<path fill="#1d9de8" d="M198.57,229.43L206.65,238.74L200.24,235.89L192.17,225.98Z"/>
<path fill="#44d05a" d="M451.55,157.96L459.63,152.1L453.22,154.3L445.14,159.98Z"/>
<path fill="#0fcc7f" d="M428.98,170.41L437.06,165.34L430.65,166.33L422.57,171.33Z"/>
<path fill="#0dca89" d="M148.7,181.19L156.78,189.91L150.37,183.63L142.29,175.44Z"/>
<path fill="#c2c827" d="M474.12,142.75L482.2,135.88L475.79,139.14L467.71,145.84Z"/>
<path fill="#337afa" d="M256.53,247.01L264.61,251.8L258.2,258.77L250.12,253.57Z"/>
<path fill="#0ac69e" d="M406.42,180.91L414.5,176.18L408.09,176.1L400.01,181.04Z"/>
<path fill="#0eaddb" d="M184.09,215.68L192.17,225.98L185.76,221.12L177.68,210.83Z"/>
<path fill="#2592ef" d="M316.15,229.13L324.23,225.02L317.82,230.37L309.74,235.58Z"/>
<path fill="#2e82f7" d="M293.58,239.91L301.66,238.77L295.25,246.19L287.17,247.76Z"/>
<path fill="#fbbf32" d="M496.68,124.57L504.76,116.62L498.35,120.76L490.28,128.56Z"/>
<path fill="#08bebb" d="M383.85,190.96L391.93,186.02L385.52,185.55L377.44,191.18Z"/>
<path fill="#17a3e3" d="M338.72,215.46L346.79,210.01L340.39,212.59L332.31,219.41Z"/>
<path fill="#0bb3d2" d="M361.28,202.25L369.36,196.82L362.95,197.21L354.87,203.82Z"/>
<path fill="#47d058" d="M134.21,167.63L142.29,175.44L135.88,169.09L127.8,161.7Z"/>
<path fill="#307ef9" d="M271.02,244.25L279.09,247.01L272.68,254.82L264.61,251.8Z"/>
<path fill="#08bcc1" d="M169.6,200.67L177.68,210.83L171.27,205.27L163.19,195.57Z"/>
<path fill="#2ccf67" d="M443.47,163.44L451.55,157.96L445.14,159.98L437.06,165.34Z"/>
<path fill="#97cd36" d="M466.04,149.17L474.12,142.75L467.71,145.84L459.63,152.1Z"/>
<path fill="#0dca8a" d="M420.91,175.22L428.98,170.41L422.57,171.33L414.5,176.18Z"/>
<path fill="#09c3a8" d="M398.34,185.51L406.42,180.91L400.01,181.04L391.93,186.02Z"/>
<path fill="#f6bd2d" d="M488.61,132.04L496.68,124.57L490.28,128.56L482.2,135.88Z"/>
<path fill="#2691f0" d="M219.47,237.49L227.55,244.9L221.14,247.43L213.06,239.36Z"/>
<path fill="#1e9ce9" d="M204.98,230.78L213.06,239.36L206.65,238.74L198.57,229.43Z"/>
<path fill="#2691f0" d="M308.07,231.59L316.15,229.13L309.74,235.58L301.66,238.77Z"/>
<path fill="#08bac4" d="M375.77,195.76L383.85,190.96L377.44,191.18L369.36,196.82Z"/>
<path fill="#0bc894" d="M155.11,186.34L163.19,195.57L156.78,189.91L148.7,181.19Z"/>
<path fill="#1b9fe6" d="M330.64,219.87L338.72,215.46L332.31,219.41L324.23,225.02Z"/>
<path fill="#2a8af4" d="M233.96,240.41L242.04,247.21L235.63,252.15L227.55,244.9Z"/>
<path fill="#0cafda" d="M353.2,207.25L361.28,202.25L354.87,203.82L346.79,210.01Z"/>
<path fill="#2c86f5" d="M285.5,239.12L293.58,239.91L287.17,247.76L279.09,247.01Z"/>
<path fill="#10abdd" d="M190.5,219.38L198.57,229.43L192.17,225.98L184.09,215.68Z"/>
<path fill="#2b87f5" d="M248.45,241.12L256.53,247.01L250.12,253.57L242.04,247.21Z"/>
<path fill="#1dcd72" d="M435.39,168.56L443.47,163.44L437.06,165.34L428.98,170.41Z"/>
<path fill="#6fd047" d="M457.96,155.16L466.04,149.17L459.63,152.1L451.55,157.96Z"/>
<path fill="#2ecf65" d="M140.62,172.96L148.7,181.19L142.29,175.44L134.21,167.63Z"/>
<path fill="#0bc894" d="M412.83,179.8L420.91,175.22L414.5,176.18L406.42,180.91Z"/>
<path fill="#e9c124" d="M480.53,139.05L488.61,132.04L482.2,135.88L474.12,142.75Z"/>
<path fill="#09c0b1" d="M390.26,189.93L398.34,185.51L391.93,186.02L383.85,190.96Z"/>
<path fill="#09b9c6" d="M176.01,205.16L184.09,215.68L177.68,210.83L169.6,200.67Z"/>
<path fill="#2b88f4" d="M262.94,239.92L271.02,244.25L264.61,251.8L256.53,247.01Z"/>
<path fill="#09b7ca" d="M367.69,200.28L375.77,195.76L369.36,196.82L361.28,202.25Z"/>
<path fill="#10abdd" d="M345.13,211.58L353.2,207.25L346.79,210.01L338.72,215.46Z"/>
<path fill="#1d9de8" d="M322.56,223.06L330.64,219.87L324.23,225.02L316.15,229.13Z"/>
<path fill="#2692ef" d="M299.99,232.36L308.07,231.59L301.66,238.77L293.58,239.91Z"/>
<path fill="#4fd055" d="M449.88,160.74L457.96,155.16L451.55,157.96L443.47,163.44Z"/>
<path fill="#0ac69d" d="M161.52,190.91L169.6,200.67L163.19,195.57L155.11,186.34Z"/>
<path fill="#10cc7d" d="M427.31,173.36L435.39,168.56L428.98,170.41L420.91,175.22Z"/>
<path fill="#ccc625" d="M472.45,145.6L480.53,139.05L474.12,142.75L466.04,149.17Z"/>
<path fill="#0ac69d" d="M404.75,184.12L412.83,179.8L406.42,180.91L398.34,185.51Z"/>
<path fill="#288ef2" d="M277.42,236.63L285.5,239.12L279.09,247.01L271.02,244.25Z"/>
<path fill="#1c9de8" d="M211.39,229.57L219.47,237.49L213.06,239.36L204.98,230.78Z"/>
<path fill="#08bebb" d="M382.18,194.11L390.26,189.93L383.85,190.96L375.77,195.76Z"/>
<path fill="#2296ec" d="M225.88,233.43L233.96,240.41L227.55,244.9L219.47,237.49Z"/>
<path fill="#11aade" d="M196.91,221.22L204.98,230.78L198.57,229.43L190.5,219.38Z"/>
<path fill="#21ce6f" d="M147.03,177.69L155.11,186.34L148.7,181.19L140.62,172.96Z"/>
<path fill="#0ab4d0" d="M359.61,204.35L367.69,200.28L361.28,202.25L353.2,207.25Z"/>
<path fill="#13a8df" d="M337.05,215.03L345.13,211.58L338.72,215.46L330.64,219.87Z"/>
<path fill="#2494ee" d="M240.37,234.71L248.45,241.12L242.04,247.21L233.96,240.41Z"/>
<path fill="#1d9ce8" d="M314.48,224.9L322.56,223.06L316.15,229.13L308.07,231.59Z"/>
<path fill="#09b8c9" d="M182.42,208.71L190.5,219.38L184.09,215.68L176.01,205.16Z"/>
<path fill="#32d062" d="M441.8,165.93L449.88,160.74L443.47,163.44L435.39,168.56Z"/>
<path fill="#a8cb2f" d="M464.37,151.7L472.45,145.6L466.04,149.17L457.96,155.16Z"/>
<path fill="#0eca86" d="M419.24,177.83L427.31,173.36L420.91,175.22L412.83,179.8Z"/>
<path fill="#2395ed" d="M291.91,231.55L299.99,232.36L293.58,239.91L285.5,239.12Z"/>
<path fill="#2494ee" d="M254.86,234.55L262.94,239.92L256.53,247.01L248.45,241.12Z"/>
<path fill="#09c4a5" d="M396.67,188.18L404.75,184.12L398.34,185.51L390.26,189.93Z"/>
<path fill="#08bcc2" d="M374.1,197.94L382.18,194.11L375.77,195.76L367.69,200.28Z"/>
<path fill="#09c4a4" d="M167.93,194.88L176.01,205.16L169.6,200.67L161.52,190.91Z"/>
<path fill="#0bb2d5" d="M351.53,207.81L359.61,204.35L353.2,207.25L345.13,211.58Z"/>
<path fill="#14a7e0" d="M328.97,217.48L337.05,215.03L330.64,219.87L322.56,223.06Z"/>
<path fill="#2396ed" d="M269.35,232.8L277.42,236.63L271.02,244.25L262.94,239.92Z"/>
<path fill="#25ce6c" d="M433.72,170.72L441.8,165.93L435.39,168.56L427.31,173.36Z"/>
<path fill="#81cf3f" d="M456.29,157.37L464.37,151.7L457.96,155.16L449.88,160.74Z"/>
<path fill="#17cd77" d="M153.44,181.8L161.52,190.91L155.11,186.34L147.03,177.69Z"/>
<path fill="#1c9ee8" d="M306.4,225.38L314.48,224.9L308.07,231.59L299.99,232.36Z"/>
<path fill="#0cc98f" d="M411.16,181.98L419.24,177.83L412.83,179.8L404.75,184.12Z"/>
<path fill="#10aadd" d="M203.31,220.62L211.39,229.57L204.98,230.78L196.91,221.22Z"/>
<path fill="#19a2e5" d="M217.8,226.02L225.88,233.43L219.47,237.49L211.39,229.57Z"/>
<path fill="#09c2ad" d="M388.59,191.9L396.67,188.18L390.26,189.93L382.18,194.11Z"/>
<path fill="#09bac6" d="M366.02,201.31L374.1,197.94L367.69,200.28L359.61,204.35Z"/>
<path fill="#1f9aea" d="M283.83,229.35L291.91,231.55L285.5,239.12L277.42,236.63Z"/>
<path fill="#09b7cb" d="M188.83,210.69L196.91,221.22L190.5,219.38L182.42,208.71Z"/>
<path fill="#1c9ee7" d="M232.29,228.05L240.37,234.71L233.96,240.41L225.88,233.43Z"/>
<path fill="#0bb1d7" d="M343.46,210.52L351.53,207.81L345.13,211.58L337.05,215.03Z"/>
<path fill="#62d04d" d="M448.21,162.61L456.29,157.37L449.88,160.74L441.8,165.93Z"/>
<path fill="#1c9de8" d="M246.78,228.59L254.86,234.55L248.45,241.12L240.37,234.71Z"/>
<path fill="#14a7e0" d="M320.89,218.83L328.97,217.48L322.56,223.06L314.48,224.9Z"/>
<path fill="#19cd75" d="M425.65,175.14L433.72,170.72L427.31,173.36L419.24,177.83Z"/>
<path fill="#09c3a8" d="M174.34,198.02L182.42,208.71L176.01,205.16L167.93,194.88Z"/>
<path fill="#0bc796" d="M403.08,185.78L411.16,181.98L404.75,184.12L396.67,188.18Z"/>
<path fill="#19a1e5" d="M298.32,224.57L306.4,225.38L299.99,232.36L291.91,231.55Z"/>
<path fill="#08c0b3" d="M380.51,195.24L388.59,191.9L382.18,194.11L374.1,197.94Z"/>
<path fill="#1c9ee7" d="M261.27,228.01L269.35,232.8L262.94,239.92L254.86,234.55Z"/>
<path fill="#10cc7c" d="M159.85,185.28L167.93,194.88L161.52,190.91L153.44,181.8Z"/>
<path fill="#09b8c8" d="M357.94,204.13L366.02,201.31L359.61,204.35L351.53,207.81Z"/>
<path fill="#0bb0d8" d="M335.38,212.39L343.46,210.52L337.05,215.03L328.97,217.48Z"/>
<path fill="#48d058" d="M440.13,167.42L448.21,162.61L441.8,165.93L433.72,170.72Z"/>
<path fill="#0fcc7d" d="M417.57,179.17L425.65,175.14L419.24,177.83L411.16,181.98Z"/>
<path fill="#19a1e5" d="M275.76,226L283.83,229.35L277.42,236.63L269.35,232.8Z"/>
<path fill="#0daeda" d="M209.72,217.74L217.8,226.02L211.39,229.57L203.31,220.62Z"/>
<path fill="#0ac69c" d="M395,189.2L403.08,185.78L396.67,188.18L388.59,191.9Z"/>
<path fill="#12a9df" d="M312.81,219.08L320.89,218.83L314.48,224.9L306.4,225.38Z"/>
<path fill="#09b7ca" d="M195.24,210.62L203.31,220.62L196.91,221.22L188.83,210.69Z"/>
<path fill="#12a9df" d="M224.21,221.06L232.29,228.05L225.88,233.43L217.8,226.02Z"/>
<path fill="#08bfb7" d="M372.43,198.13L380.51,195.24L374.1,197.94L366.02,201.31Z"/>
<path fill="#09c2aa" d="M180.75,199.92L188.83,210.69L182.42,208.71L174.34,198.02Z"/>
<path fill="#14a7e0" d="M238.7,222.31L246.78,228.59L240.37,234.71L232.29,228.05Z"/>
<path fill="#09b7ca" d="M349.87,206.29L357.94,204.13L351.53,207.81L343.46,210.52Z"/>
<path fill="#15a6e1" d="M290.24,222.62L298.32,224.57L291.91,231.55L283.83,229.35Z"/>
<path fill="#32d062" d="M432.05,171.82L440.13,167.42L433.72,170.72L425.65,175.14Z"/>
<path fill="#0fcc7f" d="M166.26,188.01L174.34,198.02L167.93,194.88L159.85,185.28Z"/>
<path fill="#0ecb84" d="M409.49,182.81L417.57,179.17L411.16,181.98L403.08,185.78Z"/>
<path fill="#0bb1d7" d="M327.3,213.37L335.38,212.39L328.97,217.48L320.89,218.83Z"/>
<path fill="#13a7e0" d="M253.19,222.6L261.27,228.01L254.86,234.55L246.78,228.59Z"/>
<path fill="#0ac5a1" d="M386.92,192.21L395,189.2L388.59,191.9L380.51,195.24Z"/>
<path fill="#0facdc" d="M304.73,218.28L312.81,219.08L306.4,225.38L298.32,224.57Z"/>
<path fill="#08beba" d="M364.35,200.48L372.43,198.13L366.02,201.31L357.94,204.13Z"/>
<path fill="#12a9df" d="M267.68,221.8L275.76,226L269.35,232.8L261.27,228.01Z"/>
<path fill="#09b8ca" d="M341.79,207.74L349.87,206.29L343.46,210.52L335.38,212.39Z"/>
<path fill="#29cf69" d="M423.98,175.79L432.05,171.82L425.65,175.14L417.57,179.17Z"/>
<path fill="#08bac5" d="M201.65,208.57L209.72,217.74L203.31,220.62L195.24,210.62Z"/>
<path fill="#0dca89" d="M401.41,186.04L409.49,182.81L403.08,185.78L395,189.2Z"/>
<path fill="#0ab4d1" d="M216.13,213.47L224.21,221.06L217.8,226.02L209.72,217.74Z"/>
<path fill="#09c3a7" d="M187.16,200.24L195.24,210.62L188.83,210.69L180.75,199.92Z"/>
<path fill="#0facdc" d="M282.16,219.72L290.24,222.62L283.83,229.35L275.76,226Z"/>
<path fill="#0bb2d4" d="M319.22,213.45L327.3,213.37L320.89,218.83L312.81,219.08Z"/>
<path fill="#09c4a4" d="M378.84,194.75L386.92,192.21L380.51,195.24L372.43,198.13Z"/>
<path fill="#0bb1d6" d="M230.62,215.76L238.7,222.31L232.29,228.05L224.21,221.06Z"/>
<path fill="#0fcc7f" d="M172.67,189.77L180.75,199.92L174.34,198.02L166.26,188.01Z"/>
<path fill="#08bebb" d="M356.27,202.25L364.35,200.48L357.94,204.13L349.87,206.29Z"/>
<path fill="#0bb1d7" d="M245.11,216.82L253.19,222.6L246.78,228.59L238.7,222.31Z"/>
<path fill="#0bb0d8" d="M296.65,216.55L304.73,218.28L298.32,224.57L290.24,222.62Z"/>
<path fill="#21ce6f" d="M415.9,179.33L423.98,175.79L417.57,179.17L409.49,182.81Z"/>
<path fill="#09b8c8" d="M333.71,208.44L341.79,207.74L335.38,212.39L327.3,213.37Z"/>
<path fill="#0cc98d" d="M393.33,188.82L401.41,186.04L395,189.2L386.92,192.21Z"/>
<path fill="#0bb1d7" d="M259.6,217L267.68,221.8L261.27,228.01L253.19,222.6Z"/>
<path fill="#09c4a5" d="M370.76,196.79L378.84,194.75L372.43,198.13L364.35,200.48Z"/>
<path fill="#0ab5cf" d="M311.14,212.67L319.22,213.45L312.81,219.08L304.73,218.28Z"/>
<path fill="#0bb2d4" d="M274.09,216.06L282.16,219.72L275.76,226L267.68,221.8Z"/>
<path fill="#08beb9" d="M348.2,203.4L356.27,202.25L349.87,206.29L341.79,207.74Z"/>
<path fill="#08beb9" d="M208.05,205.26L216.13,213.47L209.72,217.74L201.65,208.57Z"/>
<path fill="#0ac5a0" d="M193.57,199.04L201.65,208.57L195.24,210.62L187.16,200.24Z"/>
<path fill="#1bcd74" d="M407.82,182.43L415.9,179.33L409.49,182.81L401.41,186.04Z"/>
<path fill="#08bac4" d="M222.54,208.83L230.62,215.76L224.21,221.06L216.13,213.47Z"/>
<path fill="#10cc7c" d="M179.08,190.38L187.16,200.24L180.75,199.92L172.67,189.77Z"/>
<path fill="#0cc98f" d="M385.25,191.14L393.33,188.82L386.92,192.21L378.84,194.75Z"/>
<path fill="#0ab5cf" d="M288.57,214.01L296.65,216.55L290.24,222.62L282.16,219.72Z"/>
<path fill="#08bac4" d="M325.63,208.39L333.71,208.44L327.3,213.37L319.22,213.45Z"/>
<path fill="#09b9c7" d="M237.03,210.78L245.11,216.82L238.7,222.31L230.62,215.76Z"/>
<path fill="#09c4a4" d="M362.68,198.29L370.76,196.79L364.35,200.48L356.27,202.25Z"/>
<path fill="#09b8c8" d="M251.52,211.79L259.6,217L253.19,222.6L245.11,216.82Z"/>
<path fill="#09b9c7" d="M303.06,211.1L311.14,212.67L304.73,218.28L296.65,216.55Z"/>
<path fill="#08c0b5" d="M340.12,203.9L348.2,203.4L341.79,207.74L333.71,208.44Z"/>
<path fill="#17cd77" d="M399.74,185.08L407.82,182.43L401.41,186.04L393.33,188.82Z"/>
<path fill="#09b9c7" d="M266.01,211.84L274.09,216.06L267.68,221.8L259.6,217Z"/>
<path fill="#0cc98f" d="M377.17,192.97L385.25,191.14L378.84,194.75L370.76,196.79Z"/>
<path fill="#08bdbe" d="M317.55,207.62L325.63,208.39L319.22,213.45L311.14,212.67Z"/>
<path fill="#08bac4" d="M280.5,210.81L288.57,214.01L282.16,219.72L274.09,216.06Z"/>
<path fill="#0bc892" d="M199.98,196.8L208.05,205.26L201.65,208.57L193.57,199.04Z"/>
<path fill="#0ac5a2" d="M354.61,199.22L362.68,198.29L356.27,202.25L348.2,203.4Z"/>
<path fill="#1acd75" d="M185.49,189.89L193.57,199.04L187.16,200.24L179.08,190.38Z"/>
<path fill="#09c4a5" d="M214.46,201.56L222.54,208.83L216.13,213.47L208.05,205.26Z"/>
<path fill="#09c1af" d="M228.95,204.5L237.03,210.78L230.62,215.76L222.54,208.83Z"/>
<path fill="#16cd78" d="M391.66,187.26L399.74,185.08L393.33,188.82L385.25,191.14Z"/>
<path fill="#09c1ae" d="M332.04,203.75L340.12,203.9L333.71,208.44L325.63,208.39Z"/>
<path fill="#08bdbe" d="M294.98,208.85L303.06,211.1L296.65,216.55L288.57,214.01Z"/>
<path fill="#08c0b4" d="M243.44,206.32L251.52,211.79L245.11,216.82L237.03,210.78Z"/>
<path fill="#0cc98d" d="M369.09,194.29L377.17,192.97L370.76,196.79L362.68,198.29Z"/>
<path fill="#08bfb5" d="M257.93,207.2L266.01,211.84L259.6,217L251.52,211.79Z"/>
<path fill="#08c0b3" d="M309.47,206.18L317.55,207.62L311.14,212.67L303.06,211.1Z"/>
<path fill="#0ac69d" d="M346.53,199.58L354.61,199.22L348.2,203.4L340.12,203.9Z"/>
<path fill="#08c0b3" d="M272.42,207.08L280.5,210.81L274.09,216.06L266.01,211.84Z"/>
<path fill="#16cd77" d="M383.58,188.95L391.66,187.26L385.25,191.14L377.17,192.97Z"/>
<path fill="#28cf69" d="M191.9,188.58L199.98,196.8L193.57,199.04L185.49,189.89Z"/>
<path fill="#09c4a5" d="M323.96,202.98L332.04,203.75L325.63,208.39L317.55,207.62Z"/>
<path fill="#0fcb80" d="M206.39,194.13L214.46,201.56L208.05,205.26L199.98,196.8Z"/>
<path fill="#0dca8a" d="M361.01,195.08L369.09,194.29L362.68,198.29L354.61,199.22Z"/>
<path fill="#09c2ad" d="M286.9,206L294.98,208.85L288.57,214.01L280.5,210.81Z"/>
<path fill="#0cc98f" d="M220.87,198.02L228.95,204.5L222.54,208.83L214.46,201.56Z"/>
<path fill="#0ac798" d="M235.36,200.63L243.44,206.32L237.03,210.78L228.95,204.5Z"/>
<path fill="#0bc895" d="M338.45,199.36L346.53,199.58L340.12,203.9L332.04,203.75Z"/>
<path fill="#09c4a4" d="M301.39,204.12L309.47,206.18L303.06,211.1L294.98,208.85Z"/>
<path fill="#0ac69c" d="M249.85,202.26L257.93,207.2L251.52,211.79L243.44,206.32Z"/>
<path fill="#19cd75" d="M375.5,190.15L383.58,188.95L377.17,192.97L369.09,194.29Z"/>
<path fill="#0ac69d" d="M264.34,202.93L272.42,207.08L266.01,211.84L257.93,207.2Z"/>
<path fill="#0ac799" d="M315.88,201.61L323.96,202.98L317.55,207.62L309.47,206.18Z"/>
<path fill="#0ecb84" d="M352.94,195.33L361.01,195.08L354.61,199.22L346.53,199.58Z"/>
<path fill="#0ac79a" d="M278.83,202.65L286.9,206L280.5,210.81L272.42,207.08Z"/>
<path fill="#42d05a" d="M198.31,186.81L206.39,194.13L199.98,196.8L191.9,188.58Z"/>
<path fill="#24ce6d" d="M212.79,191.42L220.87,198.02L214.46,201.56L206.39,194.13Z"/>
<path fill="#0dc98b" d="M330.37,198.58L338.45,199.36L332.04,203.75L323.96,202.98Z"/>
<path fill="#1fce71" d="M367.42,190.84L375.5,190.15L369.09,194.29L361.01,195.08Z"/>
<path fill="#15cd79" d="M227.28,194.77L235.36,200.63L228.95,204.5L220.87,198.02Z"/>
<path fill="#0bc894" d="M293.31,201.53L301.39,204.12L294.98,208.85L286.9,206Z"/>
<path fill="#0fcb80" d="M241.77,197.08L249.85,202.26L243.44,206.32L235.36,200.63Z"/>
<path fill="#11cc7b" d="M344.86,195.06L352.94,195.33L346.53,199.58L338.45,199.36Z"/>
<path fill="#0dca8a" d="M307.8,199.7L315.88,201.61L309.47,206.18L301.39,204.12Z"/>
<path fill="#0ecb84" d="M256.26,198.44L264.34,202.93L257.93,207.2L249.85,202.26Z"/>
<path fill="#0ecb84" d="M270.75,198.88L278.83,202.65L272.42,207.08L264.34,202.93Z"/>
<path fill="#0fcc7f" d="M322.29,197.25L330.37,198.58L323.96,202.98L315.88,201.61Z"/>
<path fill="#27cf6a" d="M359.35,191.02L367.42,190.84L361.01,195.08L352.94,195.33Z"/>
<path fill="#0fcb80" d="M285.24,198.46L293.31,201.53L286.9,206L278.83,202.65Z"/>
<path fill="#6cd049" d="M204.72,184.82L212.79,191.42L206.39,194.13L198.31,186.81Z"/>
<path fill="#47d058" d="M219.2,188.78L227.28,194.77L220.87,198.02L212.79,191.42Z"/>
<path fill="#1ece71" d="M336.78,194.25L344.86,195.06L338.45,199.36L330.37,198.58Z"/>
<path fill="#30d063" d="M233.69,191.7L241.77,197.08L235.36,200.63L227.28,194.77Z"/>
<path fill="#13cc7a" d="M299.72,197.27L307.8,199.7L301.39,204.12L293.31,201.53Z"/>
<path fill="#28cf69" d="M248.18,193.67L256.26,198.44L249.85,202.26L241.77,197.08Z"/>
<path fill="#32d062" d="M351.27,190.7L359.35,191.02L352.94,195.33L344.86,195.06Z"/>
<path fill="#1fce71" d="M314.21,195.41L322.29,197.25L315.88,201.61L307.8,199.7Z"/>
<path fill="#25ce6c" d="M262.67,194.74L270.75,198.88L264.34,202.93L256.26,198.44Z"/>
<path fill="#26ce6b" d="M277.16,194.95L285.24,198.46L278.83,202.65L270.75,198.88Z"/>
<path fill="#2ecf65" d="M328.7,192.94L336.78,194.25L330.37,198.58L322.29,197.25Z"/>
<path fill="#9bcc35" d="M211.12,182.69L219.2,188.78L212.79,191.42L204.72,184.82Z"/>
<path fill="#2bcf67" d="M291.64,194.37L299.72,197.27L293.31,201.53L285.24,198.46Z"/>
<path fill="#78d043" d="M225.61,186.13L233.69,191.7L227.28,194.77L219.2,188.78Z"/>
<path fill="#4ad057" d="M343.19,189.86L351.27,190.7L344.86,195.06L336.78,194.25Z"/>
<path fill="#63d04c" d="M240.1,188.64L248.18,193.67L241.77,197.08L233.69,191.7Z"/>
<path fill="#35d060" d="M306.13,193.08L314.21,195.41L307.8,199.7L299.72,197.27Z"/>
<path fill="#56d052" d="M254.59,190.27L262.67,194.74L256.26,198.44L248.18,193.67Z"/>
<path fill="#53d053" d="M269.08,191.05L277.16,194.95L270.75,198.88L262.67,194.74Z"/>
<path fill="#4cd056" d="M320.62,191.13L328.7,192.94L322.29,197.25L314.21,195.41Z"/>
<path fill="#57d052" d="M283.57,191.04L291.64,194.37L285.24,198.46L277.16,194.95Z"/>
<path fill="#69d04a" d="M335.11,188.54L343.19,189.86L336.78,194.25L328.7,192.94Z"/>
<path fill="#c8c726" d="M217.53,180.38L225.61,186.13L219.2,188.78L211.12,182.69Z"/>
<path fill="#62d04d" d="M298.05,190.28L306.13,193.08L299.72,197.27L291.64,194.37Z"/>
<path fill="#b0ca2c" d="M232.02,183.37L240.1,188.64L233.69,191.7L225.61,186.13Z"/>
<path fill="#9ccc34" d="M246.51,185.49L254.59,190.27L248.18,193.67L240.1,188.64Z"/>
<path fill="#74d045" d="M312.54,188.84L320.62,191.13L314.21,195.41L306.13,193.08Z"/>
<path fill="#92cd39" d="M261,186.79L269.08,191.05L262.67,194.74L254.59,190.27Z"/>
<path fill="#90ce39" d="M275.49,187.29L283.57,191.04L277.16,194.95L269.08,191.05Z"/>
<path fill="#8fce3a" d="M327.03,186.72L335.11,188.54L328.7,192.94L320.62,191.13Z"/>
<path fill="#98cd36" d="M289.98,187.04L298.05,190.28L291.64,194.37L283.57,191.04Z"/>
<path fill="#e9c124" d="M223.94,177.84L232.02,183.37L225.61,186.13L217.53,180.38Z"/>
<path fill="#ddc323" d="M238.43,180.41L246.51,185.49L240.1,188.64L232.02,183.37Z"/>
<path fill="#a7cb30" d="M304.46,186.08L312.54,188.84L306.13,193.08L298.05,190.28Z"/>
<path fill="#d1c524" d="M252.92,182.17L261,186.79L254.59,190.27L246.51,185.49Z"/>
<path fill="#bcc928" d="M318.95,184.43L327.03,186.72L320.62,191.13L312.54,188.84Z"/>
<path fill="#ccc625" d="M267.41,183.14L275.49,187.29L269.08,191.05L261,186.79Z"/>
<path fill="#cec625" d="M281.9,183.37L289.98,187.04L283.57,191.04L275.49,187.29Z"/>
<path fill="#d5c524" d="M296.38,182.87L304.46,186.08L298.05,190.28L289.98,187.04Z"/>
<path fill="#f7bc2e" d="M230.35,175.01L238.43,180.41L232.02,183.37L223.94,177.84Z"/>
<path fill="#f2be2a" d="M244.84,177.19L252.92,182.17L246.51,185.49L238.43,180.41Z"/>
<path fill="#e2c222" d="M310.87,181.67L318.95,184.43L312.54,188.84L304.46,186.08Z"/>
<path fill="#efbf28" d="M259.33,178.61L267.41,183.14L261,186.79L252.92,182.17Z"/>
<path fill="#eebf27" d="M273.82,179.27L281.9,183.37L275.49,187.29L267.41,183.14Z"/>
<path fill="#efbf28" d="M288.31,179.21L296.38,182.87L289.98,187.04L281.9,183.37Z"/>
<path fill="#fbbf32" d="M236.76,171.86L244.84,177.19L238.43,180.41L230.35,175.01Z"/>
<path fill="#f2be2b" d="M302.79,178.44L310.87,181.67L304.46,186.08L296.38,182.87Z"/>
<path fill="#fbbe31" d="M251.25,173.68L259.33,178.61L252.92,182.17L244.84,177.19Z"/>
<path fill="#fbbd31" d="M265.74,174.76L273.82,179.27L267.41,183.14L259.33,178.61Z"/>
<path fill="#fbbd31" d="M280.23,175.12L288.31,179.21L281.9,183.37L273.82,179.27Z"/>
<path fill="#fbbe31" d="M294.72,174.76L302.79,178.44L296.38,182.87L288.31,179.21Z"/>
<path fill="#fcc830" d="M243.17,168.37L251.25,173.68L244.84,177.19L236.76,171.86Z"/>
<path fill="#fcc531" d="M257.66,169.83L265.74,174.76L259.33,178.61L251.25,173.68Z"/>
<path fill="#fcc432" d="M272.15,170.58L280.23,175.12L273.82,179.27L265.74,174.76Z"/>
<path fill="#fcc531" d="M286.64,170.63L294.72,174.76L288.31,179.21L280.23,175.12Z"/>
<path fill="#f9da27" d="M249.58,164.49L257.66,169.83L251.25,173.68L243.17,168.37Z"/>
<path fill="#fad728" d="M264.07,165.61L272.15,170.58L265.74,174.76L257.66,169.83Z"/>
<path fill="#fad629" d="M278.56,166.04L286.64,170.63L280.23,175.12L272.15,170.58Z"/>
<path fill="#f6f01a" d="M255.99,160.21L264.07,165.61L257.66,169.83L249.58,164.49Z"/>
<path fill="#f6ee1a" d="M270.48,161L278.56,166.04L272.15,170.58L264.07,165.61Z"/>
<path fill="#f9fb15" d="M262.4,155.51L270.48,161L264.07,165.61L255.99,160.21Z"/>
</g>
<g font-family="'Liberation Serif','Times New Roman',serif" font-size="14.5" fill="#262626"><text x="44.6" y="226.4" text-anchor="end">3</text><text x="44.6" y="195.4" text-anchor="end">3.5</text><text x="44.6" y="164.4" text-anchor="end">4</text><text x="44.6" y="133.4" text-anchor="end">4.5</text><text x="44.6" y="102.4" text-anchor="end">5</text><text x="44.6" y="71.4" text-anchor="end">5.5</text><text x="44.6" y="272.5" text-anchor="end">1.5</text><text x="95.88" y="293.57" text-anchor="end">1.4</text><text x="147.15" y="314.65" text-anchor="end">1.3</text><text x="198.42" y="335.73" text-anchor="end">1.2</text><text x="249.7" y="356.8" text-anchor="end">1.1</text><text x="276.7" y="358.3" text-anchor="middle">1</text><text x="343.5" y="342.3" text-anchor="middle">2</text><text x="410.3" y="326.3" text-anchor="middle">3</text><text x="477.1" y="310.3" text-anchor="middle">4</text><text x="543.9" y="294.3" text-anchor="middle">5</text></g>
<g font-family="'Liberation Serif','Times New Roman',serif" font-size="16.5" fill="#262626"><text x="83.2" y="358.7">DC/AC ratio</text><text x="362" y="364.2">PV capacity (kW<tspan font-size="12" dx="1" dy="7">p</tspan><tspan dy="-7">)</tspan></text><text transform="translate(18.6,162.4) rotate(-90)" text-anchor="middle">System Cost (USD)</text></g>
<path d="M114.73,278.7L68.21,259.59M457.02,291.66L518.71,276.53M57.3,70L57.2,63" stroke="#000" stroke-width="1.15" fill="none"/>
<path d="M62.66,257.3L73.97,257.41L69.66,260.18L70.78,265.18Z" fill="#000"/>
<path d="M524.53,275.1L515.34,281.68L517.19,276.9L513.33,273.52Z" fill="#000"/>
<path d="M57.2,57.2L61.4,67.7L57.2,64.76L53,67.7Z" fill="#000"/>
<rect x="250.8" y="277.6" width="75.5" height="50.5" rx="2" ry="2" fill="#fbfbfb" fill-opacity="0.96" stroke="#c4c4c4" stroke-width="0.8"/>
<g font-family="'Liberation Sans',Arial,sans-serif" font-size="11" fill="#404040"><text x="256.2" y="293.4">X</text><text x="256.2" y="307.2">Y</text><text x="256.2" y="320.8">Z</text></g>
<g font-family="'Liberation Serif','Times New Roman',serif" font-size="12.4" fill="#2a2ad8" letter-spacing="0.75"><text x="269.6" y="293.4">1.2872</text><text x="269.6" y="307.2">2.3211</text><text x="269.6" y="320.8">2.2235</text></g>
<circle cx="249.3" cy="275.9" r="2.6" fill="#111" stroke="#fff" stroke-width="0.8"/>
</svg></body></html>
